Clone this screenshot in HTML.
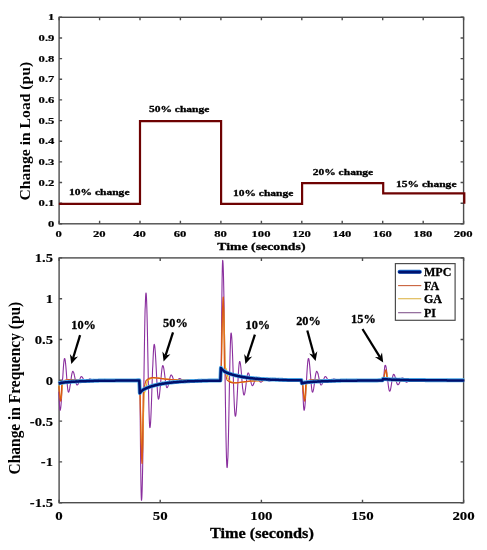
<!DOCTYPE html>
<html><head><meta charset="utf-8"><title>Load change and frequency response</title>
<style>html,body{margin:0;padding:0;background:#fff;}svg{display:block;}</style>
</head><body>
<svg width="487" height="550" viewBox="0 0 487 550">
<rect width="487" height="550" fill="#fff"/>
<rect x="59.1" y="17.3" width="404.5" height="206.5" stroke="#4d4d4d" stroke-width="1.4" fill="none"/>
<path d="M59.1 223.8v-3M59.1 17.3v3M59.1 223.8h3M463.6 223.8h-3M99.6 223.8v-3M99.6 17.3v3M59.1 203.2h3M463.6 203.2h-3M140.0 223.8v-3M140.0 17.3v3M59.1 182.5h3M463.6 182.5h-3M180.4 223.8v-3M180.4 17.3v3M59.1 161.9h3M463.6 161.9h-3M220.9 223.8v-3M220.9 17.3v3M59.1 141.2h3M463.6 141.2h-3M261.4 223.8v-3M261.4 17.3v3M59.1 120.6h3M463.6 120.6h-3M301.8 223.8v-3M301.8 17.3v3M59.1 99.9h3M463.6 99.9h-3M342.2 223.8v-3M342.2 17.3v3M59.1 79.3h3M463.6 79.3h-3M382.7 223.8v-3M382.7 17.3v3M59.1 58.6h3M463.6 58.6h-3M423.2 223.8v-3M423.2 17.3v3M59.1 38.0h3M463.6 38.0h-3M463.6 223.8v-3M463.6 17.3v3M59.1 17.3h3M463.6 17.3h-3" stroke="#4d4d4d" stroke-width="1.4" fill="none"/>
<polyline points="58.9,203.8 140.0,203.8 140.0,121.2 221.1,121.2 221.1,203.8 302.1,203.8 302.1,183.1 383.2,183.1 383.2,193.4 464.3,193.4 464.3,203.8" fill="none" stroke="#6e0202" stroke-width="2.2" stroke-linejoin="miter"/>
<text x="54.4" y="226.9" font-family="'Liberation Serif', 'Times New Roman', serif" font-weight="bold" stroke="#000" stroke-width="0.2" font-size="8.9" text-anchor="end" transform="translate(54.4 0) scale(1.42 1) translate(-54.4 0)">0</text>
<text x="54.4" y="206.2" font-family="'Liberation Serif', 'Times New Roman', serif" font-weight="bold" stroke="#000" stroke-width="0.2" font-size="8.9" text-anchor="end" transform="translate(54.4 0) scale(1.42 1) translate(-54.4 0)">0.1</text>
<text x="54.4" y="185.6" font-family="'Liberation Serif', 'Times New Roman', serif" font-weight="bold" stroke="#000" stroke-width="0.2" font-size="8.9" text-anchor="end" transform="translate(54.4 0) scale(1.42 1) translate(-54.4 0)">0.2</text>
<text x="54.4" y="164.9" font-family="'Liberation Serif', 'Times New Roman', serif" font-weight="bold" stroke="#000" stroke-width="0.2" font-size="8.9" text-anchor="end" transform="translate(54.4 0) scale(1.42 1) translate(-54.4 0)">0.3</text>
<text x="54.4" y="144.2" font-family="'Liberation Serif', 'Times New Roman', serif" font-weight="bold" stroke="#000" stroke-width="0.2" font-size="8.9" text-anchor="end" transform="translate(54.4 0) scale(1.42 1) translate(-54.4 0)">0.4</text>
<text x="54.4" y="123.6" font-family="'Liberation Serif', 'Times New Roman', serif" font-weight="bold" stroke="#000" stroke-width="0.2" font-size="8.9" text-anchor="end" transform="translate(54.4 0) scale(1.42 1) translate(-54.4 0)">0.5</text>
<text x="54.4" y="103.0" font-family="'Liberation Serif', 'Times New Roman', serif" font-weight="bold" stroke="#000" stroke-width="0.2" font-size="8.9" text-anchor="end" transform="translate(54.4 0) scale(1.42 1) translate(-54.4 0)">0.6</text>
<text x="54.4" y="82.3" font-family="'Liberation Serif', 'Times New Roman', serif" font-weight="bold" stroke="#000" stroke-width="0.2" font-size="8.9" text-anchor="end" transform="translate(54.4 0) scale(1.42 1) translate(-54.4 0)">0.7</text>
<text x="54.4" y="61.6" font-family="'Liberation Serif', 'Times New Roman', serif" font-weight="bold" stroke="#000" stroke-width="0.2" font-size="8.9" text-anchor="end" transform="translate(54.4 0) scale(1.42 1) translate(-54.4 0)">0.8</text>
<text x="54.4" y="41.0" font-family="'Liberation Serif', 'Times New Roman', serif" font-weight="bold" stroke="#000" stroke-width="0.2" font-size="8.9" text-anchor="end" transform="translate(54.4 0) scale(1.42 1) translate(-54.4 0)">0.9</text>
<text x="54.4" y="20.4" font-family="'Liberation Serif', 'Times New Roman', serif" font-weight="bold" stroke="#000" stroke-width="0.2" font-size="8.9" text-anchor="end" transform="translate(54.4 0) scale(1.42 1) translate(-54.4 0)">1</text>
<text x="58.7" y="236.9" font-family="'Liberation Serif', 'Times New Roman', serif" font-weight="bold" stroke="#000" stroke-width="0.2" font-size="8.9" text-anchor="middle" transform="translate(58.7 0) scale(1.42 1) translate(-58.7 0)">0</text>
<text x="99.2" y="236.9" font-family="'Liberation Serif', 'Times New Roman', serif" font-weight="bold" stroke="#000" stroke-width="0.2" font-size="8.9" text-anchor="middle" transform="translate(99.2 0) scale(1.42 1) translate(-99.2 0)">20</text>
<text x="139.6" y="236.9" font-family="'Liberation Serif', 'Times New Roman', serif" font-weight="bold" stroke="#000" stroke-width="0.2" font-size="8.9" text-anchor="middle" transform="translate(139.6 0) scale(1.42 1) translate(-139.6 0)">40</text>
<text x="180.0" y="236.9" font-family="'Liberation Serif', 'Times New Roman', serif" font-weight="bold" stroke="#000" stroke-width="0.2" font-size="8.9" text-anchor="middle" transform="translate(180.0 0) scale(1.42 1) translate(-180.0 0)">60</text>
<text x="220.5" y="236.9" font-family="'Liberation Serif', 'Times New Roman', serif" font-weight="bold" stroke="#000" stroke-width="0.2" font-size="8.9" text-anchor="middle" transform="translate(220.5 0) scale(1.42 1) translate(-220.5 0)">80</text>
<text x="261.0" y="236.9" font-family="'Liberation Serif', 'Times New Roman', serif" font-weight="bold" stroke="#000" stroke-width="0.2" font-size="8.9" text-anchor="middle" transform="translate(261.0 0) scale(1.42 1) translate(-261.0 0)">100</text>
<text x="301.4" y="236.9" font-family="'Liberation Serif', 'Times New Roman', serif" font-weight="bold" stroke="#000" stroke-width="0.2" font-size="8.9" text-anchor="middle" transform="translate(301.4 0) scale(1.42 1) translate(-301.4 0)">120</text>
<text x="341.9" y="236.9" font-family="'Liberation Serif', 'Times New Roman', serif" font-weight="bold" stroke="#000" stroke-width="0.2" font-size="8.9" text-anchor="middle" transform="translate(341.9 0) scale(1.42 1) translate(-341.9 0)">140</text>
<text x="382.3" y="236.9" font-family="'Liberation Serif', 'Times New Roman', serif" font-weight="bold" stroke="#000" stroke-width="0.2" font-size="8.9" text-anchor="middle" transform="translate(382.3 0) scale(1.42 1) translate(-382.3 0)">160</text>
<text x="422.8" y="236.9" font-family="'Liberation Serif', 'Times New Roman', serif" font-weight="bold" stroke="#000" stroke-width="0.2" font-size="8.9" text-anchor="middle" transform="translate(422.8 0) scale(1.42 1) translate(-422.8 0)">180</text>
<text x="463.2" y="236.9" font-family="'Liberation Serif', 'Times New Roman', serif" font-weight="bold" stroke="#000" stroke-width="0.2" font-size="8.9" text-anchor="middle" transform="translate(463.2 0) scale(1.42 1) translate(-463.2 0)">200</text>
<text x="217.2" y="250" font-family="'Liberation Serif', 'Times New Roman', serif" font-weight="bold" stroke="#000" stroke-width="0.3" font-size="11.2" textLength="88.3" lengthAdjust="spacingAndGlyphs">Time (seconds)</text>
<text transform="translate(29.8 200.6) rotate(-90)" x="0" y="0" font-family="'Liberation Serif', 'Times New Roman', serif" font-weight="bold" font-size="14" textLength="138.8" lengthAdjust="spacingAndGlyphs">Change in Load (pu)</text>
<text x="69.0" y="195.0" font-family="'Liberation Serif', 'Times New Roman', serif" font-weight="bold" stroke="#000" stroke-width="0.3" font-size="9" textLength="60.5" lengthAdjust="spacingAndGlyphs">10% change</text>
<text x="148.9" y="112.0" font-family="'Liberation Serif', 'Times New Roman', serif" font-weight="bold" stroke="#000" stroke-width="0.3" font-size="9" textLength="60.5" lengthAdjust="spacingAndGlyphs">50% change</text>
<text x="232.9" y="196.0" font-family="'Liberation Serif', 'Times New Roman', serif" font-weight="bold" stroke="#000" stroke-width="0.3" font-size="9" textLength="60.5" lengthAdjust="spacingAndGlyphs">10% change</text>
<text x="312.7" y="174.9" font-family="'Liberation Serif', 'Times New Roman', serif" font-weight="bold" stroke="#000" stroke-width="0.3" font-size="9" textLength="60.5" lengthAdjust="spacingAndGlyphs">20% change</text>
<text x="396.0" y="186.8" font-family="'Liberation Serif', 'Times New Roman', serif" font-weight="bold" stroke="#000" stroke-width="0.3" font-size="9" textLength="60.5" lengthAdjust="spacingAndGlyphs">15% change</text>
<rect x="59.1" y="257.9" width="404.5" height="244.8" stroke="#4d4d4d" stroke-width="1.4" fill="none"/>
<path d="M59.1 502.7v-3M59.1 257.9v3M160.2 502.7v-3M160.2 257.9v3M261.4 502.7v-3M261.4 257.9v3M362.5 502.7v-3M362.5 257.9v3M463.6 502.7v-3M463.6 257.9v3M59.1 502.7h3M463.6 502.7h-3M59.1 461.9h3M463.6 461.9h-3M59.1 421.1h3M463.6 421.1h-3M59.1 380.3h3M463.6 380.3h-3M59.1 339.5h3M463.6 339.5h-3M59.1 298.7h3M463.6 298.7h-3M59.1 257.9h3M463.6 257.9h-3" stroke="#4d4d4d" stroke-width="1.4" fill="none"/>
<g fill="none" stroke-linejoin="round">
<polyline points="58.9,391.8 59.0,394.4 59.1,397.0 59.2,399.3 59.3,401.5 59.4,403.5 59.5,405.2 59.6,406.7 59.7,408.0 59.8,409.0 59.9,409.7 60.0,410.1 60.1,410.3 60.2,410.2 60.3,410.0 60.4,409.7 60.5,409.2 60.6,408.7 60.7,407.9 60.8,407.1 60.9,406.2 61.0,405.1 61.1,404.0 61.2,402.7 61.3,401.3 61.4,399.9 61.5,398.4 61.6,396.8 61.7,395.1 61.8,393.4 61.9,391.7 62.0,389.9 62.1,388.1 62.2,386.2 62.3,384.4 62.4,382.5 62.5,380.7 62.6,378.9 62.8,377.1 62.9,375.3 63.0,373.6 63.1,372.0 63.2,370.4 63.3,368.9 63.4,367.4 63.5,366.1 63.6,364.8 63.7,363.6 63.8,362.6 63.9,361.6 64.0,360.8 64.1,360.1 64.2,359.5 64.3,359.1 64.4,358.7 64.5,358.5 64.6,358.5 64.7,358.5 64.8,358.7 64.9,359.0 65.0,359.3 65.1,359.8 65.2,360.4 65.3,361.1 65.4,361.8 65.5,362.7 65.6,363.6 65.7,364.7 65.8,365.7 65.9,366.9 66.0,368.1 66.1,369.3 66.2,370.6 66.3,371.9 66.4,373.3 66.5,374.6 66.6,376.0 66.7,377.3 66.8,378.7 66.9,380.0 67.0,381.3 67.1,382.5 67.2,383.7 67.3,384.9 67.4,385.9 67.5,387.0 67.6,387.9 67.7,388.8 67.8,389.5 67.9,390.2 68.0,390.8 68.1,391.3 68.2,391.6 68.3,391.9 68.4,392.1 68.5,392.1 68.6,392.1 68.7,392.0 68.8,391.9 68.9,391.7 69.0,391.4 69.1,391.1 69.2,390.8 69.3,390.4 69.4,389.9 69.5,389.4 69.6,388.9 69.7,388.3 69.8,387.7 69.9,387.0 70.0,386.3 70.1,385.6 70.3,384.9 70.4,384.2 70.5,383.4 70.6,382.7 70.7,381.9 70.8,381.1 70.9,380.3 71.0,379.6 71.1,378.8 71.2,378.1 71.3,377.4 71.4,376.7 71.5,376.0 71.6,375.4 71.7,374.8 71.8,374.3 71.9,373.7 72.0,373.3 72.1,372.8 72.2,372.5 72.3,372.1 72.4,371.9 72.5,371.7 72.6,371.5 72.7,371.4 72.8,371.3 72.9,371.3 73.0,371.4 73.1,371.4 73.2,371.6 73.3,371.7 73.4,371.9 73.5,372.1 73.6,372.4 73.7,372.7 73.8,373.0 73.9,373.3 74.0,373.7 74.1,374.1 74.2,374.5 74.3,374.9 74.4,375.4 74.5,375.8 74.6,376.3 74.7,376.8 74.8,377.3 74.9,377.8 75.0,378.3 75.1,378.8 75.2,379.3 75.3,379.8 75.4,380.3 75.5,380.8 75.6,381.2 75.7,381.7 75.8,382.1 75.9,382.5 76.0,382.9 76.1,383.2 76.2,383.5 76.3,383.8 76.4,384.1 76.5,384.3 76.6,384.5 76.7,384.7 76.8,384.8 76.9,384.9 77.0,385.0 77.1,385.0 77.2,385.0 77.3,384.9 77.4,384.9 77.5,384.8 77.6,384.7 77.8,384.6 77.9,384.4 78.0,384.3 78.1,384.1 78.2,383.9 78.3,383.7 78.4,383.4 78.5,383.2 78.6,382.9 78.7,382.6 78.8,382.3 78.9,382.0 79.0,381.7 79.1,381.4 79.2,381.1 79.3,380.8 79.4,380.5 79.5,380.2 79.6,379.9 79.7,379.6 79.8,379.3 79.9,379.0 80.0,378.7 80.1,378.5 80.2,378.2 80.3,378.0 80.4,377.7 80.5,377.5 80.6,377.4 80.7,377.2 80.8,377.0 80.9,376.9 81.0,376.8 81.1,376.7 81.2,376.7 81.3,376.6 81.4,376.6 81.5,376.6 81.6,376.7 81.7,376.7 81.8,376.8 81.9,376.8 82.0,376.9 82.1,377.0 82.2,377.1 82.3,377.2 82.4,377.4 82.5,377.5 82.6,377.7 82.7,377.8 82.8,378.0 82.9,378.2 83.0,378.4 83.1,378.6 83.2,378.8 83.3,379.0 83.4,379.2 83.5,379.4 83.6,379.6 83.7,379.8 83.8,380.0 83.9,380.2 84.0,380.4 84.1,380.6 84.2,380.8 84.3,380.9 84.4,381.1 84.5,381.3 84.6,381.4 84.7,381.5 84.8,381.7 84.9,381.8 85.0,381.9 85.1,381.9 85.3,382.0 85.4,382.1 85.5,382.1 85.6,382.1 85.7,382.1 85.8,382.1 85.9,382.1 86.0,382.1 86.1,382.1 86.2,382.0 86.3,382.0 86.4,381.9 86.5,381.8 86.6,381.8 86.7,381.7 86.8,381.6 86.9,381.5 87.0,381.4 87.1,381.3 87.2,381.2 87.3,381.1 87.4,381.0 87.5,380.9 87.6,380.7 87.7,380.6 87.8,380.5 87.9,380.4 88.0,380.3 88.1,380.1 88.2,380.0 88.3,379.9 88.4,379.8 88.5,379.7 88.6,379.6 88.7,379.5 88.8,379.4 88.9,379.3 89.0,379.3 89.1,379.2 89.2,379.1 89.3,379.1 89.4,379.0 89.5,379.0 89.6,379.0 89.7,379.0 89.8,379.0 89.9,379.0 90.0,379.0 90.1,379.0 90.2,379.0 90.3,379.0 90.4,379.1 90.5,379.1 90.6,379.2 90.7,379.2 90.8,379.3 90.9,379.3 91.0,379.4 91.1,379.4 91.2,379.5 91.3,379.6 91.4,379.6 91.5,379.7 91.6,379.8 91.7,379.8 91.8,379.9 91.9,380.0 92.0,380.1 92.1,380.2 92.2,380.2 92.3,380.3 92.4,380.4 92.5,380.4 92.6,380.5 92.8,380.6 92.9,380.6 93.0,380.7 93.1,380.7 93.2,380.8 93.3,380.8 93.4,380.9 93.5,380.9 93.6,380.9 93.7,380.9 93.8,380.9 93.9,380.9 94.0,381.0 94.1,381.0 94.2,380.9 94.3,380.9 94.4,380.9 94.5,380.9 94.6,380.9 94.7,380.9 94.8,380.9 94.9,380.8 95.0,380.8 95.1,380.8 95.2,380.7 95.3,380.7 95.4,380.7 95.5,380.6 95.6,380.6 95.7,380.6 95.8,380.5 95.9,380.5 96.0,380.4 96.1,380.4 96.2,380.4 96.3,380.3 96.4,380.3 96.5,380.2 96.6,380.2 96.7,380.2 96.8,380.1 96.9,380.1 97.0,380.1 97.1,380.0 97.2,380.0 97.3,380.0 97.4,379.9 97.5,379.9 97.6,379.9 97.7,379.9 97.8,379.9 97.9,379.9 98.0,379.9 98.1,379.9 98.2,379.9 98.3,379.9 98.4,379.9 98.5,379.9 98.6,379.9 98.7,379.9 98.8,379.9 98.9,379.9 99.0,379.9 99.1,379.9 99.2,379.9 99.3,380.0 99.4,380.0 99.5,380.0 99.6,380.0 99.7,380.0 99.8,380.1 99.9,380.1 100.0,380.1 100.1,380.1 100.3,380.2 100.4,380.2 100.5,380.2 100.6,380.2 100.7,380.3 100.8,380.3 100.9,380.3 101.0,380.3 101.1,380.4 101.2,380.4 101.3,380.4 101.4,380.4 101.5,380.4 101.6,380.5 101.7,380.5 101.8,380.5 101.9,380.5 102.0,380.5 102.1,380.5 102.2,380.5 102.3,380.5 102.4,380.5 102.5,380.5 102.6,380.5 102.7,380.5 102.8,380.5 102.9,380.5 103.0,380.5 103.1,380.5 103.2,380.5 103.3,380.5 103.4,380.5 103.5,380.5 103.6,380.5 103.7,380.5 103.8,380.4 103.9,380.4 104.0,380.4 104.1,380.4 104.2,380.4 104.3,380.4 104.4,380.4 104.5,380.4 104.6,380.3 104.7,380.3 104.8,380.3 104.9,380.3 105.0,380.3 105.1,380.3 105.2,380.3 105.3,380.2 105.4,380.2 105.5,380.2 105.6,380.2 105.7,380.2 105.8,380.2 105.9,380.2 106.0,380.2 106.1,380.2 106.2,380.2 106.3,380.2 106.4,380.2 106.5,380.2 106.6,380.2 106.7,380.2 106.8,380.2 106.9,380.2 107.0,380.2 107.1,380.2 107.2,380.2 107.3,380.2 107.4,380.2 107.5,380.2 107.6,380.2 107.8,380.2 107.9,380.2 108.0,380.2 108.1,380.2 108.2,380.2 108.3,380.2 108.4,380.2 108.5,380.2 108.6,380.2 108.7,380.2 108.8,380.3 108.9,380.3 109.0,380.3 109.1,380.3 109.2,380.3 109.3,380.3 109.4,380.3 109.5,380.3 109.6,380.3 109.7,380.3 109.8,380.3 109.9,380.3 110.0,380.3 110.1,380.3 110.2,380.3 110.3,380.3 110.4,380.4 110.5,380.4 110.6,380.4 110.7,380.4 110.8,380.4 110.9,380.4 111.0,380.4 111.1,380.4 111.2,380.4 111.3,380.4 111.4,380.4 111.5,380.4 111.6,380.4 111.7,380.4 111.8,380.4 111.9,380.4 112.0,380.4 112.1,380.4 112.2,380.3 112.3,380.3 112.4,380.3 112.5,380.3 112.6,380.3 112.7,380.3 112.8,380.3 112.9,380.3 113.0,380.3 113.1,380.3 113.2,380.3 113.3,380.3 113.4,380.3 113.5,380.3 113.6,380.3 113.7,380.3 113.8,380.3 113.9,380.3 114.0,380.3 114.1,380.3 114.2,380.3 114.3,380.3 114.4,380.3 114.5,380.3 114.6,380.3 114.7,380.3 114.8,380.3 114.9,380.3 115.0,380.3 115.1,380.3 115.3,380.3 115.4,380.3 115.5,380.3 115.6,380.3 115.7,380.3 115.8,380.3 115.9,380.3 116.0,380.3 116.1,380.3 116.2,380.3 116.3,380.3 116.4,380.3 116.5,380.3 116.6,380.3 116.7,380.3 116.8,380.3 116.9,380.3 117.0,380.3 117.1,380.3 117.2,380.3 117.3,380.3 117.4,380.3 117.5,380.3 117.6,380.3 117.7,380.3 117.8,380.3 117.9,380.3 118.0,380.3 118.1,380.3 118.2,380.3 118.3,380.3 118.4,380.3 118.5,380.3 118.6,380.3 118.7,380.3 118.8,380.3 118.9,380.3 119.0,380.3 119.1,380.3 119.2,380.3 119.3,380.3 119.4,380.3 119.5,380.3 119.6,380.3 119.7,380.3 119.8,380.3 119.9,380.3 120.0,380.3 120.1,380.3 120.2,380.3 120.3,380.3 120.4,380.3 120.5,380.3 120.6,380.3 120.7,380.3 120.8,380.3 120.9,380.3 121.0,380.3 121.1,380.3 121.2,380.3 121.3,380.3 121.4,380.3 121.5,380.3 121.6,380.3 121.7,380.3 121.8,380.3 121.9,380.3 122.0,380.3 122.1,380.3 122.2,380.3 122.3,380.3 122.4,380.3 122.5,380.3 122.6,380.3 122.8,380.3 122.9,380.3 123.0,380.3 123.1,380.3 123.2,380.3 123.3,380.3 123.4,380.3 123.5,380.3 123.6,380.3 123.7,380.3 123.8,380.3 125.8,380.3 127.8,380.3 129.8,380.3 131.9,380.3 133.9,380.3 135.9,380.3 138.0,380.3 138.1,380.3 138.2,380.3 138.3,380.3 138.4,380.3 138.5,380.3 138.6,380.3 138.7,380.3 138.8,380.3 138.9,380.3 139.0,380.3 139.1,380.3 139.2,380.3 139.3,380.3 139.4,380.3 139.5,380.3 139.6,380.3 139.7,380.3 139.8,380.3 139.9,380.3 140.0,391.8 140.0,392.1 140.1,403.7 140.2,415.1 140.3,426.2 140.4,436.8 140.5,446.9 140.6,456.4 140.7,465.1 140.8,473.0 140.9,480.0 141.0,486.1 141.1,491.1 141.2,495.1 141.3,497.9 141.4,499.7 141.5,500.3 141.6,500.0 141.7,499.2 141.8,497.9 141.9,496.1 142.0,493.7 142.1,490.9 142.2,487.6 142.3,483.8 142.4,479.6 142.5,474.9 142.6,469.9 142.7,464.5 142.8,458.7 142.9,452.6 143.0,446.3 143.1,439.7 143.2,432.8 143.3,425.8 143.4,418.6 143.5,411.4 143.6,404.0 143.7,396.6 143.8,389.2 143.9,381.9 144.0,374.6 144.1,367.4 144.2,360.4 144.3,353.6 144.4,347.0 144.5,340.6 144.6,334.5 144.7,328.8 144.8,323.3 144.9,318.3 145.0,313.7 145.1,309.4 145.3,305.7 145.4,302.4 145.5,299.5 145.6,297.2 145.7,295.4 145.8,294.0 145.9,293.3 146.0,293.0 146.1,293.2 146.2,293.9 146.3,294.9 146.4,296.5 146.5,298.4 146.6,300.7 146.7,303.4 146.8,306.5 146.9,309.9 147.0,313.7 147.1,317.7 147.2,322.1 147.3,326.6 147.4,331.4 147.5,336.4 147.6,341.6 147.7,346.8 147.8,352.2 147.9,357.6 148.0,363.0 148.1,368.4 148.2,373.8 148.3,379.0 148.4,384.2 148.5,389.2 148.6,394.0 148.7,398.6 148.8,402.9 148.9,406.9 149.0,410.7 149.1,414.1 149.2,417.2 149.3,419.9 149.4,422.2 149.5,424.2 149.6,425.7 149.7,426.8 149.8,427.4 149.9,427.6 150.0,427.5 150.1,427.2 150.2,426.6 150.3,425.8 150.4,424.8 150.5,423.6 150.6,422.2 150.7,420.5 150.8,418.7 150.9,416.7 151.0,414.6 151.1,412.2 151.2,409.8 151.3,407.2 151.4,404.5 151.5,401.7 151.6,398.8 151.7,395.8 151.8,392.8 151.9,389.7 152.0,386.6 152.1,383.5 152.2,380.5 152.3,377.4 152.4,374.4 152.5,371.5 152.6,368.7 152.8,365.9 152.9,363.3 153.0,360.8 153.1,358.4 153.2,356.2 153.3,354.1 153.4,352.2 153.5,350.5 153.6,349.0 153.7,347.7 153.8,346.6 153.9,345.7 154.0,345.1 154.1,344.6 154.2,344.4 154.3,344.4 154.4,344.6 154.5,344.9 154.6,345.4 154.7,346.0 154.8,346.7 154.9,347.6 155.0,348.6 155.1,349.7 155.2,351.0 155.3,352.3 155.4,353.8 155.5,355.4 155.6,357.0 155.7,358.8 155.8,360.6 155.9,362.4 156.0,364.4 156.1,366.3 156.2,368.3 156.3,370.3 156.4,372.3 156.5,374.3 156.6,376.3 156.7,378.3 156.8,380.3 156.9,382.1 157.0,384.0 157.1,385.7 157.2,387.4 157.3,389.0 157.4,390.6 157.5,392.0 157.6,393.3 157.7,394.4 157.8,395.5 157.9,396.4 158.0,397.2 158.1,397.9 158.2,398.4 158.3,398.8 158.4,399.0 158.5,399.1 158.6,399.0 158.7,398.9 158.8,398.6 158.9,398.3 159.0,397.9 159.1,397.4 159.2,396.8 159.3,396.2 159.4,395.4 159.5,394.6 159.6,393.7 159.7,392.8 159.8,391.8 159.9,390.7 160.0,389.6 160.1,388.5 160.2,387.3 160.4,386.1 160.5,384.8 160.6,383.6 160.7,382.3 160.8,381.1 160.9,379.8 161.0,378.6 161.1,377.4 161.2,376.2 161.3,375.1 161.4,374.0 161.5,372.9 161.6,371.9 161.7,371.0 161.8,370.1 161.9,369.3 162.0,368.5 162.1,367.9 162.2,367.3 162.3,366.8 162.4,366.4 162.5,366.0 162.6,365.8 162.7,365.7 162.8,365.6 162.9,365.6 163.0,365.7 163.1,365.9 163.2,366.1 163.3,366.4 163.4,366.7 163.5,367.1 163.6,367.5 163.7,368.0 163.8,368.6 163.9,369.1 164.0,369.8 164.1,370.4 164.2,371.1 164.3,371.8 164.4,372.6 164.5,373.4 164.6,374.2 164.7,375.0 164.8,375.8 164.9,376.6 165.0,377.5 165.1,378.3 165.2,379.1 165.3,379.9 165.4,380.7 165.5,381.4 165.6,382.1 165.7,382.8 165.8,383.5 165.9,384.1 166.0,384.7 166.1,385.2 166.2,385.7 166.3,386.2 166.4,386.6 166.5,386.9 166.6,387.2 166.7,387.4 166.8,387.5 166.9,387.6 167.0,387.6 167.1,387.6 167.2,387.6 167.3,387.5 167.4,387.3 167.5,387.2 167.6,387.0 167.7,386.8 167.9,386.5 168.0,386.2 168.1,385.9 168.2,385.5 168.3,385.2 168.4,384.8 168.5,384.3 168.6,383.9 168.7,383.5 168.8,383.0 168.9,382.5 169.0,382.0 169.1,381.6 169.2,381.1 169.3,380.6 169.4,380.1 169.5,379.6 169.6,379.2 169.7,378.7 169.8,378.3 169.9,377.9 170.0,377.5 170.1,377.1 170.2,376.8 170.3,376.4 170.4,376.1 170.5,375.9 170.6,375.7 170.7,375.5 170.8,375.3 170.9,375.2 171.0,375.1 171.1,375.0 171.2,375.0 171.3,375.0 171.4,375.0 171.5,375.1 171.6,375.2 171.7,375.3 171.8,375.4 171.9,375.6 172.0,375.7 172.1,375.9 172.2,376.1 172.3,376.3 172.4,376.6 172.5,376.8 172.6,377.1 172.7,377.3 172.8,377.6 172.9,377.9 173.0,378.2 173.1,378.5 173.2,378.8 173.3,379.1 173.4,379.4 173.5,379.7 173.6,380.0 173.7,380.3 173.8,380.6 173.9,380.8 174.0,381.1 174.1,381.4 174.2,381.6 174.3,381.8 174.4,382.0 174.5,382.2 174.6,382.4 174.7,382.5 174.8,382.6 174.9,382.7 175.0,382.8 175.1,382.9 175.2,382.9 175.4,382.9 175.5,382.9 175.6,382.9 175.7,382.9 175.8,382.8 175.9,382.8 176.0,382.7 176.1,382.6 176.2,382.5 176.3,382.4 176.4,382.3 176.5,382.2 176.6,382.1 176.7,381.9 176.8,381.8 176.9,381.7 177.0,381.5 177.1,381.4 177.2,381.2 177.3,381.0 177.4,380.9 177.5,380.7 177.6,380.5 177.7,380.4 177.8,380.2 177.9,380.1 178.0,379.9 178.1,379.8 178.2,379.6 178.3,379.5 178.4,379.3 178.5,379.2 178.6,379.1 178.7,379.0 178.8,378.9 178.9,378.8 179.0,378.7 179.1,378.7 179.2,378.6 179.3,378.6 179.4,378.5 179.5,378.5 179.6,378.5 179.7,378.5 179.8,378.5 179.9,378.5 180.0,378.6 180.1,378.6 180.2,378.6 180.3,378.7 180.4,378.7 180.5,378.8 180.6,378.9 180.7,378.9 180.8,379.0 180.9,379.1 181.0,379.2 181.1,379.3 181.2,379.4 181.3,379.5 181.4,379.6 181.5,379.7 181.6,379.8 181.7,379.9 181.8,380.0 181.9,380.1 182.0,380.2 182.1,380.2 182.2,380.3 182.3,380.4 182.4,380.5 182.5,380.6 182.6,380.7 182.7,380.8 182.9,380.8 183.0,380.9 183.1,381.0 183.2,381.0 183.3,381.1 183.4,381.1 183.5,381.1 183.6,381.2 183.7,381.2 183.8,381.2 183.9,381.2 184.0,381.2 184.1,381.2 184.2,381.2 184.3,381.2 184.4,381.1 184.5,381.1 184.6,381.1 184.7,381.1 184.8,381.0 184.9,381.0 185.0,381.0 185.1,380.9 185.2,380.9 185.3,380.8 185.4,380.8 185.5,380.7 185.6,380.7 185.7,380.6 185.8,380.6 185.9,380.5 186.0,380.5 186.1,380.4 186.2,380.4 186.3,380.3 186.4,380.2 186.5,380.2 186.6,380.1 186.7,380.1 186.8,380.0 186.9,380.0 187.0,380.0 187.1,379.9 187.2,379.9 187.3,379.9 187.4,379.8 187.5,379.8 187.6,379.8 187.7,379.8 187.8,379.7 187.9,379.7 188.0,379.7 188.1,379.7 188.2,379.7 188.3,379.7 188.4,379.7 188.5,379.7 188.6,379.8 188.7,379.8 188.8,379.8 188.9,379.8 189.0,379.8 189.1,379.8 189.2,379.9 189.3,379.9 189.4,379.9 189.5,379.9 189.6,380.0 189.7,380.0 189.8,380.0 189.9,380.0 190.0,380.1 190.1,380.1 190.2,380.1 190.4,380.2 190.5,380.2 190.6,380.2 190.7,380.3 190.8,380.3 190.9,380.3 191.0,380.3 191.1,380.4 191.2,380.4 191.3,380.4 191.4,380.4 191.5,380.5 191.6,380.5 191.7,380.5 191.8,380.5 191.9,380.5 192.0,380.5 192.1,380.5 192.2,380.5 192.3,380.5 192.4,380.5 192.5,380.5 192.6,380.5 192.7,380.5 192.8,380.5 192.9,380.5 193.0,380.5 193.1,380.5 193.2,380.5 193.3,380.5 193.4,380.5 193.5,380.5 193.6,380.5 193.7,380.5 193.8,380.5 193.9,380.5 194.0,380.5 194.1,380.5 194.2,380.4 194.3,380.4 194.4,380.4 194.5,380.4 194.6,380.4 194.7,380.4 194.8,380.4 194.9,380.4 195.0,380.4 195.1,380.4 195.2,380.4 195.3,380.4 195.4,380.3 195.5,380.3 195.6,380.3 195.7,380.3 195.8,380.3 195.9,380.3 196.0,380.3 196.1,380.3 196.2,380.3 196.3,380.3 196.4,380.3 196.5,380.3 196.6,380.3 196.7,380.3 196.8,380.3 196.9,380.3 197.0,380.3 197.1,380.3 197.2,380.3 197.3,380.3 197.4,380.3 197.5,380.3 197.6,380.3 197.7,380.3 197.9,380.3 198.0,380.3 198.1,380.3 198.2,380.3 198.3,380.3 198.4,380.3 198.5,380.3 198.6,380.3 198.7,380.3 198.8,380.3 198.9,380.3 199.0,380.3 199.1,380.3 199.2,380.3 199.3,380.3 199.4,380.3 199.5,380.3 199.6,380.3 199.7,380.3 199.8,380.3 199.9,380.3 200.0,380.3 200.1,380.3 200.2,380.3 200.3,380.3 200.4,380.3 200.5,380.3 200.6,380.3 200.7,380.3 200.8,380.3 200.9,380.3 201.0,380.3 201.1,380.3 201.2,380.3 201.3,380.3 201.4,380.3 201.5,380.3 201.6,380.3 201.7,380.3 201.8,380.3 201.9,380.3 202.0,380.3 202.1,380.3 202.2,380.3 202.3,380.3 202.4,380.3 202.5,380.3 202.6,380.3 202.7,380.3 202.8,380.3 202.9,380.3 203.0,380.3 203.1,380.3 203.2,380.3 203.3,380.3 203.4,380.3 203.5,380.3 203.6,380.3 203.7,380.3 203.8,380.3 203.9,380.3 204.0,380.3 204.1,380.3 204.2,380.3 204.3,380.3 204.4,380.3 204.5,380.3 204.6,380.3 204.7,380.3 204.8,380.3 206.9,380.3 208.9,380.3 210.9,380.3 213.0,380.3 215.0,380.3 217.0,380.3 219.0,380.3 219.1,380.3 219.2,380.3 219.3,380.3 219.4,380.3 219.5,380.3 219.6,380.3 219.7,380.3 219.8,380.3 219.9,380.3 220.0,380.3 220.1,380.3 220.2,380.3 220.4,380.3 220.5,380.3 220.6,380.3 220.7,380.3 220.8,380.3 220.9,380.3 221.0,380.3 221.1,380.3 221.2,368.5 221.3,356.9 221.4,345.5 221.5,334.4 221.6,323.8 221.7,313.7 221.8,304.2 221.9,295.5 222.0,287.6 222.1,280.6 222.2,274.5 222.3,269.5 222.4,265.5 222.5,262.7 222.6,260.9 222.7,260.3 222.8,260.6 222.9,261.4 223.0,262.7 223.1,264.5 223.2,266.9 223.3,269.7 223.4,273.0 223.5,276.8 223.6,281.0 223.7,285.7 223.8,290.7 223.9,296.1 224.0,301.9 224.1,308.0 224.2,314.3 224.3,320.9 224.4,327.8 224.5,334.8 224.6,342.0 224.7,349.2 224.8,356.6 224.9,364.0 225.0,371.4 225.1,378.7 225.2,386.0 225.3,393.2 225.4,400.2 225.5,407.0 225.6,413.6 225.7,420.0 225.8,426.1 225.9,431.8 226.0,437.3 226.1,442.3 226.2,446.9 226.3,451.2 226.4,454.9 226.5,458.2 226.6,461.1 226.7,463.4 226.8,465.2 226.9,466.6 227.0,467.3 227.1,467.6 227.2,467.4 227.3,466.7 227.4,465.7 227.5,464.1 227.6,462.2 227.7,459.9 227.9,457.2 228.0,454.1 228.1,450.7 228.2,446.9 228.3,442.9 228.4,438.5 228.5,434.0 228.6,429.2 228.7,424.2 228.8,419.0 228.9,413.8 229.0,408.4 229.1,403.0 229.2,397.6 229.3,392.2 229.4,386.8 229.5,381.6 229.6,376.4 229.7,371.4 229.8,366.6 229.9,362.0 230.0,357.7 230.1,353.7 230.2,349.9 230.3,346.5 230.4,343.4 230.5,340.7 230.6,338.4 230.7,336.4 230.8,334.9 230.9,333.8 231.0,333.2 231.1,333.0 231.2,333.1 231.3,333.4 231.4,334.0 231.5,334.8 231.6,335.8 231.7,337.0 231.8,338.4 231.9,340.1 232.0,341.9 232.1,343.9 232.2,346.0 232.3,348.4 232.4,350.8 232.5,353.4 232.6,356.1 232.7,358.9 232.8,361.8 232.9,364.8 233.0,367.8 233.1,370.9 233.2,374.0 233.3,377.1 233.4,380.1 233.5,383.2 233.6,386.2 233.7,389.1 233.8,391.9 233.9,394.7 234.0,397.3 234.1,399.8 234.2,402.2 234.3,404.4 234.4,406.5 234.5,408.4 234.6,410.1 234.7,411.6 234.8,412.9 234.9,414.0 235.0,414.9 235.1,415.5 235.2,416.0 235.4,416.2 235.5,416.2 235.6,416.0 235.7,415.7 235.8,415.2 235.9,414.6 236.0,413.9 236.1,413.0 236.2,412.0 236.3,410.9 236.4,409.6 236.5,408.3 236.6,406.8 236.7,405.2 236.8,403.6 236.9,401.8 237.0,400.0 237.1,398.2 237.2,396.2 237.3,394.3 237.4,392.3 237.5,390.3 237.6,388.3 237.7,386.3 237.8,384.3 237.9,382.3 238.0,380.3 238.1,378.5 238.2,376.6 238.3,374.9 238.4,373.2 238.5,371.6 238.6,370.0 238.7,368.6 238.8,367.3 238.9,366.2 239.0,365.1 239.1,364.2 239.2,363.4 239.3,362.7 239.4,362.2 239.5,361.8 239.6,361.6 239.7,361.5 239.8,361.6 239.9,361.7 240.0,362.0 240.1,362.3 240.2,362.7 240.3,363.2 240.4,363.8 240.5,364.4 240.6,365.2 240.7,366.0 240.8,366.9 240.9,367.8 241.0,368.8 241.1,369.9 241.2,371.0 241.3,372.1 241.4,373.3 241.5,374.5 241.6,375.8 241.7,377.0 241.8,378.3 241.9,379.5 242.0,380.8 242.1,382.0 242.2,383.2 242.3,384.4 242.4,385.5 242.5,386.6 242.6,387.7 242.7,388.7 242.9,389.6 243.0,390.5 243.1,391.3 243.2,392.1 243.3,392.7 243.4,393.3 243.5,393.8 243.6,394.2 243.7,394.6 243.8,394.8 243.9,394.9 244.0,395.0 244.1,395.0 244.2,394.9 244.3,394.7 244.4,394.5 244.5,394.2 244.6,393.9 244.7,393.5 244.8,393.1 244.9,392.6 245.0,392.0 245.1,391.5 245.2,390.8 245.3,390.2 245.4,389.5 245.5,388.8 245.6,388.0 245.7,387.2 245.8,386.4 245.9,385.6 246.0,384.8 246.1,384.0 246.2,383.1 246.3,382.3 246.4,381.5 246.5,380.7 246.6,379.9 246.7,379.2 246.8,378.5 246.9,377.8 247.0,377.1 247.1,376.5 247.2,375.9 247.3,375.4 247.4,374.9 247.5,374.4 247.6,374.0 247.7,373.7 247.8,373.4 247.9,373.2 248.0,373.1 248.1,373.0 248.2,373.0 248.3,373.0 248.4,373.0 248.5,373.1 248.6,373.3 248.7,373.4 248.8,373.6 248.9,373.8 249.0,374.1 249.1,374.4 249.2,374.7 249.3,375.1 249.4,375.4 249.5,375.8 249.6,376.3 249.7,376.7 249.8,377.1 249.9,377.6 250.0,378.1 250.1,378.6 250.2,379.0 250.4,379.5 250.5,380.0 250.6,380.5 250.7,381.0 250.8,381.4 250.9,381.9 251.0,382.3 251.1,382.7 251.2,383.1 251.3,383.5 251.4,383.8 251.5,384.2 251.6,384.5 251.7,384.7 251.8,384.9 251.9,385.1 252.0,385.3 252.1,385.4 252.2,385.5 252.3,385.6 252.4,385.6 252.5,385.6 252.6,385.6 252.7,385.5 252.8,385.4 252.9,385.3 253.0,385.2 253.1,385.0 253.2,384.9 253.3,384.7 253.4,384.5 253.5,384.3 253.6,384.0 253.7,383.8 253.8,383.5 253.9,383.3 254.0,383.0 254.1,382.7 254.2,382.4 254.3,382.1 254.4,381.8 254.5,381.5 254.6,381.2 254.7,380.9 254.8,380.6 254.9,380.3 255.0,380.0 255.1,379.8 255.2,379.5 255.3,379.2 255.4,379.0 255.5,378.8 255.6,378.6 255.7,378.4 255.8,378.2 255.9,378.1 256.0,378.0 256.1,377.9 256.2,377.8 256.3,377.7 256.4,377.7 256.5,377.7 256.6,377.7 256.7,377.7 256.8,377.7 256.9,377.8 257.0,377.8 257.1,377.9 257.2,378.0 257.3,378.1 257.4,378.2 257.5,378.3 257.6,378.4 257.7,378.5 257.9,378.7 258.0,378.8 258.1,378.9 258.2,379.1 258.3,379.2 258.4,379.4 258.5,379.6 258.6,379.7 258.7,379.9 258.8,380.1 258.9,380.2 259.0,380.4 259.1,380.5 259.2,380.7 259.3,380.8 259.4,381.0 259.5,381.1 259.6,381.3 259.7,381.4 259.8,381.5 259.9,381.6 260.0,381.7 260.1,381.8 260.2,381.9 260.3,381.9 260.4,382.0 260.5,382.0 260.6,382.1 260.7,382.1 260.8,382.1 260.9,382.1 261.0,382.1 261.1,382.1 261.2,382.0 261.3,382.0 261.4,382.0 261.5,381.9 261.6,381.9 261.7,381.8 261.8,381.7 261.9,381.7 262.0,381.6 262.1,381.5 262.2,381.4 262.3,381.3 262.4,381.2 262.5,381.1 262.6,381.0 262.7,380.9 262.8,380.8 262.9,380.7 263.0,380.6 263.1,380.5 263.2,380.4 263.3,380.4 263.4,380.3 263.5,380.2 263.6,380.1 263.7,380.0 263.8,379.9 263.9,379.8 264.0,379.8 264.1,379.7 264.2,379.6 264.3,379.6 264.4,379.5 264.5,379.5 264.6,379.5 264.7,379.4 264.8,379.4 264.9,379.4 265.0,379.4 265.1,379.4 265.2,379.4 265.3,379.4 265.5,379.4 265.6,379.5 265.7,379.5 265.8,379.5 265.9,379.5 266.0,379.6 266.1,379.6 266.2,379.6 266.3,379.7 266.4,379.7 266.5,379.8 266.6,379.8 266.7,379.9 266.8,379.9 266.9,380.0 267.0,380.0 267.1,380.1 267.2,380.1 267.3,380.2 267.4,380.2 267.5,380.3 267.6,380.4 267.7,380.4 267.8,380.5 267.9,380.5 268.0,380.6 268.1,380.6 268.2,380.6 268.3,380.7 268.4,380.7 268.5,380.7 268.6,380.8 268.7,380.8 268.8,380.8 268.9,380.8 269.0,380.9 269.1,380.9 269.2,380.9 269.3,380.9 269.4,380.9 269.5,380.9 269.6,380.9 269.7,380.9 269.8,380.8 269.9,380.8 270.0,380.8 270.1,380.8 270.2,380.8 270.3,380.8 270.4,380.7 270.5,380.7 270.6,380.7 270.7,380.7 270.8,380.6 270.9,380.6 271.0,380.6 271.1,380.6 271.2,380.5 271.3,380.5 271.4,380.5 271.5,380.4 271.6,380.4 271.7,380.4 271.8,380.3 271.9,380.3 272.0,380.3 272.1,380.3 272.2,380.2 272.3,380.2 272.4,380.2 272.5,380.2 272.6,380.1 272.7,380.1 272.8,380.1 273.0,380.1 273.1,380.1 273.2,380.1 273.3,380.1 273.4,380.1 273.5,380.1 273.6,380.1 273.7,380.1 273.8,380.1 273.9,380.1 274.0,380.1 274.1,380.1 274.2,380.1 274.3,380.1 274.4,380.1 274.5,380.1 274.6,380.1 274.7,380.1 274.8,380.1 274.9,380.1 275.0,380.1 275.1,380.1 275.2,380.1 275.3,380.1 275.4,380.2 275.5,380.2 275.6,380.2 275.7,380.2 275.8,380.2 275.9,380.2 276.0,380.2 276.1,380.2 276.2,380.2 276.3,380.2 276.4,380.2 276.5,380.2 276.6,380.3 276.7,380.3 276.8,380.3 276.9,380.3 277.0,380.3 277.1,380.3 277.2,380.3 277.3,380.3 277.4,380.3 277.5,380.3 277.6,380.3 277.7,380.3 277.8,380.3 277.9,380.3 278.0,380.3 278.1,380.3 278.2,380.3 278.3,380.3 278.4,380.3 278.5,380.3 278.6,380.3 278.7,380.3 278.8,380.3 278.9,380.3 279.0,380.3 279.1,380.3 279.2,380.3 279.3,380.3 279.4,380.3 279.5,380.3 279.6,380.3 279.7,380.3 279.8,380.3 279.9,380.3 280.0,380.3 280.1,380.3 280.2,380.3 280.3,380.3 280.5,380.3 280.6,380.3 280.7,380.3 280.8,380.3 280.9,380.3 281.0,380.3 281.1,380.3 281.2,380.3 281.3,380.3 281.4,380.3 281.5,380.3 281.6,380.3 281.7,380.3 281.8,380.3 281.9,380.3 282.0,380.3 282.1,380.3 282.2,380.3 282.3,380.3 282.4,380.3 282.5,380.3 282.6,380.3 282.7,380.3 282.8,380.3 282.9,380.3 283.0,380.3 283.1,380.3 283.2,380.3 283.3,380.3 283.4,380.3 283.5,380.3 283.6,380.3 283.7,380.3 283.8,380.3 283.9,380.3 284.0,380.3 284.1,380.3 284.2,380.3 284.3,380.3 284.4,380.3 284.5,380.3 284.6,380.3 284.7,380.3 284.8,380.3 284.9,380.3 285.0,380.3 285.1,380.3 285.2,380.3 285.3,380.3 285.4,380.3 285.5,380.3 285.6,380.3 285.7,380.3 285.8,380.3 285.9,380.3 288.0,380.3 290.0,380.3 292.0,380.3 294.0,380.3 296.1,380.3 298.1,380.3 300.1,380.3 300.2,380.3 300.3,380.3 300.4,380.3 300.5,380.3 300.6,380.3 300.7,380.3 300.8,380.3 300.9,380.3 301.0,380.3 301.1,380.3 301.2,380.3 301.3,380.3 301.4,380.3 301.5,380.3 301.6,380.3 301.7,380.3 301.8,380.3 301.9,380.3 302.0,380.3 302.1,380.3 302.2,380.3 302.3,380.3 302.4,380.3 302.5,383.2 302.6,386.2 302.7,389.0 302.8,391.8 303.0,394.4 303.1,397.0 303.2,399.3 303.3,401.5 303.4,403.5 303.5,405.2 303.6,406.7 303.7,408.0 303.8,409.0 303.9,409.7 304.0,410.1 304.1,410.3 304.2,410.2 304.3,410.0 304.4,409.7 304.5,409.2 304.6,408.7 304.7,407.9 304.8,407.1 304.9,406.2 305.0,405.1 305.1,404.0 305.2,402.7 305.3,401.3 305.4,399.9 305.5,398.4 305.6,396.8 305.7,395.1 305.8,393.4 305.9,391.7 306.0,389.9 306.1,388.1 306.2,386.2 306.3,384.4 306.4,382.5 306.5,380.7 306.6,378.9 306.7,377.1 306.8,375.3 306.9,373.6 307.0,372.0 307.1,370.4 307.2,368.9 307.3,367.4 307.4,366.1 307.5,364.8 307.6,363.6 307.7,362.6 307.8,361.6 307.9,360.8 308.0,360.1 308.1,359.5 308.2,359.1 308.3,358.7 308.4,358.5 308.5,358.5 308.6,358.5 308.7,358.7 308.8,359.0 308.9,359.3 309.0,359.8 309.1,360.4 309.2,361.1 309.3,361.8 309.4,362.7 309.5,363.6 309.6,364.7 309.7,365.7 309.8,366.9 309.9,368.1 310.0,369.3 310.1,370.6 310.2,371.9 310.3,373.3 310.5,374.6 310.6,376.0 310.7,377.3 310.8,378.7 310.9,380.0 311.0,381.3 311.1,382.5 311.2,383.7 311.3,384.9 311.4,385.9 311.5,387.0 311.6,387.9 311.7,388.8 311.8,389.5 311.9,390.2 312.0,390.8 312.1,391.3 312.2,391.6 312.3,391.9 312.4,392.1 312.5,392.1 312.6,392.1 312.7,392.0 312.8,391.9 312.9,391.7 313.0,391.4 313.1,391.1 313.2,390.8 313.3,390.4 313.4,389.9 313.5,389.4 313.6,388.9 313.7,388.3 313.8,387.7 313.9,387.0 314.0,386.3 314.1,385.6 314.2,384.9 314.3,384.2 314.4,383.4 314.5,382.7 314.6,381.9 314.7,381.1 314.8,380.3 314.9,379.6 315.0,378.8 315.1,378.1 315.2,377.4 315.3,376.7 315.4,376.0 315.5,375.4 315.6,374.8 315.7,374.3 315.8,373.7 315.9,373.3 316.0,372.8 316.1,372.5 316.2,372.1 316.3,371.9 316.4,371.7 316.5,371.5 316.6,371.4 316.7,371.3 316.8,371.3 316.9,371.4 317.0,371.4 317.1,371.6 317.2,371.7 317.3,371.9 317.4,372.1 317.5,372.4 317.6,372.7 317.7,373.0 317.8,373.3 318.0,373.7 318.1,374.1 318.2,374.5 318.3,374.9 318.4,375.4 318.5,375.8 318.6,376.3 318.7,376.8 318.8,377.3 318.9,377.8 319.0,378.3 319.1,378.8 319.2,379.3 319.3,379.8 319.4,380.3 319.5,380.8 319.6,381.2 319.7,381.7 319.8,382.1 319.9,382.5 320.0,382.9 320.1,383.2 320.2,383.5 320.3,383.8 320.4,384.1 320.5,384.3 320.6,384.5 320.7,384.7 320.8,384.8 320.9,384.9 321.0,385.0 321.1,385.0 321.2,385.0 321.3,384.9 321.4,384.9 321.5,384.8 321.6,384.7 321.7,384.6 321.8,384.4 321.9,384.3 322.0,384.1 322.1,383.9 322.2,383.7 322.3,383.4 322.4,383.2 322.5,382.9 322.6,382.6 322.7,382.3 322.8,382.0 322.9,381.7 323.0,381.4 323.1,381.1 323.2,380.8 323.3,380.5 323.4,380.2 323.5,379.9 323.6,379.6 323.7,379.3 323.8,379.0 323.9,378.7 324.0,378.5 324.1,378.2 324.2,378.0 324.3,377.7 324.4,377.5 324.5,377.4 324.6,377.2 324.7,377.0 324.8,376.9 324.9,376.8 325.0,376.7 325.1,376.7 325.2,376.6 325.3,376.6 325.5,376.6 325.6,376.7 325.7,376.7 325.8,376.8 325.9,376.8 326.0,376.9 326.1,377.0 326.2,377.1 326.3,377.2 326.4,377.4 326.5,377.5 326.6,377.7 326.7,377.8 326.8,378.0 326.9,378.2 327.0,378.4 327.1,378.6 327.2,378.8 327.3,379.0 327.4,379.2 327.5,379.4 327.6,379.6 327.7,379.8 327.8,380.0 327.9,380.2 328.0,380.4 328.1,380.6 328.2,380.8 328.3,380.9 328.4,381.1 328.5,381.3 328.6,381.4 328.7,381.5 328.8,381.7 328.9,381.8 329.0,381.9 329.1,381.9 329.2,382.0 329.3,382.1 329.4,382.1 329.5,382.1 329.6,382.1 329.7,382.1 329.8,382.1 329.9,382.1 330.0,382.1 330.1,382.0 330.2,382.0 330.3,381.9 330.4,381.8 330.5,381.8 330.6,381.7 330.7,381.6 330.8,381.5 330.9,381.4 331.0,381.3 331.1,381.2 331.2,381.1 331.3,381.0 331.4,380.9 331.5,380.7 331.6,380.6 331.7,380.5 331.8,380.4 331.9,380.3 332.0,380.1 332.1,380.0 332.2,379.9 332.3,379.8 332.4,379.7 332.5,379.6 332.6,379.5 332.7,379.4 332.8,379.3 333.0,379.3 333.1,379.2 333.2,379.1 333.3,379.1 333.4,379.0 333.5,379.0 333.6,379.0 333.7,379.0 333.8,379.0 333.9,379.0 334.0,379.0 334.1,379.0 334.2,379.0 334.3,379.0 334.4,379.1 334.5,379.1 334.6,379.2 334.7,379.2 334.8,379.3 334.9,379.3 335.0,379.4 335.1,379.4 335.2,379.5 335.3,379.6 335.4,379.6 335.5,379.7 335.6,379.8 335.7,379.8 335.8,379.9 335.9,380.0 336.0,380.1 336.1,380.2 336.2,380.2 336.3,380.3 336.4,380.4 336.5,380.4 336.6,380.5 336.7,380.6 336.8,380.6 336.9,380.7 337.0,380.7 337.1,380.8 337.2,380.8 337.3,380.9 337.4,380.9 337.5,380.9 337.6,380.9 337.7,380.9 337.8,380.9 337.9,381.0 338.0,381.0 338.1,380.9 338.2,380.9 338.3,380.9 338.4,380.9 338.5,380.9 338.6,380.9 338.7,380.9 338.8,380.8 338.9,380.8 339.0,380.8 339.1,380.7 339.2,380.7 339.3,380.7 339.4,380.6 339.5,380.6 339.6,380.6 339.7,380.5 339.8,380.5 339.9,380.4 340.0,380.4 340.1,380.4 340.2,380.3 340.3,380.3 340.5,380.2 340.6,380.2 340.7,380.2 340.8,380.1 340.9,380.1 341.0,380.1 341.1,380.0 341.2,380.0 341.3,380.0 341.4,379.9 341.5,379.9 341.6,379.9 341.7,379.9 341.8,379.9 341.9,379.9 342.0,379.9 342.1,379.9 342.2,379.9 342.3,379.9 342.4,379.9 342.5,379.9 342.6,379.9 342.7,379.9 342.8,379.9 342.9,379.9 343.0,379.9 343.1,379.9 343.2,379.9 343.3,380.0 343.4,380.0 343.5,380.0 343.6,380.0 343.7,380.0 343.8,380.1 343.9,380.1 344.0,380.1 344.1,380.1 344.2,380.2 344.3,380.2 344.4,380.2 344.5,380.2 344.6,380.3 344.7,380.3 344.8,380.3 344.9,380.3 345.0,380.4 345.1,380.4 345.2,380.4 345.3,380.4 345.4,380.4 345.5,380.5 345.6,380.5 345.7,380.5 345.8,380.5 345.9,380.5 346.0,380.5 346.1,380.5 346.2,380.5 346.3,380.5 346.4,380.5 346.5,380.5 346.6,380.5 346.7,380.5 346.8,380.5 346.9,380.5 347.0,380.5 347.1,380.5 347.2,380.5 347.3,380.5 347.4,380.5 347.5,380.5 347.6,380.5 347.7,380.4 347.8,380.4 348.0,380.4 348.1,380.4 348.2,380.4 348.3,380.4 348.4,380.4 348.5,380.4 348.6,380.3 348.7,380.3 348.8,380.3 348.9,380.3 349.0,380.3 349.1,380.3 349.2,380.3 349.3,380.2 349.4,380.2 349.5,380.2 349.6,380.2 349.7,380.2 349.8,380.2 349.9,380.2 350.0,380.2 350.1,380.2 350.2,380.2 350.3,380.2 350.4,380.2 350.5,380.2 350.6,380.2 350.7,380.2 350.8,380.2 350.9,380.2 351.0,380.2 351.1,380.2 351.2,380.2 351.3,380.2 351.4,380.2 351.5,380.2 351.6,380.2 351.7,380.2 351.8,380.2 351.9,380.2 352.0,380.2 352.1,380.2 352.2,380.2 352.3,380.2 352.4,380.2 352.5,380.2 352.6,380.2 352.7,380.3 352.8,380.3 352.9,380.3 353.0,380.3 353.1,380.3 353.2,380.3 353.3,380.3 353.4,380.3 353.5,380.3 353.6,380.3 353.7,380.3 353.8,380.3 353.9,380.3 354.0,380.3 354.1,380.3 354.2,380.3 354.3,380.4 354.4,380.4 354.5,380.4 354.6,380.4 354.7,380.4 354.8,380.4 354.9,380.4 355.0,380.4 355.1,380.4 355.2,380.4 355.3,380.4 355.5,380.4 355.6,380.4 355.7,380.4 355.8,380.4 355.9,380.4 356.0,380.4 356.1,380.4 356.2,380.3 356.3,380.3 356.4,380.3 356.5,380.3 356.6,380.3 356.7,380.3 356.8,380.3 356.9,380.3 357.0,380.3 357.1,380.3 357.2,380.3 357.3,380.3 357.4,380.3 357.5,380.3 357.6,380.3 357.7,380.3 357.8,380.3 357.9,380.3 358.0,380.3 358.1,380.3 358.2,380.3 358.3,380.3 358.4,380.3 358.5,380.3 358.6,380.3 358.7,380.3 358.8,380.3 358.9,380.3 359.0,380.3 359.1,380.3 359.2,380.3 359.3,380.3 359.4,380.3 359.5,380.3 359.6,380.3 359.7,380.3 359.8,380.3 359.9,380.3 360.0,380.3 360.1,380.3 360.2,380.3 360.3,380.3 360.4,380.3 360.5,380.3 360.6,380.3 360.7,380.3 360.8,380.3 360.9,380.3 361.0,380.3 361.1,380.3 361.2,380.3 361.3,380.3 361.4,380.3 361.5,380.3 361.6,380.3 361.7,380.3 361.8,380.3 361.9,380.3 362.0,380.3 362.1,380.3 362.2,380.3 362.3,380.3 362.4,380.3 362.5,380.3 362.6,380.3 362.7,380.3 362.8,380.3 362.9,380.3 363.1,380.3 363.2,380.3 363.3,380.3 363.4,380.3 363.5,380.3 363.6,380.3 363.7,380.3 363.8,380.3 363.9,380.3 364.0,380.3 364.1,380.3 364.2,380.3 364.3,380.3 364.4,380.3 364.5,380.3 364.6,380.3 364.7,380.3 364.8,380.3 364.9,380.3 365.0,380.3 365.1,380.3 365.2,380.3 365.3,380.3 365.4,380.3 365.5,380.3 365.6,380.3 365.7,380.3 365.8,380.3 365.9,380.3 366.0,380.3 366.1,380.3 366.2,380.3 366.3,380.3 366.4,380.3 366.5,380.3 366.6,380.3 366.7,380.3 366.8,380.3 366.9,380.3 367.0,380.3 369.0,380.3 371.1,380.3 373.1,380.3 375.1,380.3 377.1,380.3 379.2,380.3 381.2,380.3 381.3,380.3 381.4,380.3 381.5,380.3 381.6,380.3 381.7,380.3 381.8,380.3 381.9,380.3 382.0,380.3 382.1,380.3 382.2,380.3 382.3,380.3 382.4,380.3 382.5,380.3 382.6,380.3 382.7,380.3 382.8,380.3 382.9,380.3 383.0,380.3 383.1,380.3 383.2,380.3 383.3,380.3 383.4,380.3 383.5,380.3 383.6,380.3 383.7,378.8 383.8,377.4 383.9,375.9 384.0,374.6 384.1,373.2 384.2,372.0 384.3,370.8 384.4,369.7 384.5,368.7 384.6,367.8 384.7,367.1 384.8,366.4 384.9,366.0 385.0,365.6 385.1,365.4 385.2,365.3 385.3,365.3 385.4,365.4 385.6,365.6 385.7,365.8 385.8,366.1 385.9,366.5 386.0,366.9 386.1,367.4 386.2,367.9 386.3,368.5 386.4,369.1 386.5,369.8 386.6,370.5 386.7,371.3 386.8,372.1 386.9,372.9 387.0,373.7 387.1,374.6 387.2,375.5 387.3,376.4 387.4,377.3 387.5,378.3 387.6,379.2 387.7,380.1 387.8,381.0 387.9,381.9 388.0,382.8 388.1,383.6 388.2,384.5 388.3,385.3 388.4,386.0 388.5,386.7 388.6,387.4 388.7,388.0 388.8,388.6 388.9,389.2 389.0,389.6 389.1,390.0 389.2,390.4 389.3,390.7 389.4,390.9 389.5,391.1 389.6,391.2 389.7,391.2 389.8,391.2 389.9,391.1 390.0,391.0 390.1,390.8 390.2,390.5 390.3,390.3 390.4,389.9 390.5,389.5 390.6,389.1 390.7,388.6 390.8,388.1 390.9,387.6 391.0,387.0 391.1,386.4 391.2,385.8 391.3,385.1 391.4,384.5 391.5,383.8 391.6,383.1 391.7,382.5 391.8,381.8 391.9,381.1 392.0,380.5 392.1,379.8 392.2,379.2 392.3,378.6 392.4,378.0 392.5,377.5 392.6,377.0 392.7,376.5 392.8,376.1 392.9,375.7 393.1,375.3 393.2,375.1 393.3,374.8 393.4,374.6 393.5,374.5 393.6,374.4 393.7,374.4 393.8,374.4 393.9,374.4 394.0,374.5 394.1,374.6 394.2,374.7 394.3,374.9 394.4,375.1 394.5,375.3 394.6,375.5 394.7,375.7 394.8,376.0 394.9,376.3 395.0,376.6 395.1,376.9 395.2,377.3 395.3,377.6 395.4,378.0 395.5,378.4 395.6,378.7 395.7,379.1 395.8,379.5 395.9,379.9 396.0,380.3 396.1,380.7 396.2,381.0 396.3,381.4 396.4,381.8 396.5,382.1 396.6,382.4 396.7,382.7 396.8,383.0 396.9,383.3 397.0,383.6 397.1,383.8 397.2,384.0 397.3,384.2 397.4,384.4 397.5,384.5 397.6,384.6 397.7,384.7 397.8,384.8 397.9,384.8 398.0,384.8 398.1,384.8 398.2,384.7 398.3,384.7 398.4,384.6 398.5,384.5 398.6,384.4 398.7,384.3 398.8,384.1 398.9,384.0 399.0,383.8 399.1,383.6 399.2,383.4 399.3,383.2 399.4,383.0 399.5,382.8 399.6,382.5 399.7,382.3 399.8,382.0 399.9,381.8 400.0,381.5 400.1,381.3 400.2,381.0 400.3,380.8 400.4,380.5 400.6,380.3 400.7,380.1 400.8,379.8 400.9,379.6 401.0,379.4 401.1,379.2 401.2,379.0 401.3,378.8 401.4,378.7 401.5,378.5 401.6,378.4 401.7,378.3 401.8,378.2 401.9,378.1 402.0,378.0 402.1,378.0 402.2,378.0 402.3,378.0 402.4,378.0 402.5,378.0 402.6,378.0 402.7,378.0 402.8,378.1 402.9,378.2 403.0,378.2 403.1,378.3 403.2,378.4 403.3,378.5 403.4,378.6 403.5,378.7 403.6,378.9 403.7,379.0 403.8,379.1 403.9,379.3 404.0,379.4 404.1,379.6 404.2,379.7 404.3,379.9 404.4,380.0 404.5,380.2 404.6,380.4 404.7,380.5 404.8,380.7 404.9,380.8 405.0,381.0 405.1,381.1 405.2,381.2 405.3,381.3 405.4,381.5 405.5,381.6 405.6,381.7 405.7,381.8 405.8,381.9 405.9,381.9 406.0,382.0 406.1,382.0 406.2,382.1 406.3,382.1 406.4,382.1 406.5,382.1 406.6,382.1 406.7,382.1 406.8,382.1 406.9,382.1 407.0,382.0 407.1,382.0 407.2,382.0 407.3,381.9 407.4,381.8 407.5,381.8 407.6,381.7 407.7,381.6 407.8,381.5 407.9,381.4 408.1,381.4 408.2,381.3 408.3,381.2 408.4,381.1 408.5,381.0 408.6,380.9 408.7,380.8 408.8,380.7 408.9,380.6 409.0,380.5 409.1,380.4 409.2,380.3 409.3,380.2 409.4,380.1 409.5,380.0 409.6,379.9 409.7,379.8 409.8,379.7 409.9,379.7 410.0,379.6 410.1,379.6 410.2,379.5 410.3,379.5 410.4,379.4 410.5,379.4 410.6,379.4 410.7,379.4 410.8,379.4 410.9,379.4 411.0,379.4 411.1,379.4 411.2,379.4 411.3,379.4 411.4,379.5 411.5,379.5 411.6,379.5 411.7,379.6 411.8,379.6 411.9,379.6 412.0,379.7 412.1,379.7 412.2,379.8 412.3,379.8 412.4,379.9 412.5,380.0 412.6,380.0 412.7,380.1 412.8,380.1 412.9,380.2 413.0,380.3 413.1,380.3 413.2,380.4 413.3,380.4 413.4,380.5 413.5,380.6 413.6,380.6 413.7,380.7 413.8,380.7 413.9,380.7 414.0,380.8 414.1,380.8 414.2,380.9 414.3,380.9 414.4,380.9 414.5,380.9 414.6,380.9 414.7,381.0 414.8,381.0 414.9,381.0 415.0,381.0 415.1,381.0 415.2,380.9 415.3,380.9 415.4,380.9 415.6,380.9 415.7,380.9 415.8,380.9 415.9,380.8 416.0,380.8 416.1,380.8 416.2,380.8 416.3,380.7 416.4,380.7 416.5,380.7 416.6,380.6 416.7,380.6 416.8,380.6 416.9,380.5 417.0,380.5 417.1,380.4 417.2,380.4 417.3,380.4 417.4,380.3 417.5,380.3 417.6,380.3 417.7,380.2 417.8,380.2 417.9,380.2 418.0,380.1 418.1,380.1 418.2,380.1 418.3,380.1 418.4,380.0 418.5,380.0 418.6,380.0 418.7,380.0 418.8,380.0 418.9,380.0 419.0,380.0 419.1,380.0 419.2,380.0 419.3,380.0 419.4,380.0 419.5,380.0 419.6,380.0 419.7,380.0 419.8,380.0 419.9,380.0 420.0,380.0 420.1,380.0 420.2,380.1 420.3,380.1 420.4,380.1 420.5,380.1 420.6,380.1 420.7,380.1 420.8,380.2 420.9,380.2 421.0,380.2 421.1,380.2 421.2,380.2 421.3,380.3 421.4,380.3 421.5,380.3 421.6,380.3 421.7,380.3 421.8,380.4 421.9,380.4 422.0,380.4 422.1,380.4 422.2,380.4 422.3,380.5 422.4,380.5 422.5,380.5 422.6,380.5 422.7,380.5 422.8,380.5 422.9,380.5 423.1,380.5 423.2,380.5 423.3,380.5 423.4,380.5 423.5,380.5 423.6,380.5 423.7,380.5 423.8,380.5 423.9,380.5 424.0,380.5 424.1,380.5 424.2,380.5 424.3,380.5 424.4,380.5 424.5,380.5 424.6,380.5 424.7,380.5 424.8,380.4 424.9,380.4 425.0,380.4 425.1,380.4 425.2,380.4 425.3,380.4 425.4,380.4 425.5,380.4 425.6,380.3 425.7,380.3 425.8,380.3 425.9,380.3 426.0,380.3 426.1,380.3 426.2,380.3 426.3,380.3 426.4,380.3 426.5,380.2 426.6,380.2 426.7,380.2 426.8,380.2 426.9,380.2 427.0,380.2 427.1,380.2 427.2,380.2 427.3,380.2 427.4,380.2 427.5,380.2 427.6,380.2 427.7,380.2 427.8,380.2 427.9,380.2 428.0,380.2 428.1,380.2 428.2,380.2 428.3,380.2 428.4,380.2 428.5,380.2 428.6,380.2 428.7,380.2 428.8,380.2 428.9,380.2 429.0,380.2 429.1,380.2 429.2,380.2 429.3,380.3 429.4,380.3 429.5,380.3 429.6,380.3 429.7,380.3 429.8,380.3 429.9,380.3 430.0,380.3 430.1,380.3 430.2,380.3 430.3,380.3 430.4,380.3 430.6,380.3 430.7,380.3 430.8,380.3 430.9,380.3 431.0,380.4 431.1,380.4 431.2,380.4 431.3,380.4 431.4,380.4 431.5,380.4 431.6,380.4 431.7,380.4 431.8,380.4 431.9,380.4 432.0,380.4 432.1,380.4 432.2,380.4 432.3,380.4 432.4,380.4 432.5,380.4 432.6,380.4 432.7,380.4 432.8,380.4 432.9,380.4 433.0,380.4 433.1,380.4 433.2,380.3 433.3,380.3 433.4,380.3 433.5,380.3 433.6,380.3 433.7,380.3 433.8,380.3 433.9,380.3 434.0,380.3 434.1,380.3 434.2,380.3 434.3,380.3 434.4,380.3 434.5,380.3 434.6,380.3 434.7,380.3 434.8,380.3 434.9,380.3 435.0,380.3 435.1,380.3 435.2,380.3 435.3,380.3 435.4,380.3 435.5,380.3 435.6,380.3 435.7,380.3 435.8,380.3 435.9,380.3 436.0,380.3 436.1,380.3 436.2,380.3 436.3,380.3 436.4,380.3 436.5,380.3 436.6,380.3 436.7,380.3 436.8,380.3 436.9,380.3 437.0,380.3 437.1,380.3 437.2,380.3 437.3,380.3 437.4,380.3 437.5,380.3 437.6,380.3 437.7,380.3 437.8,380.3 437.9,380.3 438.1,380.3 438.2,380.3 438.3,380.3 438.4,380.3 438.5,380.3 438.6,380.3 438.7,380.3 438.8,380.3 438.9,380.3 439.0,380.3 439.1,380.3 439.2,380.3 439.3,380.3 439.4,380.3 439.5,380.3 439.6,380.3 439.7,380.3 439.8,380.3 439.9,380.3 440.0,380.3 440.1,380.3 440.2,380.3 440.3,380.3 440.4,380.3 440.5,380.3 440.6,380.3 440.7,380.3 440.8,380.3 440.9,380.3 441.0,380.3 441.1,380.3 441.2,380.3 441.3,380.3 441.4,380.3 441.5,380.3 441.6,380.3 441.7,380.3 441.8,380.3 441.9,380.3 442.0,380.3 442.1,380.3 442.2,380.3 442.3,380.3 442.4,380.3 442.5,380.3 442.6,380.3 442.7,380.3 442.8,380.3 442.9,380.3 443.0,380.3 443.1,380.3 443.2,380.3 443.3,380.3 443.4,380.3 443.5,380.3 443.6,380.3 443.7,380.3 443.8,380.3 443.9,380.3 444.0,380.3 444.1,380.3 444.2,380.3 444.3,380.3 444.4,380.3 444.5,380.3 444.6,380.3 444.7,380.3 444.8,380.3 444.9,380.3 445.0,380.3 445.1,380.3 445.2,380.3 445.3,380.3 445.4,380.3 445.6,380.3 445.7,380.3 445.8,380.3 445.9,380.3 446.0,380.3 446.1,380.3 446.2,380.3 446.3,380.3 446.4,380.3 446.5,380.3 446.6,380.3 446.7,380.3 446.8,380.3 446.9,380.3 447.0,380.3 447.1,380.3 447.2,380.3 447.3,380.3 447.4,380.3 447.5,380.3 447.6,380.3 447.7,380.3 447.8,380.3 447.9,380.3 448.0,380.3 448.1,380.3 450.1,380.3 452.1,380.3 454.2,380.3 456.2,380.3 458.2,380.3 460.2,380.3 462.3,380.3 464.3,380.3" stroke="#8a2f9e" stroke-width="1.1"/>
<polyline points="58.9,385.1 59.0,386.2 59.1,387.3 59.2,388.4 59.3,389.5 59.4,390.5 59.5,391.5 59.6,392.4 59.7,393.3 59.8,394.1 59.9,394.9 60.0,395.6 60.1,396.2 60.2,396.8 60.3,397.3 60.4,397.7 60.5,398.0 60.6,398.3 60.7,398.5 60.8,398.6 60.9,398.7 61.0,398.6 61.1,398.3 61.2,397.8 61.3,397.2 61.4,396.4 61.5,395.5 61.6,394.5 61.7,393.4 61.8,392.2 61.9,391.0 62.0,389.8 62.1,388.6 62.2,387.5 62.3,386.5 62.4,385.6 62.5,384.8 62.6,384.2 62.8,383.7 62.9,383.5 63.0,383.4 63.1,383.4 63.2,383.3 63.3,383.3 63.4,383.3 63.5,383.2 63.6,383.2 63.7,383.1 63.8,383.0 63.9,382.9 64.0,382.8 64.1,382.7 64.2,382.6 64.3,382.5 64.4,382.4 64.5,382.2 64.6,382.1 64.7,382.0 64.8,381.8 64.9,381.7 65.0,381.6 65.1,381.4 65.2,381.3 65.3,381.2 65.4,381.1 65.5,381.0 65.6,380.8 65.7,380.7 65.8,380.7 65.9,380.6 66.0,380.5 66.1,380.4 66.2,380.4 66.3,380.4 66.4,380.3 66.5,380.3 66.6,380.3 66.7,380.3 66.8,380.3 66.9,380.2 67.0,380.2 67.1,380.2 67.2,380.2 67.3,380.1 67.4,380.1 67.5,380.1 67.6,380.1 67.7,380.1 67.8,380.1 67.9,380.0 68.0,380.0 68.1,380.0 68.2,380.0 68.3,380.0 68.4,380.0 68.5,380.0 68.6,379.9 68.7,379.9 68.8,379.9 68.9,379.9 69.0,379.9 69.1,379.9 69.2,379.9 69.3,379.9 69.4,379.9 69.5,379.8 69.6,379.8 69.7,379.8 69.8,379.8 69.9,379.8 70.0,379.8 70.1,379.8 70.3,379.8 70.4,379.8 70.5,379.8 70.6,379.8 70.7,379.8 70.8,379.8 70.9,379.8 71.0,379.7 71.1,379.7 71.2,379.7 71.3,379.7 71.4,379.7 71.5,379.7 71.6,379.7 71.7,379.7 71.8,379.7 71.9,379.7 72.0,379.7 72.1,379.7 72.2,379.7 72.3,379.7 72.4,379.7 72.5,379.7 72.6,379.7 72.7,379.7 72.8,379.7 72.9,379.7 73.0,379.7 73.1,379.7 73.2,379.7 73.3,379.7 73.4,379.7 73.5,379.7 73.6,379.7 73.7,379.7 73.8,379.7 73.9,379.7 74.0,379.7 74.1,379.7 74.2,379.7 74.3,379.7 74.4,379.7 74.5,379.7 74.6,379.7 74.7,379.7 74.8,379.7 74.9,379.7 75.0,379.7 75.1,379.7 75.2,379.7 75.3,379.7 75.4,379.7 75.5,379.7 75.6,379.7 75.7,379.7 75.8,379.7 75.9,379.7 76.0,379.7 76.1,379.7 76.2,379.7 76.3,379.7 76.4,379.7 76.5,379.7 76.6,379.7 76.7,379.7 76.8,379.7 76.9,379.7 77.0,379.7 77.1,379.7 77.2,379.7 77.3,379.7 77.4,379.7 77.5,379.8 77.6,379.8 77.8,379.8 77.9,379.8 78.0,379.8 78.1,379.8 78.2,379.8 78.3,379.8 78.4,379.8 78.5,379.8 78.6,379.8 78.7,379.8 78.8,379.8 78.9,379.8 79.0,379.8 79.1,379.8 79.2,379.8 79.3,379.8 79.4,379.8 79.5,379.8 79.6,379.8 79.7,379.8 79.8,379.8 79.9,379.8 80.0,379.8 80.1,379.8 80.2,379.8 80.3,379.8 80.4,379.8 80.5,379.8 80.6,379.8 80.7,379.8 80.8,379.8 80.9,379.9 81.0,379.9 81.1,379.9 81.2,379.9 81.3,379.9 81.4,379.9 81.5,379.9 81.6,379.9 81.7,379.9 81.8,379.9 81.9,379.9 82.0,379.9 82.1,379.9 82.2,379.9 82.3,379.9 82.4,379.9 82.5,379.9 82.6,379.9 82.7,379.9 82.8,379.9 82.9,379.9 83.0,379.9 83.1,379.9 83.2,379.9 83.3,379.9 83.4,379.9 83.5,379.9 83.6,379.9 83.7,379.9 83.8,379.9 83.9,379.9 84.0,379.9 84.1,380.0 84.2,380.0 84.3,380.0 84.4,380.0 84.5,380.0 84.6,380.0 84.7,380.0 84.8,380.0 84.9,380.0 85.0,380.0 85.1,380.0 85.3,380.0 85.4,380.0 85.5,380.0 85.6,380.0 85.7,380.0 85.8,380.0 85.9,380.0 86.0,380.0 86.1,380.0 86.2,380.0 86.3,380.0 86.4,380.0 86.5,380.0 86.6,380.0 86.7,380.0 86.8,380.0 86.9,380.0 87.0,380.0 87.1,380.0 87.2,380.0 87.3,380.0 87.4,380.0 87.5,380.0 87.6,380.0 87.7,380.0 87.8,380.0 87.9,380.1 88.0,380.1 88.1,380.1 88.2,380.1 88.3,380.1 88.4,380.1 88.5,380.1 88.6,380.1 88.7,380.1 88.8,380.1 88.9,380.1 89.0,380.1 89.1,380.1 89.2,380.1 89.3,380.1 89.4,380.1 89.5,380.1 89.6,380.1 89.7,380.1 89.8,380.1 89.9,380.1 90.0,380.1 90.1,380.1 90.2,380.1 90.3,380.1 90.4,380.1 90.5,380.1 90.6,380.1 90.7,380.1 90.8,380.1 90.9,380.1 91.0,380.1 91.1,380.1 91.2,380.1 91.3,380.1 91.4,380.1 91.5,380.1 91.6,380.1 91.7,380.1 91.8,380.1 91.9,380.1 92.0,380.1 92.1,380.1 92.2,380.1 92.3,380.1 92.4,380.1 92.5,380.1 92.6,380.1 92.8,380.1 92.9,380.1 93.0,380.1 93.1,380.2 93.2,380.2 93.3,380.2 93.4,380.2 93.5,380.2 93.6,380.2 93.7,380.2 93.8,380.2 93.9,380.2 94.0,380.2 94.1,380.2 94.2,380.2 94.3,380.2 94.4,380.2 94.5,380.2 94.6,380.2 94.7,380.2 94.8,380.2 94.9,380.2 95.0,380.2 95.1,380.2 95.2,380.2 95.3,380.2 95.4,380.2 95.5,380.2 95.6,380.2 95.7,380.2 95.8,380.2 95.9,380.2 96.0,380.2 96.1,380.2 96.2,380.2 96.3,380.2 96.4,380.2 96.5,380.2 96.6,380.2 96.7,380.2 96.8,380.2 96.9,380.2 97.0,380.2 97.1,380.2 97.2,380.2 97.3,380.2 97.4,380.2 97.5,380.2 97.6,380.2 97.7,380.2 97.8,380.2 97.9,380.2 98.0,380.2 98.1,380.2 98.2,380.2 98.3,380.2 98.4,380.2 98.5,380.2 98.6,380.2 98.7,380.2 98.8,380.2 98.9,380.2 99.0,380.2 99.1,380.2 99.2,380.2 99.3,380.2 99.4,380.2 99.5,380.2 99.6,380.2 99.7,380.2 99.8,380.2 99.9,380.2 100.0,380.2 100.1,380.2 100.3,380.2 100.4,380.2 100.5,380.2 100.6,380.2 100.7,380.2 100.8,380.2 100.9,380.2 101.0,380.2 101.1,380.2 101.2,380.2 101.3,380.2 101.4,380.2 101.5,380.2 101.6,380.2 101.7,380.2 101.8,380.2 101.9,380.2 102.0,380.2 102.1,380.2 102.2,380.2 102.3,380.2 102.4,380.2 102.5,380.2 102.6,380.2 102.7,380.2 102.8,380.2 102.9,380.2 103.0,380.2 103.1,380.3 103.2,380.3 103.3,380.3 103.4,380.3 103.5,380.3 103.6,380.3 103.7,380.3 103.8,380.3 103.9,380.3 104.0,380.3 104.1,380.3 104.2,380.3 104.3,380.3 104.4,380.3 104.5,380.3 104.6,380.3 104.7,380.3 104.8,380.3 104.9,380.3 105.0,380.3 105.1,380.3 105.2,380.3 105.3,380.3 105.4,380.3 105.5,380.3 105.6,380.3 105.7,380.3 105.8,380.3 105.9,380.3 106.0,380.3 106.1,380.3 106.2,380.3 106.3,380.3 106.4,380.3 106.5,380.3 106.6,380.3 106.7,380.3 106.8,380.3 106.9,380.3 107.0,380.3 107.1,380.3 107.2,380.3 107.3,380.3 107.4,380.3 107.5,380.3 107.6,380.3 107.8,380.3 107.9,380.3 108.0,380.3 108.1,380.3 108.2,380.3 108.3,380.3 108.4,380.3 108.5,380.3 108.6,380.3 108.7,380.3 108.8,380.3 108.9,380.3 109.0,380.3 109.1,380.3 109.2,380.3 109.3,380.3 109.4,380.3 109.5,380.3 109.6,380.3 109.7,380.3 109.8,380.3 109.9,380.3 110.0,380.3 110.1,380.3 110.2,380.3 110.3,380.3 110.4,380.3 110.5,380.3 110.6,380.3 110.7,380.3 110.8,380.3 110.9,380.3 111.0,380.3 111.1,380.3 111.2,380.3 111.3,380.3 111.4,380.3 111.5,380.3 111.6,380.3 111.7,380.3 111.8,380.3 111.9,380.3 112.0,380.3 112.1,380.3 112.2,380.3 112.3,380.3 112.4,380.3 112.5,380.3 112.6,380.3 112.7,380.3 112.8,380.3 112.9,380.3 113.0,380.3 113.1,380.3 113.2,380.3 113.3,380.3 113.4,380.3 113.5,380.3 113.6,380.3 113.7,380.3 113.8,380.3 113.9,380.3 114.0,380.3 114.1,380.3 114.2,380.3 114.3,380.3 114.4,380.3 114.5,380.3 114.6,380.3 114.7,380.3 114.8,380.3 114.9,380.3 115.0,380.3 115.1,380.3 115.3,380.3 115.4,380.3 115.5,380.3 115.6,380.3 115.7,380.3 115.8,380.3 115.9,380.3 116.0,380.3 116.1,380.3 116.2,380.3 116.3,380.3 116.4,380.3 116.5,380.3 116.6,380.3 116.7,380.3 116.8,380.3 116.9,380.3 117.0,380.3 117.1,380.3 117.2,380.3 117.3,380.3 117.4,380.3 117.5,380.3 117.6,380.3 117.7,380.3 117.8,380.3 117.9,380.3 118.0,380.3 118.1,380.3 118.2,380.3 118.3,380.3 118.4,380.3 118.5,380.3 118.6,380.3 118.7,380.3 118.8,380.3 118.9,380.3 119.0,380.3 119.1,380.3 119.2,380.3 119.3,380.3 119.4,380.3 119.5,380.3 119.6,380.3 119.7,380.3 119.8,380.3 119.9,380.3 120.0,380.3 120.1,380.3 120.2,380.3 120.3,380.3 120.4,380.3 120.5,380.3 120.6,380.3 120.7,380.3 120.8,380.3 120.9,380.3 121.0,380.3 121.1,380.3 121.2,380.3 121.3,380.3 121.4,380.3 121.5,380.3 121.6,380.3 121.7,380.3 121.8,380.3 121.9,380.3 122.0,380.3 122.1,380.3 122.2,380.3 122.3,380.3 122.4,380.3 122.5,380.3 122.6,380.3 122.8,380.3 122.9,380.3 123.0,380.3 123.1,380.3 123.2,380.3 123.3,380.3 123.4,380.3 123.5,380.3 123.6,380.3 123.7,380.3 123.8,380.3 125.8,380.3 127.8,380.3 129.8,380.3 131.9,380.3 133.9,380.3 135.9,380.3 138.0,380.3 138.1,380.3 138.2,380.3 138.3,380.3 138.4,380.3 138.5,380.3 138.6,380.3 138.7,380.3 138.8,380.3 138.9,380.3 139.0,380.3 139.1,380.3 139.2,380.3 139.3,380.3 139.4,380.3 139.5,380.3 139.6,380.3 139.7,380.3 139.8,380.3 139.9,380.3 140.0,385.0 140.0,385.1 140.1,389.9 140.2,394.6 140.3,399.3 140.4,403.9 140.5,408.4 140.6,412.8 140.7,417.0 140.8,421.1 140.9,425.0 141.0,428.7 141.1,432.2 141.2,435.5 141.3,438.6 141.4,441.4 141.5,443.9 141.6,446.2 141.7,448.1 141.8,449.8 141.9,451.2 142.0,452.3 142.1,453.1 142.2,453.6 142.3,453.7 142.4,453.4 142.5,452.2 142.6,450.4 142.7,447.9 142.8,444.8 142.9,441.1 143.0,437.0 143.1,432.6 143.2,427.9 143.3,423.1 143.4,418.4 143.5,413.7 143.6,409.2 143.7,405.2 143.8,401.5 143.9,398.4 144.0,395.9 144.1,394.0 144.2,392.9 144.3,392.5 144.4,392.5 144.5,392.4 144.6,392.3 144.7,392.2 144.8,392.0 144.9,391.7 145.0,391.4 145.1,391.1 145.3,390.7 145.4,390.4 145.5,389.9 145.6,389.5 145.7,389.0 145.8,388.5 145.9,388.0 146.0,387.5 146.1,387.0 146.2,386.4 146.3,385.9 146.4,385.4 146.5,384.8 146.6,384.3 146.7,383.8 146.8,383.4 146.9,382.9 147.0,382.5 147.1,382.1 147.2,381.7 147.3,381.4 147.4,381.1 147.5,380.9 147.6,380.7 147.7,380.5 147.8,380.4 147.9,380.3 148.0,380.3 148.1,380.2 148.2,380.1 148.3,380.0 148.4,379.9 148.5,379.9 148.6,379.8 148.7,379.7 148.8,379.6 148.9,379.5 149.0,379.5 149.1,379.4 149.2,379.3 149.3,379.3 149.4,379.2 149.5,379.1 149.6,379.1 149.7,379.0 149.8,379.0 149.9,378.9 150.0,378.9 150.1,378.8 150.2,378.8 150.3,378.7 150.4,378.7 150.5,378.6 150.6,378.6 150.7,378.6 150.8,378.5 150.9,378.5 151.0,378.4 151.1,378.4 151.2,378.4 151.3,378.3 151.4,378.3 151.5,378.3 151.6,378.3 151.7,378.2 151.8,378.2 151.9,378.2 152.0,378.2 152.1,378.1 152.2,378.1 152.3,378.1 152.4,378.1 152.5,378.1 152.6,378.0 152.8,378.0 152.9,378.0 153.0,378.0 153.1,378.0 153.2,378.0 153.3,377.9 153.4,377.9 153.5,377.9 153.6,377.9 153.7,377.9 153.8,377.9 153.9,377.9 154.0,377.9 154.1,377.9 154.2,377.9 154.3,377.9 154.4,377.9 154.5,377.9 154.6,377.9 154.7,377.9 154.8,377.9 154.9,377.9 155.0,377.9 155.1,377.9 155.2,377.9 155.3,377.9 155.4,377.9 155.5,377.9 155.6,377.9 155.7,377.9 155.8,377.9 155.9,377.9 156.0,377.9 156.1,377.9 156.2,377.9 156.3,377.9 156.4,377.9 156.5,377.9 156.6,377.9 156.7,377.9 156.8,377.9 156.9,377.9 157.0,377.9 157.1,377.9 157.2,377.9 157.3,378.0 157.4,378.0 157.5,378.0 157.6,378.0 157.7,378.0 157.8,378.0 157.9,378.0 158.0,378.0 158.1,378.0 158.2,378.0 158.3,378.0 158.4,378.1 158.5,378.1 158.6,378.1 158.7,378.1 158.8,378.1 158.9,378.1 159.0,378.1 159.1,378.1 159.2,378.1 159.3,378.2 159.4,378.2 159.5,378.2 159.6,378.2 159.7,378.2 159.8,378.2 159.9,378.2 160.0,378.2 160.1,378.2 160.2,378.3 160.4,378.3 160.5,378.3 160.6,378.3 160.7,378.3 160.8,378.3 160.9,378.3 161.0,378.3 161.1,378.4 161.2,378.4 161.3,378.4 161.4,378.4 161.5,378.4 161.6,378.4 161.7,378.4 161.8,378.4 161.9,378.5 162.0,378.5 162.1,378.5 162.2,378.5 162.3,378.5 162.4,378.5 162.5,378.5 162.6,378.6 162.7,378.6 162.8,378.6 162.9,378.6 163.0,378.6 163.1,378.6 163.2,378.6 163.3,378.6 163.4,378.7 163.5,378.7 163.6,378.7 163.7,378.7 163.8,378.7 163.9,378.7 164.0,378.7 164.1,378.7 164.2,378.8 164.3,378.8 164.4,378.8 164.5,378.8 164.6,378.8 164.7,378.8 164.8,378.8 164.9,378.8 165.0,378.9 165.1,378.9 165.2,378.9 165.3,378.9 165.4,378.9 165.5,378.9 165.6,378.9 165.7,378.9 165.8,378.9 165.9,379.0 166.0,379.0 166.1,379.0 166.2,379.0 166.3,379.0 166.4,379.0 166.5,379.0 166.6,379.0 166.7,379.0 166.8,379.1 166.9,379.1 167.0,379.1 167.1,379.1 167.2,379.1 167.3,379.1 167.4,379.1 167.5,379.1 167.6,379.1 167.7,379.2 167.9,379.2 168.0,379.2 168.1,379.2 168.2,379.2 168.3,379.2 168.4,379.2 168.5,379.2 168.6,379.2 168.7,379.2 168.8,379.3 168.9,379.3 169.0,379.3 169.1,379.3 169.2,379.3 169.3,379.3 169.4,379.3 169.5,379.3 169.6,379.3 169.7,379.3 169.8,379.4 169.9,379.4 170.0,379.4 170.1,379.4 170.2,379.4 170.3,379.4 170.4,379.4 170.5,379.4 170.6,379.4 170.7,379.4 170.8,379.4 170.9,379.4 171.0,379.5 171.1,379.5 171.2,379.5 171.3,379.5 171.4,379.5 171.5,379.5 171.6,379.5 171.7,379.5 171.8,379.5 171.9,379.5 172.0,379.5 172.1,379.5 172.2,379.6 172.3,379.6 172.4,379.6 172.5,379.6 172.6,379.6 172.7,379.6 172.8,379.6 172.9,379.6 173.0,379.6 173.1,379.6 173.2,379.6 173.3,379.6 173.4,379.6 173.5,379.6 173.6,379.7 173.7,379.7 173.8,379.7 173.9,379.7 174.0,379.7 174.1,379.7 174.2,379.7 174.3,379.7 174.4,379.7 174.5,379.7 174.6,379.7 174.7,379.7 174.8,379.7 174.9,379.7 175.0,379.7 175.1,379.7 175.2,379.8 175.4,379.8 175.5,379.8 175.6,379.8 175.7,379.8 175.8,379.8 175.9,379.8 176.0,379.8 176.1,379.8 176.2,379.8 176.3,379.8 176.4,379.8 176.5,379.8 176.6,379.8 176.7,379.8 176.8,379.8 176.9,379.8 177.0,379.8 177.1,379.8 177.2,379.9 177.3,379.9 177.4,379.9 177.5,379.9 177.6,379.9 177.7,379.9 177.8,379.9 177.9,379.9 178.0,379.9 178.1,379.9 178.2,379.9 178.3,379.9 178.4,379.9 178.5,379.9 178.6,379.9 178.7,379.9 178.8,379.9 178.9,379.9 179.0,379.9 179.1,379.9 179.2,379.9 179.3,379.9 179.4,379.9 179.5,380.0 179.6,380.0 179.7,380.0 179.8,380.0 179.9,380.0 180.0,380.0 180.1,380.0 180.2,380.0 180.3,380.0 180.4,380.0 180.5,380.0 180.6,380.0 180.7,380.0 180.8,380.0 180.9,380.0 181.0,380.0 181.1,380.0 181.2,380.0 181.3,380.0 181.4,380.0 181.5,380.0 181.6,380.0 181.7,380.0 181.8,380.0 181.9,380.0 182.0,380.0 182.1,380.0 182.2,380.0 182.3,380.0 182.4,380.0 182.5,380.1 182.6,380.1 182.7,380.1 182.9,380.1 183.0,380.1 183.1,380.1 183.2,380.1 183.3,380.1 183.4,380.1 183.5,380.1 183.6,380.1 183.7,380.1 183.8,380.1 183.9,380.1 184.0,380.1 184.1,380.1 184.2,380.1 184.3,380.1 184.4,380.1 184.5,380.1 184.6,380.1 184.7,380.1 184.8,380.1 184.9,380.1 185.0,380.1 185.1,380.1 185.2,380.1 185.3,380.1 185.4,380.1 185.5,380.1 185.6,380.1 185.7,380.1 185.8,380.1 185.9,380.1 186.0,380.1 186.1,380.1 186.2,380.1 186.3,380.1 186.4,380.1 186.5,380.1 186.6,380.1 186.7,380.1 186.8,380.1 186.9,380.1 187.0,380.2 187.1,380.2 187.2,380.2 187.3,380.2 187.4,380.2 187.5,380.2 187.6,380.2 187.7,380.2 187.8,380.2 187.9,380.2 188.0,380.2 188.1,380.2 188.2,380.2 188.3,380.2 188.4,380.2 188.5,380.2 188.6,380.2 188.7,380.2 188.8,380.2 188.9,380.2 189.0,380.2 189.1,380.2 189.2,380.2 189.3,380.2 189.4,380.2 189.5,380.2 189.6,380.2 189.7,380.2 189.8,380.2 189.9,380.2 190.0,380.2 190.1,380.2 190.2,380.2 190.4,380.2 190.5,380.2 190.6,380.2 190.7,380.2 190.8,380.2 190.9,380.2 191.0,380.2 191.1,380.2 191.2,380.2 191.3,380.2 191.4,380.2 191.5,380.2 191.6,380.2 191.7,380.2 191.8,380.2 191.9,380.2 192.0,380.2 192.1,380.2 192.2,380.2 192.3,380.2 192.4,380.2 192.5,380.2 192.6,380.2 192.7,380.2 192.8,380.2 192.9,380.2 193.0,380.2 193.1,380.2 193.2,380.2 193.3,380.2 193.4,380.2 193.5,380.2 193.6,380.2 193.7,380.2 193.8,380.2 193.9,380.2 194.0,380.2 194.1,380.2 194.2,380.2 194.3,380.2 194.4,380.2 194.5,380.2 194.6,380.2 194.7,380.2 194.8,380.2 194.9,380.2 195.0,380.2 195.1,380.2 195.2,380.2 195.3,380.2 195.4,380.2 195.5,380.2 195.6,380.2 195.7,380.2 195.8,380.2 195.9,380.2 196.0,380.2 196.1,380.2 196.2,380.2 196.3,380.3 196.4,380.3 196.5,380.3 196.6,380.3 196.7,380.3 196.8,380.3 196.9,380.3 197.0,380.3 197.1,380.3 197.2,380.3 197.3,380.3 197.4,380.3 197.5,380.3 197.6,380.3 197.7,380.3 197.9,380.3 198.0,380.3 198.1,380.3 198.2,380.3 198.3,380.3 198.4,380.3 198.5,380.3 198.6,380.3 198.7,380.3 198.8,380.3 198.9,380.3 199.0,380.3 199.1,380.3 199.2,380.3 199.3,380.3 199.4,380.3 199.5,380.3 199.6,380.3 199.7,380.3 199.8,380.3 199.9,380.3 200.0,380.3 200.1,380.3 200.2,380.3 200.3,380.3 200.4,380.3 200.5,380.3 200.6,380.3 200.7,380.3 200.8,380.3 200.9,380.3 201.0,380.3 201.1,380.3 201.2,380.3 201.3,380.3 201.4,380.3 201.5,380.3 201.6,380.3 201.7,380.3 201.8,380.3 201.9,380.3 202.0,380.3 202.1,380.3 202.2,380.3 202.3,380.3 202.4,380.3 202.5,380.3 202.6,380.3 202.7,380.3 202.8,380.3 202.9,380.3 203.0,380.3 203.1,380.3 203.2,380.3 203.3,380.3 203.4,380.3 203.5,380.3 203.6,380.3 203.7,380.3 203.8,380.3 203.9,380.3 204.0,380.3 204.1,380.3 204.2,380.3 204.3,380.3 204.4,380.3 204.5,380.3 204.6,380.3 204.7,380.3 204.8,380.3 206.9,380.3 208.9,380.3 210.9,380.3 213.0,380.3 215.0,380.3 217.0,380.3 219.0,380.3 219.1,380.3 219.2,380.3 219.3,380.3 219.4,380.3 219.5,380.3 219.6,380.3 219.7,380.3 219.8,380.3 219.9,380.3 220.0,380.3 220.1,380.3 220.2,380.3 220.4,380.3 220.5,380.3 220.6,380.3 220.7,380.3 220.8,380.3 220.9,380.3 221.0,380.3 221.1,380.3 221.2,375.5 221.3,370.7 221.4,366.0 221.5,361.3 221.6,356.7 221.7,352.2 221.8,347.8 221.9,343.6 222.0,339.5 222.1,335.6 222.2,331.9 222.3,328.4 222.4,325.1 222.5,322.0 222.6,319.2 222.7,316.7 222.8,314.4 222.9,312.4 223.0,310.8 223.1,309.4 223.2,308.3 223.3,307.5 223.4,307.0 223.5,306.9 223.6,307.2 223.7,308.4 223.8,310.2 223.9,312.7 224.0,315.8 224.1,319.5 224.2,323.6 224.3,328.0 224.4,332.7 224.5,337.5 224.6,342.2 224.7,346.9 224.8,351.4 224.9,355.4 225.0,359.1 225.1,362.2 225.2,364.7 225.3,366.6 225.4,367.7 225.5,368.1 225.6,368.1 225.7,368.2 225.8,368.3 225.9,368.4 226.0,368.6 226.1,368.9 226.2,369.2 226.3,369.5 226.4,369.9 226.5,370.2 226.6,370.7 226.7,371.1 226.8,371.6 226.9,372.1 227.0,372.6 227.1,373.1 227.2,373.6 227.3,374.2 227.4,374.7 227.5,375.2 227.6,375.8 227.7,376.3 227.9,376.8 228.0,377.2 228.1,377.7 228.2,378.1 228.3,378.5 228.4,378.9 228.5,379.2 228.6,379.5 228.7,379.7 228.8,379.9 228.9,380.1 229.0,380.2 229.1,380.3 229.2,380.3 229.3,380.4 229.4,380.5 229.5,380.6 229.6,380.7 229.7,380.7 229.8,380.8 229.9,380.9 230.0,381.0 230.1,381.1 230.2,381.1 230.3,381.2 230.4,381.3 230.5,381.3 230.6,381.4 230.7,381.5 230.8,381.5 230.9,381.6 231.0,381.6 231.1,381.7 231.2,381.7 231.3,381.8 231.4,381.8 231.5,381.9 231.6,381.9 231.7,382.0 231.8,382.0 231.9,382.0 232.0,382.1 232.1,382.1 232.2,382.2 232.3,382.2 232.4,382.2 232.5,382.3 232.6,382.3 232.7,382.3 232.8,382.3 232.9,382.4 233.0,382.4 233.1,382.4 233.2,382.4 233.3,382.5 233.4,382.5 233.5,382.5 233.6,382.5 233.7,382.5 233.8,382.6 233.9,382.6 234.0,382.6 234.1,382.6 234.2,382.6 234.3,382.6 234.4,382.7 234.5,382.7 234.6,382.7 234.7,382.7 234.8,382.7 234.9,382.7 235.0,382.7 235.1,382.7 235.2,382.7 235.4,382.7 235.5,382.7 235.6,382.7 235.7,382.7 235.8,382.7 235.9,382.7 236.0,382.7 236.1,382.7 236.2,382.7 236.3,382.7 236.4,382.7 236.5,382.7 236.6,382.7 236.7,382.7 236.8,382.7 236.9,382.7 237.0,382.7 237.1,382.7 237.2,382.7 237.3,382.7 237.4,382.7 237.5,382.7 237.6,382.7 237.7,382.7 237.8,382.7 237.9,382.7 238.0,382.7 238.1,382.7 238.2,382.7 238.3,382.7 238.4,382.7 238.5,382.6 238.6,382.6 238.7,382.6 238.8,382.6 238.9,382.6 239.0,382.6 239.1,382.6 239.2,382.6 239.3,382.6 239.4,382.6 239.5,382.6 239.6,382.5 239.7,382.5 239.8,382.5 239.9,382.5 240.0,382.5 240.1,382.5 240.2,382.5 240.3,382.5 240.4,382.5 240.5,382.4 240.6,382.4 240.7,382.4 240.8,382.4 240.9,382.4 241.0,382.4 241.1,382.4 241.2,382.4 241.3,382.4 241.4,382.3 241.5,382.3 241.6,382.3 241.7,382.3 241.8,382.3 241.9,382.3 242.0,382.3 242.1,382.3 242.2,382.2 242.3,382.2 242.4,382.2 242.5,382.2 242.6,382.2 242.7,382.2 242.9,382.2 243.0,382.2 243.1,382.1 243.2,382.1 243.3,382.1 243.4,382.1 243.5,382.1 243.6,382.1 243.7,382.1 243.8,382.0 243.9,382.0 244.0,382.0 244.1,382.0 244.2,382.0 244.3,382.0 244.4,382.0 244.5,382.0 244.6,381.9 244.7,381.9 244.8,381.9 244.9,381.9 245.0,381.9 245.1,381.9 245.2,381.9 245.3,381.9 245.4,381.8 245.5,381.8 245.6,381.8 245.7,381.8 245.8,381.8 245.9,381.8 246.0,381.8 246.1,381.8 246.2,381.7 246.3,381.7 246.4,381.7 246.5,381.7 246.6,381.7 246.7,381.7 246.8,381.7 246.9,381.7 247.0,381.7 247.1,381.6 247.2,381.6 247.3,381.6 247.4,381.6 247.5,381.6 247.6,381.6 247.7,381.6 247.8,381.6 247.9,381.6 248.0,381.5 248.1,381.5 248.2,381.5 248.3,381.5 248.4,381.5 248.5,381.5 248.6,381.5 248.7,381.5 248.8,381.5 248.9,381.4 249.0,381.4 249.1,381.4 249.2,381.4 249.3,381.4 249.4,381.4 249.5,381.4 249.6,381.4 249.7,381.4 249.8,381.4 249.9,381.3 250.0,381.3 250.1,381.3 250.2,381.3 250.4,381.3 250.5,381.3 250.6,381.3 250.7,381.3 250.8,381.3 250.9,381.3 251.0,381.2 251.1,381.2 251.2,381.2 251.3,381.2 251.4,381.2 251.5,381.2 251.6,381.2 251.7,381.2 251.8,381.2 251.9,381.2 252.0,381.2 252.1,381.2 252.2,381.1 252.3,381.1 252.4,381.1 252.5,381.1 252.6,381.1 252.7,381.1 252.8,381.1 252.9,381.1 253.0,381.1 253.1,381.1 253.2,381.1 253.3,381.1 253.4,381.0 253.5,381.0 253.6,381.0 253.7,381.0 253.8,381.0 253.9,381.0 254.0,381.0 254.1,381.0 254.2,381.0 254.3,381.0 254.4,381.0 254.5,381.0 254.6,381.0 254.7,381.0 254.8,380.9 254.9,380.9 255.0,380.9 255.1,380.9 255.2,380.9 255.3,380.9 255.4,380.9 255.5,380.9 255.6,380.9 255.7,380.9 255.8,380.9 255.9,380.9 256.0,380.9 256.1,380.9 256.2,380.9 256.3,380.9 256.4,380.8 256.5,380.8 256.6,380.8 256.7,380.8 256.8,380.8 256.9,380.8 257.0,380.8 257.1,380.8 257.2,380.8 257.3,380.8 257.4,380.8 257.5,380.8 257.6,380.8 257.7,380.8 257.9,380.8 258.0,380.8 258.1,380.8 258.2,380.8 258.3,380.8 258.4,380.7 258.5,380.7 258.6,380.7 258.7,380.7 258.8,380.7 258.9,380.7 259.0,380.7 259.1,380.7 259.2,380.7 259.3,380.7 259.4,380.7 259.5,380.7 259.6,380.7 259.7,380.7 259.8,380.7 259.9,380.7 260.0,380.7 260.1,380.7 260.2,380.7 260.3,380.7 260.4,380.7 260.5,380.7 260.6,380.7 260.7,380.6 260.8,380.6 260.9,380.6 261.0,380.6 261.1,380.6 261.2,380.6 261.3,380.6 261.4,380.6 261.5,380.6 261.6,380.6 261.7,380.6 261.8,380.6 261.9,380.6 262.0,380.6 262.1,380.6 262.2,380.6 262.3,380.6 262.4,380.6 262.5,380.6 262.6,380.6 262.7,380.6 262.8,380.6 262.9,380.6 263.0,380.6 263.1,380.6 263.2,380.6 263.3,380.6 263.4,380.6 263.5,380.6 263.6,380.6 263.7,380.5 263.8,380.5 263.9,380.5 264.0,380.5 264.1,380.5 264.2,380.5 264.3,380.5 264.4,380.5 264.5,380.5 264.6,380.5 264.7,380.5 264.8,380.5 264.9,380.5 265.0,380.5 265.1,380.5 265.2,380.5 265.3,380.5 265.5,380.5 265.6,380.5 265.7,380.5 265.8,380.5 265.9,380.5 266.0,380.5 266.1,380.5 266.2,380.5 266.3,380.5 266.4,380.5 266.5,380.5 266.6,380.5 266.7,380.5 266.8,380.5 266.9,380.5 267.0,380.5 267.1,380.5 267.2,380.5 267.3,380.5 267.4,380.5 267.5,380.5 267.6,380.5 267.7,380.5 267.8,380.5 267.9,380.5 268.0,380.5 268.1,380.5 268.2,380.4 268.3,380.4 268.4,380.4 268.5,380.4 268.6,380.4 268.7,380.4 268.8,380.4 268.9,380.4 269.0,380.4 269.1,380.4 269.2,380.4 269.3,380.4 269.4,380.4 269.5,380.4 269.6,380.4 269.7,380.4 269.8,380.4 269.9,380.4 270.0,380.4 270.1,380.4 270.2,380.4 270.3,380.4 270.4,380.4 270.5,380.4 270.6,380.4 270.7,380.4 270.8,380.4 270.9,380.4 271.0,380.4 271.1,380.4 271.2,380.4 271.3,380.4 271.4,380.4 271.5,380.4 271.6,380.4 271.7,380.4 271.8,380.4 271.9,380.4 272.0,380.4 272.1,380.4 272.2,380.4 272.3,380.4 272.4,380.4 272.5,380.4 272.6,380.4 272.7,380.4 272.8,380.4 273.0,380.4 273.1,380.4 273.2,380.4 273.3,380.4 273.4,380.4 273.5,380.4 273.6,380.4 273.7,380.4 273.8,380.4 273.9,380.4 274.0,380.4 274.1,380.4 274.2,380.4 274.3,380.4 274.4,380.4 274.5,380.4 274.6,380.4 274.7,380.4 274.8,380.4 274.9,380.4 275.0,380.4 275.1,380.4 275.2,380.4 275.3,380.4 275.4,380.4 275.5,380.4 275.6,380.4 275.7,380.4 275.8,380.4 275.9,380.4 276.0,380.4 276.1,380.4 276.2,380.4 276.3,380.4 276.4,380.4 276.5,380.4 276.6,380.4 276.7,380.4 276.8,380.4 276.9,380.4 277.0,380.4 277.1,380.4 277.2,380.4 277.3,380.4 277.4,380.4 277.5,380.3 277.6,380.3 277.7,380.3 277.8,380.3 277.9,380.3 278.0,380.3 278.1,380.3 278.2,380.3 278.3,380.3 278.4,380.3 278.5,380.3 278.6,380.3 278.7,380.3 278.8,380.3 278.9,380.3 279.0,380.3 279.1,380.3 279.2,380.3 279.3,380.3 279.4,380.3 279.5,380.3 279.6,380.3 279.7,380.3 279.8,380.3 279.9,380.3 280.0,380.3 280.1,380.3 280.2,380.3 280.3,380.3 280.5,380.3 280.6,380.3 280.7,380.3 280.8,380.3 280.9,380.3 281.0,380.3 281.1,380.3 281.2,380.3 281.3,380.3 281.4,380.3 281.5,380.3 281.6,380.3 281.7,380.3 281.8,380.3 281.9,380.3 282.0,380.3 282.1,380.3 282.2,380.3 282.3,380.3 282.4,380.3 282.5,380.3 282.6,380.3 282.7,380.3 282.8,380.3 282.9,380.3 283.0,380.3 283.1,380.3 283.2,380.3 283.3,380.3 283.4,380.3 283.5,380.3 283.6,380.3 283.7,380.3 283.8,380.3 283.9,380.3 284.0,380.3 284.1,380.3 284.2,380.3 284.3,380.3 284.4,380.3 284.5,380.3 284.6,380.3 284.7,380.3 284.8,380.3 284.9,380.3 285.0,380.3 285.1,380.3 285.2,380.3 285.3,380.3 285.4,380.3 285.5,380.3 285.6,380.3 285.7,380.3 285.8,380.3 285.9,380.3 288.0,380.3 290.0,380.3 292.0,380.3 294.0,380.3 296.1,380.3 298.1,380.3 300.1,380.3 300.2,380.3 300.3,380.3 300.4,380.3 300.5,380.3 300.6,380.3 300.7,380.3 300.8,380.3 300.9,380.3 301.0,380.3 301.1,380.3 301.2,380.3 301.3,380.3 301.4,380.3 301.5,380.3 301.6,380.3 301.7,380.3 301.8,380.3 301.9,380.3 302.0,380.3 302.1,380.3 302.2,380.3 302.3,380.3 302.4,380.3 302.5,381.5 302.6,382.7 302.7,383.9 302.8,385.1 303.0,386.2 303.1,387.3 303.2,388.4 303.3,389.5 303.4,390.5 303.5,391.5 303.6,392.4 303.7,393.3 303.8,394.1 303.9,394.9 304.0,395.6 304.1,396.2 304.2,396.8 304.3,397.3 304.4,397.7 304.5,398.0 304.6,398.3 304.7,398.5 304.8,398.6 304.9,398.7 305.0,398.6 305.1,398.3 305.2,397.8 305.3,397.2 305.4,396.4 305.5,395.5 305.6,394.5 305.7,393.4 305.8,392.2 305.9,391.0 306.0,389.8 306.1,388.6 306.2,387.5 306.3,386.5 306.4,385.6 306.5,384.8 306.6,384.2 306.7,383.7 306.8,383.5 306.9,383.4 307.0,383.4 307.1,383.3 307.2,383.3 307.3,383.3 307.4,383.2 307.5,383.2 307.6,383.1 307.7,383.0 307.8,382.9 307.9,382.8 308.0,382.7 308.1,382.6 308.2,382.5 308.3,382.4 308.4,382.2 308.5,382.1 308.6,382.0 308.7,381.8 308.8,381.7 308.9,381.6 309.0,381.4 309.1,381.3 309.2,381.2 309.3,381.1 309.4,381.0 309.5,380.8 309.6,380.7 309.7,380.7 309.8,380.6 309.9,380.5 310.0,380.4 310.1,380.4 310.2,380.4 310.3,380.3 310.5,380.3 310.6,380.3 310.7,380.3 310.8,380.3 310.9,380.2 311.0,380.2 311.1,380.2 311.2,380.2 311.3,380.2 311.4,380.1 311.5,380.1 311.6,380.1 311.7,380.1 311.8,380.1 311.9,380.0 312.0,380.0 312.1,380.0 312.2,380.0 312.3,380.0 312.4,380.0 312.5,380.0 312.6,379.9 312.7,379.9 312.8,379.9 312.9,379.9 313.0,379.9 313.1,379.9 313.2,379.9 313.3,379.9 313.4,379.9 313.5,379.8 313.6,379.8 313.7,379.8 313.8,379.8 313.9,379.8 314.0,379.8 314.1,379.8 314.2,379.8 314.3,379.8 314.4,379.8 314.5,379.8 314.6,379.8 314.7,379.8 314.8,379.8 314.9,379.7 315.0,379.7 315.1,379.7 315.2,379.7 315.3,379.7 315.4,379.7 315.5,379.7 315.6,379.7 315.7,379.7 315.8,379.7 315.9,379.7 316.0,379.7 316.1,379.7 316.2,379.7 316.3,379.7 316.4,379.7 316.5,379.7 316.6,379.7 316.7,379.7 316.8,379.7 316.9,379.7 317.0,379.7 317.1,379.7 317.2,379.7 317.3,379.7 317.4,379.7 317.5,379.7 317.6,379.7 317.7,379.7 317.8,379.7 318.0,379.7 318.1,379.7 318.2,379.7 318.3,379.7 318.4,379.7 318.5,379.7 318.6,379.7 318.7,379.7 318.8,379.7 318.9,379.7 319.0,379.7 319.1,379.7 319.2,379.7 319.3,379.7 319.4,379.7 319.5,379.7 319.6,379.7 319.7,379.7 319.8,379.7 319.9,379.7 320.0,379.7 320.1,379.7 320.2,379.7 320.3,379.7 320.4,379.7 320.5,379.7 320.6,379.7 320.7,379.7 320.8,379.7 320.9,379.7 321.0,379.7 321.1,379.7 321.2,379.7 321.3,379.7 321.4,379.7 321.5,379.8 321.6,379.8 321.7,379.8 321.8,379.8 321.9,379.8 322.0,379.8 322.1,379.8 322.2,379.8 322.3,379.8 322.4,379.8 322.5,379.8 322.6,379.8 322.7,379.8 322.8,379.8 322.9,379.8 323.0,379.8 323.1,379.8 323.2,379.8 323.3,379.8 323.4,379.8 323.5,379.8 323.6,379.8 323.7,379.8 323.8,379.8 323.9,379.8 324.0,379.8 324.1,379.8 324.2,379.8 324.3,379.8 324.4,379.8 324.5,379.8 324.6,379.8 324.7,379.8 324.8,379.9 324.9,379.9 325.0,379.9 325.1,379.9 325.2,379.9 325.3,379.9 325.5,379.9 325.6,379.9 325.7,379.9 325.8,379.9 325.9,379.9 326.0,379.9 326.1,379.9 326.2,379.9 326.3,379.9 326.4,379.9 326.5,379.9 326.6,379.9 326.7,379.9 326.8,379.9 326.9,379.9 327.0,379.9 327.1,379.9 327.2,379.9 327.3,379.9 327.4,379.9 327.5,379.9 327.6,379.9 327.7,379.9 327.8,379.9 327.9,379.9 328.0,379.9 328.1,380.0 328.2,380.0 328.3,380.0 328.4,380.0 328.5,380.0 328.6,380.0 328.7,380.0 328.8,380.0 328.9,380.0 329.0,380.0 329.1,380.0 329.2,380.0 329.3,380.0 329.4,380.0 329.5,380.0 329.6,380.0 329.7,380.0 329.8,380.0 329.9,380.0 330.0,380.0 330.1,380.0 330.2,380.0 330.3,380.0 330.4,380.0 330.5,380.0 330.6,380.0 330.7,380.0 330.8,380.0 330.9,380.0 331.0,380.0 331.1,380.0 331.2,380.0 331.3,380.0 331.4,380.0 331.5,380.0 331.6,380.0 331.7,380.0 331.8,380.1 331.9,380.1 332.0,380.1 332.1,380.1 332.2,380.1 332.3,380.1 332.4,380.1 332.5,380.1 332.6,380.1 332.7,380.1 332.8,380.1 333.0,380.1 333.1,380.1 333.2,380.1 333.3,380.1 333.4,380.1 333.5,380.1 333.6,380.1 333.7,380.1 333.8,380.1 333.9,380.1 334.0,380.1 334.1,380.1 334.2,380.1 334.3,380.1 334.4,380.1 334.5,380.1 334.6,380.1 334.7,380.1 334.8,380.1 334.9,380.1 335.0,380.1 335.1,380.1 335.2,380.1 335.3,380.1 335.4,380.1 335.5,380.1 335.6,380.1 335.7,380.1 335.8,380.1 335.9,380.1 336.0,380.1 336.1,380.1 336.2,380.1 336.3,380.1 336.4,380.1 336.5,380.1 336.6,380.1 336.7,380.1 336.8,380.1 336.9,380.1 337.0,380.2 337.1,380.2 337.2,380.2 337.3,380.2 337.4,380.2 337.5,380.2 337.6,380.2 337.7,380.2 337.8,380.2 337.9,380.2 338.0,380.2 338.1,380.2 338.2,380.2 338.3,380.2 338.4,380.2 338.5,380.2 338.6,380.2 338.7,380.2 338.8,380.2 338.9,380.2 339.0,380.2 339.1,380.2 339.2,380.2 339.3,380.2 339.4,380.2 339.5,380.2 339.6,380.2 339.7,380.2 339.8,380.2 339.9,380.2 340.0,380.2 340.1,380.2 340.2,380.2 340.3,380.2 340.5,380.2 340.6,380.2 340.7,380.2 340.8,380.2 340.9,380.2 341.0,380.2 341.1,380.2 341.2,380.2 341.3,380.2 341.4,380.2 341.5,380.2 341.6,380.2 341.7,380.2 341.8,380.2 341.9,380.2 342.0,380.2 342.1,380.2 342.2,380.2 342.3,380.2 342.4,380.2 342.5,380.2 342.6,380.2 342.7,380.2 342.8,380.2 342.9,380.2 343.0,380.2 343.1,380.2 343.2,380.2 343.3,380.2 343.4,380.2 343.5,380.2 343.6,380.2 343.7,380.2 343.8,380.2 343.9,380.2 344.0,380.2 344.1,380.2 344.2,380.2 344.3,380.2 344.4,380.2 344.5,380.2 344.6,380.2 344.7,380.2 344.8,380.2 344.9,380.2 345.0,380.2 345.1,380.2 345.2,380.2 345.3,380.2 345.4,380.2 345.5,380.2 345.6,380.2 345.7,380.2 345.8,380.2 345.9,380.2 346.0,380.2 346.1,380.2 346.2,380.2 346.3,380.2 346.4,380.2 346.5,380.2 346.6,380.2 346.7,380.2 346.8,380.2 346.9,380.2 347.0,380.3 347.1,380.3 347.2,380.3 347.3,380.3 347.4,380.3 347.5,380.3 347.6,380.3 347.7,380.3 347.8,380.3 348.0,380.3 348.1,380.3 348.2,380.3 348.3,380.3 348.4,380.3 348.5,380.3 348.6,380.3 348.7,380.3 348.8,380.3 348.9,380.3 349.0,380.3 349.1,380.3 349.2,380.3 349.3,380.3 349.4,380.3 349.5,380.3 349.6,380.3 349.7,380.3 349.8,380.3 349.9,380.3 350.0,380.3 350.1,380.3 350.2,380.3 350.3,380.3 350.4,380.3 350.5,380.3 350.6,380.3 350.7,380.3 350.8,380.3 350.9,380.3 351.0,380.3 351.1,380.3 351.2,380.3 351.3,380.3 351.4,380.3 351.5,380.3 351.6,380.3 351.7,380.3 351.8,380.3 351.9,380.3 352.0,380.3 352.1,380.3 352.2,380.3 352.3,380.3 352.4,380.3 352.5,380.3 352.6,380.3 352.7,380.3 352.8,380.3 352.9,380.3 353.0,380.3 353.1,380.3 353.2,380.3 353.3,380.3 353.4,380.3 353.5,380.3 353.6,380.3 353.7,380.3 353.8,380.3 353.9,380.3 354.0,380.3 354.1,380.3 354.2,380.3 354.3,380.3 354.4,380.3 354.5,380.3 354.6,380.3 354.7,380.3 354.8,380.3 354.9,380.3 355.0,380.3 355.1,380.3 355.2,380.3 355.3,380.3 355.5,380.3 355.6,380.3 355.7,380.3 355.8,380.3 355.9,380.3 356.0,380.3 356.1,380.3 356.2,380.3 356.3,380.3 356.4,380.3 356.5,380.3 356.6,380.3 356.7,380.3 356.8,380.3 356.9,380.3 357.0,380.3 357.1,380.3 357.2,380.3 357.3,380.3 357.4,380.3 357.5,380.3 357.6,380.3 357.7,380.3 357.8,380.3 357.9,380.3 358.0,380.3 358.1,380.3 358.2,380.3 358.3,380.3 358.4,380.3 358.5,380.3 358.6,380.3 358.7,380.3 358.8,380.3 358.9,380.3 359.0,380.3 359.1,380.3 359.2,380.3 359.3,380.3 359.4,380.3 359.5,380.3 359.6,380.3 359.7,380.3 359.8,380.3 359.9,380.3 360.0,380.3 360.1,380.3 360.2,380.3 360.3,380.3 360.4,380.3 360.5,380.3 360.6,380.3 360.7,380.3 360.8,380.3 360.9,380.3 361.0,380.3 361.1,380.3 361.2,380.3 361.3,380.3 361.4,380.3 361.5,380.3 361.6,380.3 361.7,380.3 361.8,380.3 361.9,380.3 362.0,380.3 362.1,380.3 362.2,380.3 362.3,380.3 362.4,380.3 362.5,380.3 362.6,380.3 362.7,380.3 362.8,380.3 362.9,380.3 363.1,380.3 363.2,380.3 363.3,380.3 363.4,380.3 363.5,380.3 363.6,380.3 363.7,380.3 363.8,380.3 363.9,380.3 364.0,380.3 364.1,380.3 364.2,380.3 364.3,380.3 364.4,380.3 364.5,380.3 364.6,380.3 364.7,380.3 364.8,380.3 364.9,380.3 365.0,380.3 365.1,380.3 365.2,380.3 365.3,380.3 365.4,380.3 365.5,380.3 365.6,380.3 365.7,380.3 365.8,380.3 365.9,380.3 366.0,380.3 366.1,380.3 366.2,380.3 366.3,380.3 366.4,380.3 366.5,380.3 366.6,380.3 366.7,380.3 366.8,380.3 366.9,380.3 367.0,380.3 369.0,380.3 371.1,380.3 373.1,380.3 375.1,380.3 377.1,380.3 379.2,380.3 381.2,380.3 381.3,380.3 381.4,380.3 381.5,380.3 381.6,380.3 381.7,380.3 381.8,380.3 381.9,380.3 382.0,380.3 382.1,380.3 382.2,380.3 382.3,380.3 382.4,380.3 382.5,380.3 382.6,380.3 382.7,380.3 382.8,380.3 382.9,380.3 383.0,380.3 383.1,380.3 383.2,380.3 383.3,380.3 383.4,380.3 383.5,380.3 383.6,380.3 383.7,379.7 383.8,379.1 383.9,378.5 384.0,377.9 384.1,377.3 384.2,376.8 384.3,376.2 384.4,375.7 384.5,375.2 384.6,374.7 384.7,374.2 384.8,373.8 384.9,373.4 385.0,373.0 385.1,372.7 385.2,372.3 385.3,372.1 385.4,371.8 385.6,371.6 385.7,371.4 385.8,371.3 385.9,371.2 386.0,371.1 386.1,371.1 386.2,371.2 386.3,371.3 386.4,371.5 386.5,371.9 386.6,372.2 386.7,372.7 386.8,373.2 386.9,373.8 387.0,374.3 387.1,374.9 387.2,375.5 387.3,376.1 387.4,376.7 387.5,377.2 387.6,377.6 387.7,378.0 387.8,378.4 387.9,378.6 388.0,378.7 388.1,378.8 388.2,378.8 388.3,378.8 388.4,378.8 388.5,378.8 388.6,378.8 388.7,378.9 388.8,378.9 388.9,378.9 389.0,379.0 389.1,379.0 389.2,379.1 389.3,379.2 389.4,379.2 389.5,379.3 389.6,379.3 389.7,379.4 389.8,379.5 389.9,379.5 390.0,379.6 390.1,379.7 390.2,379.7 390.3,379.8 390.4,379.9 390.5,379.9 390.6,380.0 390.7,380.0 390.8,380.1 390.9,380.1 391.0,380.2 391.1,380.2 391.2,380.2 391.3,380.3 391.4,380.3 391.5,380.3 391.6,380.3 391.7,380.3 391.8,380.3 391.9,380.3 392.0,380.3 392.1,380.3 392.2,380.4 392.3,380.4 392.4,380.4 392.5,380.4 392.6,380.4 392.7,380.4 392.8,380.4 392.9,380.4 393.1,380.4 393.2,380.4 393.3,380.4 393.4,380.5 393.5,380.5 393.6,380.5 393.7,380.5 393.8,380.5 393.9,380.5 394.0,380.5 394.1,380.5 394.2,380.5 394.3,380.5 394.4,380.5 394.5,380.5 394.6,380.5 394.7,380.5 394.8,380.5 394.9,380.5 395.0,380.5 395.1,380.5 395.2,380.5 395.3,380.6 395.4,380.6 395.5,380.6 395.6,380.6 395.7,380.6 395.8,380.6 395.9,380.6 396.0,380.6 396.1,380.6 396.2,380.6 396.3,380.6 396.4,380.6 396.5,380.6 396.6,380.6 396.7,380.6 396.8,380.6 396.9,380.6 397.0,380.6 397.1,380.6 397.2,380.6 397.3,380.6 397.4,380.6 397.5,380.6 397.6,380.6 397.7,380.6 397.8,380.6 397.9,380.6 398.0,380.6 398.1,380.6 398.2,380.6 398.3,380.6 398.4,380.6 398.5,380.6 398.6,380.6 398.7,380.6 398.8,380.6 398.9,380.6 399.0,380.6 399.1,380.6 399.2,380.6 399.3,380.6 399.4,380.6 399.5,380.6 399.6,380.6 399.7,380.6 399.8,380.6 399.9,380.6 400.0,380.6 400.1,380.6 400.2,380.6 400.3,380.6 400.4,380.6 400.6,380.6 400.7,380.6 400.8,380.6 400.9,380.6 401.0,380.6 401.1,380.6 401.2,380.6 401.3,380.6 401.4,380.6 401.5,380.6 401.6,380.6 401.7,380.6 401.8,380.6 401.9,380.6 402.0,380.6 402.1,380.6 402.2,380.6 402.3,380.6 402.4,380.6 402.5,380.6 402.6,380.6 402.7,380.6 402.8,380.6 402.9,380.6 403.0,380.6 403.1,380.6 403.2,380.6 403.3,380.6 403.4,380.6 403.5,380.6 403.6,380.6 403.7,380.6 403.8,380.6 403.9,380.6 404.0,380.6 404.1,380.6 404.2,380.6 404.3,380.6 404.4,380.5 404.5,380.5 404.6,380.5 404.7,380.5 404.8,380.5 404.9,380.5 405.0,380.5 405.1,380.5 405.2,380.5 405.3,380.5 405.4,380.5 405.5,380.5 405.6,380.5 405.7,380.5 405.8,380.5 405.9,380.5 406.0,380.5 406.1,380.5 406.2,380.5 406.3,380.5 406.4,380.5 406.5,380.5 406.6,380.5 406.7,380.5 406.8,380.5 406.9,380.5 407.0,380.5 407.1,380.5 407.2,380.5 407.3,380.5 407.4,380.5 407.5,380.5 407.6,380.5 407.7,380.5 407.8,380.5 407.9,380.5 408.1,380.5 408.2,380.5 408.3,380.5 408.4,380.5 408.5,380.5 408.6,380.5 408.7,380.5 408.8,380.5 408.9,380.5 409.0,380.5 409.1,380.5 409.2,380.5 409.3,380.5 409.4,380.5 409.5,380.5 409.6,380.5 409.7,380.5 409.8,380.5 409.9,380.5 410.0,380.5 410.1,380.5 410.2,380.5 410.3,380.5 410.4,380.5 410.5,380.5 410.6,380.5 410.7,380.5 410.8,380.5 410.9,380.5 411.0,380.4 411.1,380.4 411.2,380.4 411.3,380.4 411.4,380.4 411.5,380.4 411.6,380.4 411.7,380.4 411.8,380.4 411.9,380.4 412.0,380.4 412.1,380.4 412.2,380.4 412.3,380.4 412.4,380.4 412.5,380.4 412.6,380.4 412.7,380.4 412.8,380.4 412.9,380.4 413.0,380.4 413.1,380.4 413.2,380.4 413.3,380.4 413.4,380.4 413.5,380.4 413.6,380.4 413.7,380.4 413.8,380.4 413.9,380.4 414.0,380.4 414.1,380.4 414.2,380.4 414.3,380.4 414.4,380.4 414.5,380.4 414.6,380.4 414.7,380.4 414.8,380.4 414.9,380.4 415.0,380.4 415.1,380.4 415.2,380.4 415.3,380.4 415.4,380.4 415.6,380.4 415.7,380.4 415.8,380.4 415.9,380.4 416.0,380.4 416.1,380.4 416.2,380.4 416.3,380.4 416.4,380.4 416.5,380.4 416.6,380.4 416.7,380.4 416.8,380.4 416.9,380.4 417.0,380.4 417.1,380.4 417.2,380.4 417.3,380.4 417.4,380.4 417.5,380.4 417.6,380.4 417.7,380.4 417.8,380.4 417.9,380.4 418.0,380.4 418.1,380.4 418.2,380.4 418.3,380.4 418.4,380.4 418.5,380.4 418.6,380.4 418.7,380.4 418.8,380.4 418.9,380.4 419.0,380.4 419.1,380.4 419.2,380.4 419.3,380.4 419.4,380.4 419.5,380.4 419.6,380.4 419.7,380.4 419.8,380.4 419.9,380.4 420.0,380.4 420.1,380.4 420.2,380.4 420.3,380.4 420.4,380.4 420.5,380.4 420.6,380.4 420.7,380.4 420.8,380.4 420.9,380.4 421.0,380.4 421.1,380.4 421.2,380.4 421.3,380.4 421.4,380.4 421.5,380.4 421.6,380.4 421.7,380.4 421.8,380.4 421.9,380.4 422.0,380.3 422.1,380.3 422.2,380.3 422.3,380.3 422.4,380.3 422.5,380.3 422.6,380.3 422.7,380.3 422.8,380.3 422.9,380.3 423.1,380.3 423.2,380.3 423.3,380.3 423.4,380.3 423.5,380.3 423.6,380.3 423.7,380.3 423.8,380.3 423.9,380.3 424.0,380.3 424.1,380.3 424.2,380.3 424.3,380.3 424.4,380.3 424.5,380.3 424.6,380.3 424.7,380.3 424.8,380.3 424.9,380.3 425.0,380.3 425.1,380.3 425.2,380.3 425.3,380.3 425.4,380.3 425.5,380.3 425.6,380.3 425.7,380.3 425.8,380.3 425.9,380.3 426.0,380.3 426.1,380.3 426.2,380.3 426.3,380.3 426.4,380.3 426.5,380.3 426.6,380.3 426.7,380.3 426.8,380.3 426.9,380.3 427.0,380.3 427.1,380.3 427.2,380.3 427.3,380.3 427.4,380.3 427.5,380.3 427.6,380.3 427.7,380.3 427.8,380.3 427.9,380.3 428.0,380.3 428.1,380.3 428.2,380.3 428.3,380.3 428.4,380.3 428.5,380.3 428.6,380.3 428.7,380.3 428.8,380.3 428.9,380.3 429.0,380.3 429.1,380.3 429.2,380.3 429.3,380.3 429.4,380.3 429.5,380.3 429.6,380.3 429.7,380.3 429.8,380.3 429.9,380.3 430.0,380.3 430.1,380.3 430.2,380.3 430.3,380.3 430.4,380.3 430.6,380.3 430.7,380.3 430.8,380.3 430.9,380.3 431.0,380.3 431.1,380.3 431.2,380.3 431.3,380.3 431.4,380.3 431.5,380.3 431.6,380.3 431.7,380.3 431.8,380.3 431.9,380.3 432.0,380.3 432.1,380.3 432.2,380.3 432.3,380.3 432.4,380.3 432.5,380.3 432.6,380.3 432.7,380.3 432.8,380.3 432.9,380.3 433.0,380.3 433.1,380.3 433.2,380.3 433.3,380.3 433.4,380.3 433.5,380.3 433.6,380.3 433.7,380.3 433.8,380.3 433.9,380.3 434.0,380.3 434.1,380.3 434.2,380.3 434.3,380.3 434.4,380.3 434.5,380.3 434.6,380.3 434.7,380.3 434.8,380.3 434.9,380.3 435.0,380.3 435.1,380.3 435.2,380.3 435.3,380.3 435.4,380.3 435.5,380.3 435.6,380.3 435.7,380.3 435.8,380.3 435.9,380.3 436.0,380.3 436.1,380.3 436.2,380.3 436.3,380.3 436.4,380.3 436.5,380.3 436.6,380.3 436.7,380.3 436.8,380.3 436.9,380.3 437.0,380.3 437.1,380.3 437.2,380.3 437.3,380.3 437.4,380.3 437.5,380.3 437.6,380.3 437.7,380.3 437.8,380.3 437.9,380.3 438.1,380.3 438.2,380.3 438.3,380.3 438.4,380.3 438.5,380.3 438.6,380.3 438.7,380.3 438.8,380.3 438.9,380.3 439.0,380.3 439.1,380.3 439.2,380.3 439.3,380.3 439.4,380.3 439.5,380.3 439.6,380.3 439.7,380.3 439.8,380.3 439.9,380.3 440.0,380.3 440.1,380.3 440.2,380.3 440.3,380.3 440.4,380.3 440.5,380.3 440.6,380.3 440.7,380.3 440.8,380.3 440.9,380.3 441.0,380.3 441.1,380.3 441.2,380.3 441.3,380.3 441.4,380.3 441.5,380.3 441.6,380.3 441.7,380.3 441.8,380.3 441.9,380.3 442.0,380.3 442.1,380.3 442.2,380.3 442.3,380.3 442.4,380.3 442.5,380.3 442.6,380.3 442.7,380.3 442.8,380.3 442.9,380.3 443.0,380.3 443.1,380.3 443.2,380.3 443.3,380.3 443.4,380.3 443.5,380.3 443.6,380.3 443.7,380.3 443.8,380.3 443.9,380.3 444.0,380.3 444.1,380.3 444.2,380.3 444.3,380.3 444.4,380.3 444.5,380.3 444.6,380.3 444.7,380.3 444.8,380.3 444.9,380.3 445.0,380.3 445.1,380.3 445.2,380.3 445.3,380.3 445.4,380.3 445.6,380.3 445.7,380.3 445.8,380.3 445.9,380.3 446.0,380.3 446.1,380.3 446.2,380.3 446.3,380.3 446.4,380.3 446.5,380.3 446.6,380.3 446.7,380.3 446.8,380.3 446.9,380.3 447.0,380.3 447.1,380.3 447.2,380.3 447.3,380.3 447.4,380.3 447.5,380.3 447.6,380.3 447.7,380.3 447.8,380.3 447.9,380.3 448.0,380.3 448.1,380.3 450.1,380.3 452.1,380.3 454.2,380.3 456.2,380.3 458.2,380.3 460.2,380.3 462.3,380.3 464.3,380.3" stroke="#EDB120" stroke-width="1.2"/>
<polyline points="58.9,386.2 59.0,387.6 59.1,388.9 59.2,390.3 59.3,391.5 59.4,392.8 59.5,393.9 59.6,395.0 59.7,396.0 59.8,397.0 59.9,397.8 60.0,398.6 60.1,399.2 60.2,399.8 60.3,400.3 60.4,400.6 60.5,400.9 60.6,401.1 60.7,401.1 60.8,400.9 60.9,400.2 61.0,399.1 61.1,397.6 61.2,395.8 61.3,393.8 61.4,391.7 61.5,389.6 61.6,387.7 61.7,385.9 61.8,384.4 61.9,383.3 62.0,382.6 62.1,382.3 62.2,382.3 62.3,382.3 62.4,382.3 62.5,382.2 62.6,382.2 62.8,382.1 62.9,382.0 63.0,382.0 63.1,381.9 63.2,381.8 63.3,381.7 63.4,381.5 63.5,381.4 63.6,381.3 63.7,381.2 63.8,381.1 63.9,381.0 64.0,380.9 64.1,380.8 64.2,380.7 64.3,380.6 64.4,380.5 64.5,380.5 64.6,380.4 64.7,380.4 64.8,380.3 64.9,380.3 65.0,380.3 65.1,380.3 65.2,380.2 65.3,380.2 65.4,380.2 65.5,380.2 65.6,380.2 65.7,380.1 65.8,380.1 65.9,380.1 66.0,380.1 66.1,380.0 66.2,380.0 66.3,380.0 66.4,380.0 66.5,380.0 66.6,380.0 66.7,379.9 66.8,379.9 66.9,379.9 67.0,379.9 67.1,379.9 67.2,379.9 67.3,379.9 67.4,379.9 67.5,379.8 67.6,379.8 67.7,379.8 67.8,379.8 67.9,379.8 68.0,379.8 68.1,379.8 68.2,379.8 68.3,379.8 68.4,379.8 68.5,379.7 68.6,379.7 68.7,379.7 68.8,379.7 68.9,379.7 69.0,379.7 69.1,379.7 69.2,379.7 69.3,379.7 69.4,379.7 69.5,379.7 69.6,379.7 69.7,379.7 69.8,379.7 69.9,379.7 70.0,379.7 70.1,379.7 70.3,379.7 70.4,379.7 70.5,379.7 70.6,379.7 70.7,379.7 70.8,379.7 70.9,379.7 71.0,379.7 71.1,379.7 71.2,379.6 71.3,379.6 71.4,379.6 71.5,379.6 71.6,379.6 71.7,379.6 71.8,379.6 71.9,379.6 72.0,379.6 72.1,379.6 72.2,379.6 72.3,379.6 72.4,379.7 72.5,379.7 72.6,379.7 72.7,379.7 72.8,379.7 72.9,379.7 73.0,379.7 73.1,379.7 73.2,379.7 73.3,379.7 73.4,379.7 73.5,379.7 73.6,379.7 73.7,379.7 73.8,379.7 73.9,379.7 74.0,379.7 74.1,379.7 74.2,379.7 74.3,379.7 74.4,379.7 74.5,379.7 74.6,379.7 74.7,379.7 74.8,379.7 74.9,379.7 75.0,379.7 75.1,379.7 75.2,379.7 75.3,379.7 75.4,379.7 75.5,379.7 75.6,379.7 75.7,379.7 75.8,379.7 75.9,379.7 76.0,379.7 76.1,379.7 76.2,379.7 76.3,379.7 76.4,379.8 76.5,379.8 76.6,379.8 76.7,379.8 76.8,379.8 76.9,379.8 77.0,379.8 77.1,379.8 77.2,379.8 77.3,379.8 77.4,379.8 77.5,379.8 77.6,379.8 77.8,379.8 77.9,379.8 78.0,379.8 78.1,379.8 78.2,379.8 78.3,379.8 78.4,379.8 78.5,379.8 78.6,379.8 78.7,379.8 78.8,379.8 78.9,379.8 79.0,379.8 79.1,379.8 79.2,379.8 79.3,379.9 79.4,379.9 79.5,379.9 79.6,379.9 79.7,379.9 79.8,379.9 79.9,379.9 80.0,379.9 80.1,379.9 80.2,379.9 80.3,379.9 80.4,379.9 80.5,379.9 80.6,379.9 80.7,379.9 80.8,379.9 80.9,379.9 81.0,379.9 81.1,379.9 81.2,379.9 81.3,379.9 81.4,379.9 81.5,379.9 81.6,379.9 81.7,379.9 81.8,379.9 81.9,379.9 82.0,379.9 82.1,379.9 82.2,380.0 82.3,380.0 82.4,380.0 82.5,380.0 82.6,380.0 82.7,380.0 82.8,380.0 82.9,380.0 83.0,380.0 83.1,380.0 83.2,380.0 83.3,380.0 83.4,380.0 83.5,380.0 83.6,380.0 83.7,380.0 83.8,380.0 83.9,380.0 84.0,380.0 84.1,380.0 84.2,380.0 84.3,380.0 84.4,380.0 84.5,380.0 84.6,380.0 84.7,380.0 84.8,380.0 84.9,380.0 85.0,380.0 85.1,380.0 85.3,380.0 85.4,380.0 85.5,380.0 85.6,380.0 85.7,380.1 85.8,380.1 85.9,380.1 86.0,380.1 86.1,380.1 86.2,380.1 86.3,380.1 86.4,380.1 86.5,380.1 86.6,380.1 86.7,380.1 86.8,380.1 86.9,380.1 87.0,380.1 87.1,380.1 87.2,380.1 87.3,380.1 87.4,380.1 87.5,380.1 87.6,380.1 87.7,380.1 87.8,380.1 87.9,380.1 88.0,380.1 88.1,380.1 88.2,380.1 88.3,380.1 88.4,380.1 88.5,380.1 88.6,380.1 88.7,380.1 88.8,380.1 88.9,380.1 89.0,380.1 89.1,380.1 89.2,380.1 89.3,380.1 89.4,380.1 89.5,380.1 89.6,380.1 89.7,380.1 89.8,380.1 89.9,380.1 90.0,380.1 90.1,380.1 90.2,380.1 90.3,380.1 90.4,380.1 90.5,380.2 90.6,380.2 90.7,380.2 90.8,380.2 90.9,380.2 91.0,380.2 91.1,380.2 91.2,380.2 91.3,380.2 91.4,380.2 91.5,380.2 91.6,380.2 91.7,380.2 91.8,380.2 91.9,380.2 92.0,380.2 92.1,380.2 92.2,380.2 92.3,380.2 92.4,380.2 92.5,380.2 92.6,380.2 92.8,380.2 92.9,380.2 93.0,380.2 93.1,380.2 93.2,380.2 93.3,380.2 93.4,380.2 93.5,380.2 93.6,380.2 93.7,380.2 93.8,380.2 93.9,380.2 94.0,380.2 94.1,380.2 94.2,380.2 94.3,380.2 94.4,380.2 94.5,380.2 94.6,380.2 94.7,380.2 94.8,380.2 94.9,380.2 95.0,380.2 95.1,380.2 95.2,380.2 95.3,380.2 95.4,380.2 95.5,380.2 95.6,380.2 95.7,380.2 95.8,380.2 95.9,380.2 96.0,380.2 96.1,380.2 96.2,380.2 96.3,380.2 96.4,380.2 96.5,380.2 96.6,380.2 96.7,380.2 96.8,380.2 96.9,380.2 97.0,380.2 97.1,380.2 97.2,380.2 97.3,380.2 97.4,380.2 97.5,380.2 97.6,380.2 97.7,380.2 97.8,380.2 97.9,380.2 98.0,380.2 98.1,380.2 98.2,380.2 98.3,380.2 98.4,380.2 98.5,380.2 98.6,380.2 98.7,380.2 98.8,380.2 98.9,380.2 99.0,380.2 99.1,380.2 99.2,380.2 99.3,380.2 99.4,380.2 99.5,380.2 99.6,380.2 99.7,380.2 99.8,380.2 99.9,380.3 100.0,380.3 100.1,380.3 100.3,380.3 100.4,380.3 100.5,380.3 100.6,380.3 100.7,380.3 100.8,380.3 100.9,380.3 101.0,380.3 101.1,380.3 101.2,380.3 101.3,380.3 101.4,380.3 101.5,380.3 101.6,380.3 101.7,380.3 101.8,380.3 101.9,380.3 102.0,380.3 102.1,380.3 102.2,380.3 102.3,380.3 102.4,380.3 102.5,380.3 102.6,380.3 102.7,380.3 102.8,380.3 102.9,380.3 103.0,380.3 103.1,380.3 103.2,380.3 103.3,380.3 103.4,380.3 103.5,380.3 103.6,380.3 103.7,380.3 103.8,380.3 103.9,380.3 104.0,380.3 104.1,380.3 104.2,380.3 104.3,380.3 104.4,380.3 104.5,380.3 104.6,380.3 104.7,380.3 104.8,380.3 104.9,380.3 105.0,380.3 105.1,380.3 105.2,380.3 105.3,380.3 105.4,380.3 105.5,380.3 105.6,380.3 105.7,380.3 105.8,380.3 105.9,380.3 106.0,380.3 106.1,380.3 106.2,380.3 106.3,380.3 106.4,380.3 106.5,380.3 106.6,380.3 106.7,380.3 106.8,380.3 106.9,380.3 107.0,380.3 107.1,380.3 107.2,380.3 107.3,380.3 107.4,380.3 107.5,380.3 107.6,380.3 107.8,380.3 107.9,380.3 108.0,380.3 108.1,380.3 108.2,380.3 108.3,380.3 108.4,380.3 108.5,380.3 108.6,380.3 108.7,380.3 108.8,380.3 108.9,380.3 109.0,380.3 109.1,380.3 109.2,380.3 109.3,380.3 109.4,380.3 109.5,380.3 109.6,380.3 109.7,380.3 109.8,380.3 109.9,380.3 110.0,380.3 110.1,380.3 110.2,380.3 110.3,380.3 110.4,380.3 110.5,380.3 110.6,380.3 110.7,380.3 110.8,380.3 110.9,380.3 111.0,380.3 111.1,380.3 111.2,380.3 111.3,380.3 111.4,380.3 111.5,380.3 111.6,380.3 111.7,380.3 111.8,380.3 111.9,380.3 112.0,380.3 112.1,380.3 112.2,380.3 112.3,380.3 112.4,380.3 112.5,380.3 112.6,380.3 112.7,380.3 112.8,380.3 112.9,380.3 113.0,380.3 113.1,380.3 113.2,380.3 113.3,380.3 113.4,380.3 113.5,380.3 113.6,380.3 113.7,380.3 113.8,380.3 113.9,380.3 114.0,380.3 114.1,380.3 114.2,380.3 114.3,380.3 114.4,380.3 114.5,380.3 114.6,380.3 114.7,380.3 114.8,380.3 114.9,380.3 115.0,380.3 115.1,380.3 115.3,380.3 115.4,380.3 115.5,380.3 115.6,380.3 115.7,380.3 115.8,380.3 115.9,380.3 116.0,380.3 116.1,380.3 116.2,380.3 116.3,380.3 116.4,380.3 116.5,380.3 116.6,380.3 116.7,380.3 116.8,380.3 116.9,380.3 117.0,380.3 117.1,380.3 117.2,380.3 117.3,380.3 117.4,380.3 117.5,380.3 117.6,380.3 117.7,380.3 117.8,380.3 117.9,380.3 118.0,380.3 118.1,380.3 118.2,380.3 118.3,380.3 118.4,380.3 118.5,380.3 118.6,380.3 118.7,380.3 118.8,380.3 118.9,380.3 119.0,380.3 119.1,380.3 119.2,380.3 119.3,380.3 119.4,380.3 119.5,380.3 119.6,380.3 119.7,380.3 119.8,380.3 119.9,380.3 120.0,380.3 120.1,380.3 120.2,380.3 120.3,380.3 120.4,380.3 120.5,380.3 120.6,380.3 120.7,380.3 120.8,380.3 120.9,380.3 121.0,380.3 121.1,380.3 121.2,380.3 121.3,380.3 121.4,380.3 121.5,380.3 121.6,380.3 121.7,380.3 121.8,380.3 121.9,380.3 122.0,380.3 122.1,380.3 122.2,380.3 122.3,380.3 122.4,380.3 122.5,380.3 122.6,380.3 122.8,380.3 122.9,380.3 123.0,380.3 123.1,380.3 123.2,380.3 123.3,380.3 123.4,380.3 123.5,380.3 123.6,380.3 123.7,380.3 123.8,380.3 125.8,380.3 127.8,380.3 129.8,380.3 131.9,380.3 133.9,380.3 135.9,380.3 138.0,380.3 138.1,380.3 138.2,380.3 138.3,380.3 138.4,380.3 138.5,380.3 138.6,380.3 138.7,380.3 138.8,380.3 138.9,380.3 139.0,380.3 139.1,380.3 139.2,380.3 139.3,380.3 139.4,380.3 139.5,380.3 139.6,380.3 139.7,380.3 139.8,380.3 139.9,380.3 140.0,386.1 140.0,386.2 140.1,392.1 140.2,398.0 140.3,403.7 140.4,409.4 140.5,414.9 140.6,420.2 140.7,425.3 140.8,430.2 140.9,434.8 141.0,439.2 141.1,443.2 141.2,446.9 141.3,450.3 141.4,453.4 141.5,456.0 141.6,458.3 141.7,460.2 141.8,461.6 141.9,462.7 142.0,463.3 142.1,463.5 142.2,462.6 142.3,459.8 142.4,455.3 142.5,449.4 142.6,442.3 142.7,434.3 142.8,426.0 142.9,417.6 143.0,409.7 143.1,402.6 143.2,396.6 143.3,392.2 143.4,389.4 143.5,388.5 143.6,388.4 143.7,388.4 143.8,388.2 143.9,388.1 144.0,387.8 144.1,387.6 144.2,387.3 144.3,386.9 144.4,386.6 144.5,386.2 144.6,385.7 144.7,385.3 144.8,384.8 144.9,384.4 145.0,383.9 145.1,383.5 145.3,383.0 145.4,382.6 145.5,382.2 145.6,381.8 145.7,381.5 145.8,381.2 145.9,380.9 146.0,380.7 146.1,380.5 146.2,380.4 146.3,380.3 146.4,380.3 146.5,380.2 146.6,380.1 146.7,380.0 146.8,379.9 146.9,379.8 147.0,379.7 147.1,379.6 147.2,379.5 147.3,379.5 147.4,379.4 147.5,379.3 147.6,379.2 147.7,379.2 147.8,379.1 147.9,379.0 148.0,378.9 148.1,378.9 148.2,378.8 148.3,378.8 148.4,378.7 148.5,378.7 148.6,378.6 148.7,378.6 148.8,378.5 148.9,378.5 149.0,378.4 149.1,378.4 149.2,378.3 149.3,378.3 149.4,378.3 149.5,378.2 149.6,378.2 149.7,378.1 149.8,378.1 149.9,378.1 150.0,378.1 150.1,378.0 150.2,378.0 150.3,378.0 150.4,378.0 150.5,377.9 150.6,377.9 150.7,377.9 150.8,377.9 150.9,377.9 151.0,377.8 151.1,377.8 151.2,377.8 151.3,377.8 151.4,377.8 151.5,377.8 151.6,377.8 151.7,377.7 151.8,377.7 151.9,377.7 152.0,377.7 152.1,377.7 152.2,377.7 152.3,377.7 152.4,377.7 152.5,377.7 152.6,377.7 152.8,377.7 152.9,377.7 153.0,377.7 153.1,377.7 153.2,377.7 153.3,377.7 153.4,377.7 153.5,377.7 153.6,377.7 153.7,377.7 153.8,377.7 153.9,377.7 154.0,377.7 154.1,377.7 154.2,377.7 154.3,377.7 154.4,377.7 154.5,377.7 154.6,377.7 154.7,377.8 154.8,377.8 154.9,377.8 155.0,377.8 155.1,377.8 155.2,377.8 155.3,377.8 155.4,377.8 155.5,377.8 155.6,377.8 155.7,377.8 155.8,377.9 155.9,377.9 156.0,377.9 156.1,377.9 156.2,377.9 156.3,377.9 156.4,377.9 156.5,377.9 156.6,377.9 156.7,378.0 156.8,378.0 156.9,378.0 157.0,378.0 157.1,378.0 157.2,378.0 157.3,378.0 157.4,378.1 157.5,378.1 157.6,378.1 157.7,378.1 157.8,378.1 157.9,378.1 158.0,378.1 158.1,378.1 158.2,378.2 158.3,378.2 158.4,378.2 158.5,378.2 158.6,378.2 158.7,378.2 158.8,378.2 158.9,378.3 159.0,378.3 159.1,378.3 159.2,378.3 159.3,378.3 159.4,378.3 159.5,378.3 159.6,378.4 159.7,378.4 159.8,378.4 159.9,378.4 160.0,378.4 160.1,378.4 160.2,378.5 160.4,378.5 160.5,378.5 160.6,378.5 160.7,378.5 160.8,378.5 160.9,378.5 161.0,378.6 161.1,378.6 161.2,378.6 161.3,378.6 161.4,378.6 161.5,378.6 161.6,378.6 161.7,378.7 161.8,378.7 161.9,378.7 162.0,378.7 162.1,378.7 162.2,378.7 162.3,378.7 162.4,378.7 162.5,378.8 162.6,378.8 162.7,378.8 162.8,378.8 162.9,378.8 163.0,378.8 163.1,378.8 163.2,378.9 163.3,378.9 163.4,378.9 163.5,378.9 163.6,378.9 163.7,378.9 163.8,378.9 163.9,378.9 164.0,379.0 164.1,379.0 164.2,379.0 164.3,379.0 164.4,379.0 164.5,379.0 164.6,379.0 164.7,379.0 164.8,379.1 164.9,379.1 165.0,379.1 165.1,379.1 165.2,379.1 165.3,379.1 165.4,379.1 165.5,379.1 165.6,379.2 165.7,379.2 165.8,379.2 165.9,379.2 166.0,379.2 166.1,379.2 166.2,379.2 166.3,379.2 166.4,379.2 166.5,379.3 166.6,379.3 166.7,379.3 166.8,379.3 166.9,379.3 167.0,379.3 167.1,379.3 167.2,379.3 167.3,379.3 167.4,379.3 167.5,379.4 167.6,379.4 167.7,379.4 167.9,379.4 168.0,379.4 168.1,379.4 168.2,379.4 168.3,379.4 168.4,379.4 168.5,379.4 168.6,379.4 168.7,379.5 168.8,379.5 168.9,379.5 169.0,379.5 169.1,379.5 169.2,379.5 169.3,379.5 169.4,379.5 169.5,379.5 169.6,379.5 169.7,379.5 169.8,379.5 169.9,379.6 170.0,379.6 170.1,379.6 170.2,379.6 170.3,379.6 170.4,379.6 170.5,379.6 170.6,379.6 170.7,379.6 170.8,379.6 170.9,379.6 171.0,379.6 171.1,379.6 171.2,379.7 171.3,379.7 171.4,379.7 171.5,379.7 171.6,379.7 171.7,379.7 171.8,379.7 171.9,379.7 172.0,379.7 172.1,379.7 172.2,379.7 172.3,379.7 172.4,379.7 172.5,379.7 172.6,379.7 172.7,379.8 172.8,379.8 172.9,379.8 173.0,379.8 173.1,379.8 173.2,379.8 173.3,379.8 173.4,379.8 173.5,379.8 173.6,379.8 173.7,379.8 173.8,379.8 173.9,379.8 174.0,379.8 174.1,379.8 174.2,379.8 174.3,379.8 174.4,379.9 174.5,379.9 174.6,379.9 174.7,379.9 174.8,379.9 174.9,379.9 175.0,379.9 175.1,379.9 175.2,379.9 175.4,379.9 175.5,379.9 175.6,379.9 175.7,379.9 175.8,379.9 175.9,379.9 176.0,379.9 176.1,379.9 176.2,379.9 176.3,379.9 176.4,379.9 176.5,379.9 176.6,379.9 176.7,380.0 176.8,380.0 176.9,380.0 177.0,380.0 177.1,380.0 177.2,380.0 177.3,380.0 177.4,380.0 177.5,380.0 177.6,380.0 177.7,380.0 177.8,380.0 177.9,380.0 178.0,380.0 178.1,380.0 178.2,380.0 178.3,380.0 178.4,380.0 178.5,380.0 178.6,380.0 178.7,380.0 178.8,380.0 178.9,380.0 179.0,380.0 179.1,380.0 179.2,380.0 179.3,380.0 179.4,380.0 179.5,380.1 179.6,380.1 179.7,380.1 179.8,380.1 179.9,380.1 180.0,380.1 180.1,380.1 180.2,380.1 180.3,380.1 180.4,380.1 180.5,380.1 180.6,380.1 180.7,380.1 180.8,380.1 180.9,380.1 181.0,380.1 181.1,380.1 181.2,380.1 181.3,380.1 181.4,380.1 181.5,380.1 181.6,380.1 181.7,380.1 181.8,380.1 181.9,380.1 182.0,380.1 182.1,380.1 182.2,380.1 182.3,380.1 182.4,380.1 182.5,380.1 182.6,380.1 182.7,380.1 182.9,380.1 183.0,380.1 183.1,380.1 183.2,380.1 183.3,380.1 183.4,380.1 183.5,380.1 183.6,380.1 183.7,380.2 183.8,380.2 183.9,380.2 184.0,380.2 184.1,380.2 184.2,380.2 184.3,380.2 184.4,380.2 184.5,380.2 184.6,380.2 184.7,380.2 184.8,380.2 184.9,380.2 185.0,380.2 185.1,380.2 185.2,380.2 185.3,380.2 185.4,380.2 185.5,380.2 185.6,380.2 185.7,380.2 185.8,380.2 185.9,380.2 186.0,380.2 186.1,380.2 186.2,380.2 186.3,380.2 186.4,380.2 186.5,380.2 186.6,380.2 186.7,380.2 186.8,380.2 186.9,380.2 187.0,380.2 187.1,380.2 187.2,380.2 187.3,380.2 187.4,380.2 187.5,380.2 187.6,380.2 187.7,380.2 187.8,380.2 187.9,380.2 188.0,380.2 188.1,380.2 188.2,380.2 188.3,380.2 188.4,380.2 188.5,380.2 188.6,380.2 188.7,380.2 188.8,380.2 188.9,380.2 189.0,380.2 189.1,380.2 189.2,380.2 189.3,380.2 189.4,380.2 189.5,380.2 189.6,380.2 189.7,380.2 189.8,380.2 189.9,380.2 190.0,380.2 190.1,380.2 190.2,380.2 190.4,380.2 190.5,380.2 190.6,380.2 190.7,380.2 190.8,380.2 190.9,380.2 191.0,380.2 191.1,380.2 191.2,380.2 191.3,380.2 191.4,380.2 191.5,380.2 191.6,380.2 191.7,380.2 191.8,380.2 191.9,380.2 192.0,380.2 192.1,380.2 192.2,380.2 192.3,380.2 192.4,380.2 192.5,380.3 192.6,380.3 192.7,380.3 192.8,380.3 192.9,380.3 193.0,380.3 193.1,380.3 193.2,380.3 193.3,380.3 193.4,380.3 193.5,380.3 193.6,380.3 193.7,380.3 193.8,380.3 193.9,380.3 194.0,380.3 194.1,380.3 194.2,380.3 194.3,380.3 194.4,380.3 194.5,380.3 194.6,380.3 194.7,380.3 194.8,380.3 194.9,380.3 195.0,380.3 195.1,380.3 195.2,380.3 195.3,380.3 195.4,380.3 195.5,380.3 195.6,380.3 195.7,380.3 195.8,380.3 195.9,380.3 196.0,380.3 196.1,380.3 196.2,380.3 196.3,380.3 196.4,380.3 196.5,380.3 196.6,380.3 196.7,380.3 196.8,380.3 196.9,380.3 197.0,380.3 197.1,380.3 197.2,380.3 197.3,380.3 197.4,380.3 197.5,380.3 197.6,380.3 197.7,380.3 197.9,380.3 198.0,380.3 198.1,380.3 198.2,380.3 198.3,380.3 198.4,380.3 198.5,380.3 198.6,380.3 198.7,380.3 198.8,380.3 198.9,380.3 199.0,380.3 199.1,380.3 199.2,380.3 199.3,380.3 199.4,380.3 199.5,380.3 199.6,380.3 199.7,380.3 199.8,380.3 199.9,380.3 200.0,380.3 200.1,380.3 200.2,380.3 200.3,380.3 200.4,380.3 200.5,380.3 200.6,380.3 200.7,380.3 200.8,380.3 200.9,380.3 201.0,380.3 201.1,380.3 201.2,380.3 201.3,380.3 201.4,380.3 201.5,380.3 201.6,380.3 201.7,380.3 201.8,380.3 201.9,380.3 202.0,380.3 202.1,380.3 202.2,380.3 202.3,380.3 202.4,380.3 202.5,380.3 202.6,380.3 202.7,380.3 202.8,380.3 202.9,380.3 203.0,380.3 203.1,380.3 203.2,380.3 203.3,380.3 203.4,380.3 203.5,380.3 203.6,380.3 203.7,380.3 203.8,380.3 203.9,380.3 204.0,380.3 204.1,380.3 204.2,380.3 204.3,380.3 204.4,380.3 204.5,380.3 204.6,380.3 204.7,380.3 204.8,380.3 206.9,380.3 208.9,380.3 210.9,380.3 213.0,380.3 215.0,380.3 217.0,380.3 219.0,380.3 219.1,380.3 219.2,380.3 219.3,380.3 219.4,380.3 219.5,380.3 219.6,380.3 219.7,380.3 219.8,380.3 219.9,380.3 220.0,380.3 220.1,380.3 220.2,380.3 220.4,380.3 220.5,380.3 220.6,380.3 220.7,380.3 220.8,380.3 220.9,380.3 221.0,380.3 221.1,380.3 221.2,374.4 221.3,368.5 221.4,362.6 221.5,356.8 221.6,351.2 221.7,345.7 221.8,340.4 221.9,335.3 222.0,330.4 222.1,325.8 222.2,321.4 222.3,317.4 222.4,313.7 222.5,310.3 222.6,307.2 222.7,304.6 222.8,302.3 222.9,300.4 223.0,299.0 223.1,297.9 223.2,297.3 223.3,297.1 223.4,298.0 223.5,300.8 223.6,305.3 223.7,311.2 223.8,318.3 223.9,326.3 224.0,334.6 224.1,343.0 224.2,350.9 224.3,358.0 224.4,364.0 224.5,368.4 224.6,371.2 224.7,372.1 224.8,372.2 224.9,372.2 225.0,372.4 225.1,372.5 225.2,372.8 225.3,373.0 225.4,373.3 225.5,373.7 225.6,374.0 225.7,374.4 225.8,374.9 225.9,375.3 226.0,375.8 226.1,376.2 226.2,376.7 226.3,377.1 226.4,377.6 226.5,378.0 226.6,378.4 226.7,378.8 226.8,379.1 226.9,379.4 227.0,379.7 227.1,379.9 227.2,380.1 227.3,380.2 227.4,380.3 227.5,380.3 227.6,380.4 227.7,380.5 227.9,380.6 228.0,380.7 228.1,380.8 228.2,380.9 228.3,381.0 228.4,381.1 228.5,381.1 228.6,381.2 228.7,381.3 228.8,381.4 228.9,381.4 229.0,381.5 229.1,381.6 229.2,381.6 229.3,381.7 229.4,381.8 229.5,381.8 229.6,381.9 229.7,381.9 229.8,382.0 229.9,382.0 230.0,382.1 230.1,382.1 230.2,382.2 230.3,382.2 230.4,382.3 230.5,382.3 230.6,382.3 230.7,382.4 230.8,382.4 230.9,382.5 231.0,382.5 231.1,382.5 231.2,382.5 231.3,382.6 231.4,382.6 231.5,382.6 231.6,382.6 231.7,382.7 231.8,382.7 231.9,382.7 232.0,382.7 232.1,382.7 232.2,382.8 232.3,382.8 232.4,382.8 232.5,382.8 232.6,382.8 232.7,382.8 232.8,382.8 232.9,382.9 233.0,382.9 233.1,382.9 233.2,382.9 233.3,382.9 233.4,382.9 233.5,382.9 233.6,382.9 233.7,382.9 233.8,382.9 233.9,382.9 234.0,382.9 234.1,382.9 234.2,382.9 234.3,382.9 234.4,382.9 234.5,382.9 234.6,382.9 234.7,382.9 234.8,382.9 234.9,382.9 235.0,382.9 235.1,382.9 235.2,382.9 235.4,382.9 235.5,382.9 235.6,382.9 235.7,382.9 235.8,382.9 235.9,382.8 236.0,382.8 236.1,382.8 236.2,382.8 236.3,382.8 236.4,382.8 236.5,382.8 236.6,382.8 236.7,382.8 236.8,382.8 236.9,382.8 237.0,382.7 237.1,382.7 237.2,382.7 237.3,382.7 237.4,382.7 237.5,382.7 237.6,382.7 237.7,382.7 237.8,382.7 237.9,382.6 238.0,382.6 238.1,382.6 238.2,382.6 238.3,382.6 238.4,382.6 238.5,382.6 238.6,382.5 238.7,382.5 238.8,382.5 238.9,382.5 239.0,382.5 239.1,382.5 239.2,382.5 239.3,382.5 239.4,382.4 239.5,382.4 239.6,382.4 239.7,382.4 239.8,382.4 239.9,382.4 240.0,382.4 240.1,382.3 240.2,382.3 240.3,382.3 240.4,382.3 240.5,382.3 240.6,382.3 240.7,382.3 240.8,382.2 240.9,382.2 241.0,382.2 241.1,382.2 241.2,382.2 241.3,382.2 241.4,382.1 241.5,382.1 241.6,382.1 241.7,382.1 241.8,382.1 241.9,382.1 242.0,382.1 242.1,382.0 242.2,382.0 242.3,382.0 242.4,382.0 242.5,382.0 242.6,382.0 242.7,382.0 242.9,381.9 243.0,381.9 243.1,381.9 243.2,381.9 243.3,381.9 243.4,381.9 243.5,381.9 243.6,381.9 243.7,381.8 243.8,381.8 243.9,381.8 244.0,381.8 244.1,381.8 244.2,381.8 244.3,381.8 244.4,381.7 244.5,381.7 244.6,381.7 244.7,381.7 244.8,381.7 244.9,381.7 245.0,381.7 245.1,381.7 245.2,381.6 245.3,381.6 245.4,381.6 245.5,381.6 245.6,381.6 245.7,381.6 245.8,381.6 245.9,381.6 246.0,381.5 246.1,381.5 246.2,381.5 246.3,381.5 246.4,381.5 246.5,381.5 246.6,381.5 246.7,381.5 246.8,381.4 246.9,381.4 247.0,381.4 247.1,381.4 247.2,381.4 247.3,381.4 247.4,381.4 247.5,381.4 247.6,381.4 247.7,381.3 247.8,381.3 247.9,381.3 248.0,381.3 248.1,381.3 248.2,381.3 248.3,381.3 248.4,381.3 248.5,381.3 248.6,381.3 248.7,381.2 248.8,381.2 248.9,381.2 249.0,381.2 249.1,381.2 249.2,381.2 249.3,381.2 249.4,381.2 249.5,381.2 249.6,381.2 249.7,381.2 249.8,381.1 249.9,381.1 250.0,381.1 250.1,381.1 250.2,381.1 250.4,381.1 250.5,381.1 250.6,381.1 250.7,381.1 250.8,381.1 250.9,381.1 251.0,381.1 251.1,381.0 251.2,381.0 251.3,381.0 251.4,381.0 251.5,381.0 251.6,381.0 251.7,381.0 251.8,381.0 251.9,381.0 252.0,381.0 252.1,381.0 252.2,381.0 252.3,381.0 252.4,380.9 252.5,380.9 252.6,380.9 252.7,380.9 252.8,380.9 252.9,380.9 253.0,380.9 253.1,380.9 253.2,380.9 253.3,380.9 253.4,380.9 253.5,380.9 253.6,380.9 253.7,380.9 253.8,380.9 253.9,380.8 254.0,380.8 254.1,380.8 254.2,380.8 254.3,380.8 254.4,380.8 254.5,380.8 254.6,380.8 254.7,380.8 254.8,380.8 254.9,380.8 255.0,380.8 255.1,380.8 255.2,380.8 255.3,380.8 255.4,380.8 255.5,380.8 255.6,380.7 255.7,380.7 255.8,380.7 255.9,380.7 256.0,380.7 256.1,380.7 256.2,380.7 256.3,380.7 256.4,380.7 256.5,380.7 256.6,380.7 256.7,380.7 256.8,380.7 256.9,380.7 257.0,380.7 257.1,380.7 257.2,380.7 257.3,380.7 257.4,380.7 257.5,380.7 257.6,380.7 257.7,380.7 257.9,380.6 258.0,380.6 258.1,380.6 258.2,380.6 258.3,380.6 258.4,380.6 258.5,380.6 258.6,380.6 258.7,380.6 258.8,380.6 258.9,380.6 259.0,380.6 259.1,380.6 259.2,380.6 259.3,380.6 259.4,380.6 259.5,380.6 259.6,380.6 259.7,380.6 259.8,380.6 259.9,380.6 260.0,380.6 260.1,380.6 260.2,380.6 260.3,380.6 260.4,380.6 260.5,380.6 260.6,380.6 260.7,380.5 260.8,380.5 260.9,380.5 261.0,380.5 261.1,380.5 261.2,380.5 261.3,380.5 261.4,380.5 261.5,380.5 261.6,380.5 261.7,380.5 261.8,380.5 261.9,380.5 262.0,380.5 262.1,380.5 262.2,380.5 262.3,380.5 262.4,380.5 262.5,380.5 262.6,380.5 262.7,380.5 262.8,380.5 262.9,380.5 263.0,380.5 263.1,380.5 263.2,380.5 263.3,380.5 263.4,380.5 263.5,380.5 263.6,380.5 263.7,380.5 263.8,380.5 263.9,380.5 264.0,380.5 264.1,380.5 264.2,380.5 264.3,380.5 264.4,380.5 264.5,380.5 264.6,380.5 264.7,380.5 264.8,380.4 264.9,380.4 265.0,380.4 265.1,380.4 265.2,380.4 265.3,380.4 265.5,380.4 265.6,380.4 265.7,380.4 265.8,380.4 265.9,380.4 266.0,380.4 266.1,380.4 266.2,380.4 266.3,380.4 266.4,380.4 266.5,380.4 266.6,380.4 266.7,380.4 266.8,380.4 266.9,380.4 267.0,380.4 267.1,380.4 267.2,380.4 267.3,380.4 267.4,380.4 267.5,380.4 267.6,380.4 267.7,380.4 267.8,380.4 267.9,380.4 268.0,380.4 268.1,380.4 268.2,380.4 268.3,380.4 268.4,380.4 268.5,380.4 268.6,380.4 268.7,380.4 268.8,380.4 268.9,380.4 269.0,380.4 269.1,380.4 269.2,380.4 269.3,380.4 269.4,380.4 269.5,380.4 269.6,380.4 269.7,380.4 269.8,380.4 269.9,380.4 270.0,380.4 270.1,380.4 270.2,380.4 270.3,380.4 270.4,380.4 270.5,380.4 270.6,380.4 270.7,380.4 270.8,380.4 270.9,380.4 271.0,380.4 271.1,380.4 271.2,380.4 271.3,380.4 271.4,380.4 271.5,380.4 271.6,380.4 271.7,380.4 271.8,380.4 271.9,380.4 272.0,380.4 272.1,380.4 272.2,380.4 272.3,380.4 272.4,380.4 272.5,380.4 272.6,380.4 272.7,380.4 272.8,380.4 273.0,380.4 273.1,380.4 273.2,380.4 273.3,380.4 273.4,380.4 273.5,380.4 273.6,380.4 273.7,380.3 273.8,380.3 273.9,380.3 274.0,380.3 274.1,380.3 274.2,380.3 274.3,380.3 274.4,380.3 274.5,380.3 274.6,380.3 274.7,380.3 274.8,380.3 274.9,380.3 275.0,380.3 275.1,380.3 275.2,380.3 275.3,380.3 275.4,380.3 275.5,380.3 275.6,380.3 275.7,380.3 275.8,380.3 275.9,380.3 276.0,380.3 276.1,380.3 276.2,380.3 276.3,380.3 276.4,380.3 276.5,380.3 276.6,380.3 276.7,380.3 276.8,380.3 276.9,380.3 277.0,380.3 277.1,380.3 277.2,380.3 277.3,380.3 277.4,380.3 277.5,380.3 277.6,380.3 277.7,380.3 277.8,380.3 277.9,380.3 278.0,380.3 278.1,380.3 278.2,380.3 278.3,380.3 278.4,380.3 278.5,380.3 278.6,380.3 278.7,380.3 278.8,380.3 278.9,380.3 279.0,380.3 279.1,380.3 279.2,380.3 279.3,380.3 279.4,380.3 279.5,380.3 279.6,380.3 279.7,380.3 279.8,380.3 279.9,380.3 280.0,380.3 280.1,380.3 280.2,380.3 280.3,380.3 280.5,380.3 280.6,380.3 280.7,380.3 280.8,380.3 280.9,380.3 281.0,380.3 281.1,380.3 281.2,380.3 281.3,380.3 281.4,380.3 281.5,380.3 281.6,380.3 281.7,380.3 281.8,380.3 281.9,380.3 282.0,380.3 282.1,380.3 282.2,380.3 282.3,380.3 282.4,380.3 282.5,380.3 282.6,380.3 282.7,380.3 282.8,380.3 282.9,380.3 283.0,380.3 283.1,380.3 283.2,380.3 283.3,380.3 283.4,380.3 283.5,380.3 283.6,380.3 283.7,380.3 283.8,380.3 283.9,380.3 284.0,380.3 284.1,380.3 284.2,380.3 284.3,380.3 284.4,380.3 284.5,380.3 284.6,380.3 284.7,380.3 284.8,380.3 284.9,380.3 285.0,380.3 285.1,380.3 285.2,380.3 285.3,380.3 285.4,380.3 285.5,380.3 285.6,380.3 285.7,380.3 285.8,380.3 285.9,380.3 288.0,380.3 290.0,380.3 292.0,380.3 294.0,380.3 296.1,380.3 298.1,380.3 300.1,380.3 300.2,380.3 300.3,380.3 300.4,380.3 300.5,380.3 300.6,380.3 300.7,380.3 300.8,380.3 300.9,380.3 301.0,380.3 301.1,380.3 301.2,380.3 301.3,380.3 301.4,380.3 301.5,380.3 301.6,380.3 301.7,380.3 301.8,380.3 301.9,380.3 302.0,380.3 302.1,380.3 302.2,380.3 302.3,380.3 302.4,380.3 302.5,381.8 302.6,383.3 302.7,384.7 302.8,386.2 303.0,387.6 303.1,388.9 303.2,390.3 303.3,391.6 303.4,392.8 303.5,393.9 303.6,395.0 303.7,396.0 303.8,397.0 303.9,397.8 304.0,398.6 304.1,399.2 304.2,399.8 304.3,400.3 304.4,400.6 304.5,400.9 304.6,401.1 304.7,401.1 304.8,400.9 304.9,400.2 305.0,399.1 305.1,397.6 305.2,395.8 305.3,393.8 305.4,391.7 305.5,389.6 305.6,387.7 305.7,385.9 305.8,384.4 305.9,383.3 306.0,382.6 306.1,382.3 306.2,382.3 306.3,382.3 306.4,382.3 306.5,382.2 306.6,382.2 306.7,382.1 306.8,382.0 306.9,382.0 307.0,381.9 307.1,381.8 307.2,381.7 307.3,381.5 307.4,381.4 307.5,381.3 307.6,381.2 307.7,381.1 307.8,381.0 307.9,380.9 308.0,380.8 308.1,380.7 308.2,380.6 308.3,380.5 308.4,380.5 308.5,380.4 308.6,380.4 308.7,380.3 308.8,380.3 308.9,380.3 309.0,380.3 309.1,380.2 309.2,380.2 309.3,380.2 309.4,380.2 309.5,380.2 309.6,380.1 309.7,380.1 309.8,380.1 309.9,380.1 310.0,380.1 310.1,380.0 310.2,380.0 310.3,380.0 310.5,380.0 310.6,380.0 310.7,379.9 310.8,379.9 310.9,379.9 311.0,379.9 311.1,379.9 311.2,379.9 311.3,379.9 311.4,379.9 311.5,379.8 311.6,379.8 311.7,379.8 311.8,379.8 311.9,379.8 312.0,379.8 312.1,379.8 312.2,379.8 312.3,379.8 312.4,379.8 312.5,379.7 312.6,379.7 312.7,379.7 312.8,379.7 312.9,379.7 313.0,379.7 313.1,379.7 313.2,379.7 313.3,379.7 313.4,379.7 313.5,379.7 313.6,379.7 313.7,379.7 313.8,379.7 313.9,379.7 314.0,379.7 314.1,379.7 314.2,379.7 314.3,379.7 314.4,379.7 314.5,379.7 314.6,379.7 314.7,379.7 314.8,379.7 314.9,379.7 315.0,379.7 315.1,379.6 315.2,379.6 315.3,379.6 315.4,379.6 315.5,379.6 315.6,379.6 315.7,379.6 315.8,379.6 315.9,379.6 316.0,379.6 316.1,379.6 316.2,379.6 316.3,379.7 316.4,379.7 316.5,379.7 316.6,379.7 316.7,379.7 316.8,379.7 316.9,379.7 317.0,379.7 317.1,379.7 317.2,379.7 317.3,379.7 317.4,379.7 317.5,379.7 317.6,379.7 317.7,379.7 317.8,379.7 318.0,379.7 318.1,379.7 318.2,379.7 318.3,379.7 318.4,379.7 318.5,379.7 318.6,379.7 318.7,379.7 318.8,379.7 318.9,379.7 319.0,379.7 319.1,379.7 319.2,379.7 319.3,379.7 319.4,379.7 319.5,379.7 319.6,379.7 319.7,379.7 319.8,379.7 319.9,379.7 320.0,379.7 320.1,379.7 320.2,379.7 320.3,379.7 320.4,379.8 320.5,379.8 320.6,379.8 320.7,379.8 320.8,379.8 320.9,379.8 321.0,379.8 321.1,379.8 321.2,379.8 321.3,379.8 321.4,379.8 321.5,379.8 321.6,379.8 321.7,379.8 321.8,379.8 321.9,379.8 322.0,379.8 322.1,379.8 322.2,379.8 322.3,379.8 322.4,379.8 322.5,379.8 322.6,379.8 322.7,379.8 322.8,379.8 322.9,379.8 323.0,379.8 323.1,379.8 323.2,379.9 323.3,379.9 323.4,379.9 323.5,379.9 323.6,379.9 323.7,379.9 323.8,379.9 323.9,379.9 324.0,379.9 324.1,379.9 324.2,379.9 324.3,379.9 324.4,379.9 324.5,379.9 324.6,379.9 324.7,379.9 324.8,379.9 324.9,379.9 325.0,379.9 325.1,379.9 325.2,379.9 325.3,379.9 325.5,379.9 325.6,379.9 325.7,379.9 325.8,379.9 325.9,379.9 326.0,379.9 326.1,379.9 326.2,380.0 326.3,380.0 326.4,380.0 326.5,380.0 326.6,380.0 326.7,380.0 326.8,380.0 326.9,380.0 327.0,380.0 327.1,380.0 327.2,380.0 327.3,380.0 327.4,380.0 327.5,380.0 327.6,380.0 327.7,380.0 327.8,380.0 327.9,380.0 328.0,380.0 328.1,380.0 328.2,380.0 328.3,380.0 328.4,380.0 328.5,380.0 328.6,380.0 328.7,380.0 328.8,380.0 328.9,380.0 329.0,380.0 329.1,380.0 329.2,380.0 329.3,380.0 329.4,380.0 329.5,380.0 329.6,380.1 329.7,380.1 329.8,380.1 329.9,380.1 330.0,380.1 330.1,380.1 330.2,380.1 330.3,380.1 330.4,380.1 330.5,380.1 330.6,380.1 330.7,380.1 330.8,380.1 330.9,380.1 331.0,380.1 331.1,380.1 331.2,380.1 331.3,380.1 331.4,380.1 331.5,380.1 331.6,380.1 331.7,380.1 331.8,380.1 331.9,380.1 332.0,380.1 332.1,380.1 332.2,380.1 332.3,380.1 332.4,380.1 332.5,380.1 332.6,380.1 332.7,380.1 332.8,380.1 333.0,380.1 333.1,380.1 333.2,380.1 333.3,380.1 333.4,380.1 333.5,380.1 333.6,380.1 333.7,380.1 333.8,380.1 333.9,380.1 334.0,380.1 334.1,380.1 334.2,380.1 334.3,380.1 334.4,380.1 334.5,380.2 334.6,380.2 334.7,380.2 334.8,380.2 334.9,380.2 335.0,380.2 335.1,380.2 335.2,380.2 335.3,380.2 335.4,380.2 335.5,380.2 335.6,380.2 335.7,380.2 335.8,380.2 335.9,380.2 336.0,380.2 336.1,380.2 336.2,380.2 336.3,380.2 336.4,380.2 336.5,380.2 336.6,380.2 336.7,380.2 336.8,380.2 336.9,380.2 337.0,380.2 337.1,380.2 337.2,380.2 337.3,380.2 337.4,380.2 337.5,380.2 337.6,380.2 337.7,380.2 337.8,380.2 337.9,380.2 338.0,380.2 338.1,380.2 338.2,380.2 338.3,380.2 338.4,380.2 338.5,380.2 338.6,380.2 338.7,380.2 338.8,380.2 338.9,380.2 339.0,380.2 339.1,380.2 339.2,380.2 339.3,380.2 339.4,380.2 339.5,380.2 339.6,380.2 339.7,380.2 339.8,380.2 339.9,380.2 340.0,380.2 340.1,380.2 340.2,380.2 340.3,380.2 340.5,380.2 340.6,380.2 340.7,380.2 340.8,380.2 340.9,380.2 341.0,380.2 341.1,380.2 341.2,380.2 341.3,380.2 341.4,380.2 341.5,380.2 341.6,380.2 341.7,380.2 341.8,380.2 341.9,380.2 342.0,380.2 342.1,380.2 342.2,380.2 342.3,380.2 342.4,380.2 342.5,380.2 342.6,380.2 342.7,380.2 342.8,380.2 342.9,380.2 343.0,380.2 343.1,380.2 343.2,380.2 343.3,380.2 343.4,380.2 343.5,380.2 343.6,380.2 343.7,380.2 343.8,380.2 343.9,380.3 344.0,380.3 344.1,380.3 344.2,380.3 344.3,380.3 344.4,380.3 344.5,380.3 344.6,380.3 344.7,380.3 344.8,380.3 344.9,380.3 345.0,380.3 345.1,380.3 345.2,380.3 345.3,380.3 345.4,380.3 345.5,380.3 345.6,380.3 345.7,380.3 345.8,380.3 345.9,380.3 346.0,380.3 346.1,380.3 346.2,380.3 346.3,380.3 346.4,380.3 346.5,380.3 346.6,380.3 346.7,380.3 346.8,380.3 346.9,380.3 347.0,380.3 347.1,380.3 347.2,380.3 347.3,380.3 347.4,380.3 347.5,380.3 347.6,380.3 347.7,380.3 347.8,380.3 348.0,380.3 348.1,380.3 348.2,380.3 348.3,380.3 348.4,380.3 348.5,380.3 348.6,380.3 348.7,380.3 348.8,380.3 348.9,380.3 349.0,380.3 349.1,380.3 349.2,380.3 349.3,380.3 349.4,380.3 349.5,380.3 349.6,380.3 349.7,380.3 349.8,380.3 349.9,380.3 350.0,380.3 350.1,380.3 350.2,380.3 350.3,380.3 350.4,380.3 350.5,380.3 350.6,380.3 350.7,380.3 350.8,380.3 350.9,380.3 351.0,380.3 351.1,380.3 351.2,380.3 351.3,380.3 351.4,380.3 351.5,380.3 351.6,380.3 351.7,380.3 351.8,380.3 351.9,380.3 352.0,380.3 352.1,380.3 352.2,380.3 352.3,380.3 352.4,380.3 352.5,380.3 352.6,380.3 352.7,380.3 352.8,380.3 352.9,380.3 353.0,380.3 353.1,380.3 353.2,380.3 353.3,380.3 353.4,380.3 353.5,380.3 353.6,380.3 353.7,380.3 353.8,380.3 353.9,380.3 354.0,380.3 354.1,380.3 354.2,380.3 354.3,380.3 354.4,380.3 354.5,380.3 354.6,380.3 354.7,380.3 354.8,380.3 354.9,380.3 355.0,380.3 355.1,380.3 355.2,380.3 355.3,380.3 355.5,380.3 355.6,380.3 355.7,380.3 355.8,380.3 355.9,380.3 356.0,380.3 356.1,380.3 356.2,380.3 356.3,380.3 356.4,380.3 356.5,380.3 356.6,380.3 356.7,380.3 356.8,380.3 356.9,380.3 357.0,380.3 357.1,380.3 357.2,380.3 357.3,380.3 357.4,380.3 357.5,380.3 357.6,380.3 357.7,380.3 357.8,380.3 357.9,380.3 358.0,380.3 358.1,380.3 358.2,380.3 358.3,380.3 358.4,380.3 358.5,380.3 358.6,380.3 358.7,380.3 358.8,380.3 358.9,380.3 359.0,380.3 359.1,380.3 359.2,380.3 359.3,380.3 359.4,380.3 359.5,380.3 359.6,380.3 359.7,380.3 359.8,380.3 359.9,380.3 360.0,380.3 360.1,380.3 360.2,380.3 360.3,380.3 360.4,380.3 360.5,380.3 360.6,380.3 360.7,380.3 360.8,380.3 360.9,380.3 361.0,380.3 361.1,380.3 361.2,380.3 361.3,380.3 361.4,380.3 361.5,380.3 361.6,380.3 361.7,380.3 361.8,380.3 361.9,380.3 362.0,380.3 362.1,380.3 362.2,380.3 362.3,380.3 362.4,380.3 362.5,380.3 362.6,380.3 362.7,380.3 362.8,380.3 362.9,380.3 363.1,380.3 363.2,380.3 363.3,380.3 363.4,380.3 363.5,380.3 363.6,380.3 363.7,380.3 363.8,380.3 363.9,380.3 364.0,380.3 364.1,380.3 364.2,380.3 364.3,380.3 364.4,380.3 364.5,380.3 364.6,380.3 364.7,380.3 364.8,380.3 364.9,380.3 365.0,380.3 365.1,380.3 365.2,380.3 365.3,380.3 365.4,380.3 365.5,380.3 365.6,380.3 365.7,380.3 365.8,380.3 365.9,380.3 366.0,380.3 366.1,380.3 366.2,380.3 366.3,380.3 366.4,380.3 366.5,380.3 366.6,380.3 366.7,380.3 366.8,380.3 366.9,380.3 367.0,380.3 369.0,380.3 371.1,380.3 373.1,380.3 375.1,380.3 377.1,380.3 379.2,380.3 381.2,380.3 381.3,380.3 381.4,380.3 381.5,380.3 381.6,380.3 381.7,380.3 381.8,380.3 381.9,380.3 382.0,380.3 382.1,380.3 382.2,380.3 382.3,380.3 382.4,380.3 382.5,380.3 382.6,380.3 382.7,380.3 382.8,380.3 382.9,380.3 383.0,380.3 383.1,380.3 383.2,380.3 383.3,380.3 383.4,380.3 383.5,380.3 383.6,380.3 383.7,379.6 383.8,378.8 383.9,378.1 384.0,377.4 384.1,376.7 384.2,376.0 384.3,375.3 384.4,374.7 384.5,374.1 384.6,373.5 384.7,372.9 384.8,372.4 384.9,372.0 385.0,371.5 385.1,371.2 385.2,370.8 385.3,370.6 385.4,370.3 385.6,370.1 385.7,370.0 385.8,369.9 385.9,369.9 386.0,370.0 386.1,370.4 386.2,370.9 386.3,371.7 386.4,372.6 386.5,373.5 386.6,374.6 386.7,375.6 386.8,376.6 386.9,377.5 387.0,378.3 387.1,378.8 387.2,379.2 387.3,379.3 387.4,379.3 387.5,379.3 387.6,379.3 387.7,379.3 387.8,379.4 387.9,379.4 388.0,379.4 388.1,379.5 388.2,379.5 388.3,379.6 388.4,379.6 388.5,379.7 388.6,379.7 388.7,379.8 388.8,379.8 388.9,379.9 389.0,380.0 389.1,380.0 389.2,380.1 389.3,380.1 389.4,380.2 389.5,380.2 389.6,380.2 389.7,380.2 389.8,380.3 389.9,380.3 390.0,380.3 390.1,380.3 390.2,380.3 390.3,380.3 390.4,380.3 390.5,380.4 390.6,380.4 390.7,380.4 390.8,380.4 390.9,380.4 391.0,380.4 391.1,380.4 391.2,380.4 391.3,380.4 391.4,380.4 391.5,380.5 391.6,380.5 391.7,380.5 391.8,380.5 391.9,380.5 392.0,380.5 392.1,380.5 392.2,380.5 392.3,380.5 392.4,380.5 392.5,380.5 392.6,380.5 392.7,380.5 392.8,380.5 392.9,380.5 393.1,380.6 393.2,380.6 393.3,380.6 393.4,380.6 393.5,380.6 393.6,380.6 393.7,380.6 393.8,380.6 393.9,380.6 394.0,380.6 394.1,380.6 394.2,380.6 394.3,380.6 394.4,380.6 394.5,380.6 394.6,380.6 394.7,380.6 394.8,380.6 394.9,380.6 395.0,380.6 395.1,380.6 395.2,380.6 395.3,380.6 395.4,380.6 395.5,380.6 395.6,380.6 395.7,380.6 395.8,380.6 395.9,380.6 396.0,380.6 396.1,380.6 396.2,380.6 396.3,380.6 396.4,380.6 396.5,380.6 396.6,380.6 396.7,380.6 396.8,380.6 396.9,380.6 397.0,380.6 397.1,380.6 397.2,380.6 397.3,380.6 397.4,380.6 397.5,380.6 397.6,380.6 397.7,380.6 397.8,380.6 397.9,380.6 398.0,380.6 398.1,380.6 398.2,380.6 398.3,380.6 398.4,380.6 398.5,380.6 398.6,380.6 398.7,380.6 398.8,380.6 398.9,380.6 399.0,380.6 399.1,380.6 399.2,380.6 399.3,380.6 399.4,380.6 399.5,380.6 399.6,380.6 399.7,380.6 399.8,380.6 399.9,380.6 400.0,380.6 400.1,380.6 400.2,380.6 400.3,380.6 400.4,380.6 400.6,380.6 400.7,380.6 400.8,380.6 400.9,380.6 401.0,380.6 401.1,380.6 401.2,380.6 401.3,380.6 401.4,380.6 401.5,380.6 401.6,380.6 401.7,380.6 401.8,380.6 401.9,380.6 402.0,380.6 402.1,380.6 402.2,380.6 402.3,380.6 402.4,380.6 402.5,380.6 402.6,380.6 402.7,380.6 402.8,380.6 402.9,380.6 403.0,380.5 403.1,380.5 403.2,380.5 403.3,380.5 403.4,380.5 403.5,380.5 403.6,380.5 403.7,380.5 403.8,380.5 403.9,380.5 404.0,380.5 404.1,380.5 404.2,380.5 404.3,380.5 404.4,380.5 404.5,380.5 404.6,380.5 404.7,380.5 404.8,380.5 404.9,380.5 405.0,380.5 405.1,380.5 405.2,380.5 405.3,380.5 405.4,380.5 405.5,380.5 405.6,380.5 405.7,380.5 405.8,380.5 405.9,380.5 406.0,380.5 406.1,380.5 406.2,380.5 406.3,380.5 406.4,380.5 406.5,380.5 406.6,380.5 406.7,380.5 406.8,380.5 406.9,380.5 407.0,380.5 407.1,380.5 407.2,380.5 407.3,380.5 407.4,380.5 407.5,380.5 407.6,380.5 407.7,380.5 407.8,380.5 407.9,380.5 408.1,380.5 408.2,380.5 408.3,380.5 408.4,380.5 408.5,380.5 408.6,380.5 408.7,380.5 408.8,380.5 408.9,380.5 409.0,380.4 409.1,380.4 409.2,380.4 409.3,380.4 409.4,380.4 409.5,380.4 409.6,380.4 409.7,380.4 409.8,380.4 409.9,380.4 410.0,380.4 410.1,380.4 410.2,380.4 410.3,380.4 410.4,380.4 410.5,380.4 410.6,380.4 410.7,380.4 410.8,380.4 410.9,380.4 411.0,380.4 411.1,380.4 411.2,380.4 411.3,380.4 411.4,380.4 411.5,380.4 411.6,380.4 411.7,380.4 411.8,380.4 411.9,380.4 412.0,380.4 412.1,380.4 412.2,380.4 412.3,380.4 412.4,380.4 412.5,380.4 412.6,380.4 412.7,380.4 412.8,380.4 412.9,380.4 413.0,380.4 413.1,380.4 413.2,380.4 413.3,380.4 413.4,380.4 413.5,380.4 413.6,380.4 413.7,380.4 413.8,380.4 413.9,380.4 414.0,380.4 414.1,380.4 414.2,380.4 414.3,380.4 414.4,380.4 414.5,380.4 414.6,380.4 414.7,380.4 414.8,380.4 414.9,380.4 415.0,380.4 415.1,380.4 415.2,380.4 415.3,380.4 415.4,380.4 415.6,380.4 415.7,380.4 415.8,380.4 415.9,380.4 416.0,380.4 416.1,380.4 416.2,380.4 416.3,380.4 416.4,380.4 416.5,380.4 416.6,380.4 416.7,380.4 416.8,380.4 416.9,380.4 417.0,380.4 417.1,380.4 417.2,380.4 417.3,380.4 417.4,380.4 417.5,380.4 417.6,380.4 417.7,380.4 417.8,380.4 417.9,380.4 418.0,380.4 418.1,380.4 418.2,380.4 418.3,380.4 418.4,380.4 418.5,380.4 418.6,380.4 418.7,380.4 418.8,380.4 418.9,380.4 419.0,380.4 419.1,380.4 419.2,380.3 419.3,380.3 419.4,380.3 419.5,380.3 419.6,380.3 419.7,380.3 419.8,380.3 419.9,380.3 420.0,380.3 420.1,380.3 420.2,380.3 420.3,380.3 420.4,380.3 420.5,380.3 420.6,380.3 420.7,380.3 420.8,380.3 420.9,380.3 421.0,380.3 421.1,380.3 421.2,380.3 421.3,380.3 421.4,380.3 421.5,380.3 421.6,380.3 421.7,380.3 421.8,380.3 421.9,380.3 422.0,380.3 422.1,380.3 422.2,380.3 422.3,380.3 422.4,380.3 422.5,380.3 422.6,380.3 422.7,380.3 422.8,380.3 422.9,380.3 423.1,380.3 423.2,380.3 423.3,380.3 423.4,380.3 423.5,380.3 423.6,380.3 423.7,380.3 423.8,380.3 423.9,380.3 424.0,380.3 424.1,380.3 424.2,380.3 424.3,380.3 424.4,380.3 424.5,380.3 424.6,380.3 424.7,380.3 424.8,380.3 424.9,380.3 425.0,380.3 425.1,380.3 425.2,380.3 425.3,380.3 425.4,380.3 425.5,380.3 425.6,380.3 425.7,380.3 425.8,380.3 425.9,380.3 426.0,380.3 426.1,380.3 426.2,380.3 426.3,380.3 426.4,380.3 426.5,380.3 426.6,380.3 426.7,380.3 426.8,380.3 426.9,380.3 427.0,380.3 427.1,380.3 427.2,380.3 427.3,380.3 427.4,380.3 427.5,380.3 427.6,380.3 427.7,380.3 427.8,380.3 427.9,380.3 428.0,380.3 428.1,380.3 428.2,380.3 428.3,380.3 428.4,380.3 428.5,380.3 428.6,380.3 428.7,380.3 428.8,380.3 428.9,380.3 429.0,380.3 429.1,380.3 429.2,380.3 429.3,380.3 429.4,380.3 429.5,380.3 429.6,380.3 429.7,380.3 429.8,380.3 429.9,380.3 430.0,380.3 430.1,380.3 430.2,380.3 430.3,380.3 430.4,380.3 430.6,380.3 430.7,380.3 430.8,380.3 430.9,380.3 431.0,380.3 431.1,380.3 431.2,380.3 431.3,380.3 431.4,380.3 431.5,380.3 431.6,380.3 431.7,380.3 431.8,380.3 431.9,380.3 432.0,380.3 432.1,380.3 432.2,380.3 432.3,380.3 432.4,380.3 432.5,380.3 432.6,380.3 432.7,380.3 432.8,380.3 432.9,380.3 433.0,380.3 433.1,380.3 433.2,380.3 433.3,380.3 433.4,380.3 433.5,380.3 433.6,380.3 433.7,380.3 433.8,380.3 433.9,380.3 434.0,380.3 434.1,380.3 434.2,380.3 434.3,380.3 434.4,380.3 434.5,380.3 434.6,380.3 434.7,380.3 434.8,380.3 434.9,380.3 435.0,380.3 435.1,380.3 435.2,380.3 435.3,380.3 435.4,380.3 435.5,380.3 435.6,380.3 435.7,380.3 435.8,380.3 435.9,380.3 436.0,380.3 436.1,380.3 436.2,380.3 436.3,380.3 436.4,380.3 436.5,380.3 436.6,380.3 436.7,380.3 436.8,380.3 436.9,380.3 437.0,380.3 437.1,380.3 437.2,380.3 437.3,380.3 437.4,380.3 437.5,380.3 437.6,380.3 437.7,380.3 437.8,380.3 437.9,380.3 438.1,380.3 438.2,380.3 438.3,380.3 438.4,380.3 438.5,380.3 438.6,380.3 438.7,380.3 438.8,380.3 438.9,380.3 439.0,380.3 439.1,380.3 439.2,380.3 439.3,380.3 439.4,380.3 439.5,380.3 439.6,380.3 439.7,380.3 439.8,380.3 439.9,380.3 440.0,380.3 440.1,380.3 440.2,380.3 440.3,380.3 440.4,380.3 440.5,380.3 440.6,380.3 440.7,380.3 440.8,380.3 440.9,380.3 441.0,380.3 441.1,380.3 441.2,380.3 441.3,380.3 441.4,380.3 441.5,380.3 441.6,380.3 441.7,380.3 441.8,380.3 441.9,380.3 442.0,380.3 442.1,380.3 442.2,380.3 442.3,380.3 442.4,380.3 442.5,380.3 442.6,380.3 442.7,380.3 442.8,380.3 442.9,380.3 443.0,380.3 443.1,380.3 443.2,380.3 443.3,380.3 443.4,380.3 443.5,380.3 443.6,380.3 443.7,380.3 443.8,380.3 443.9,380.3 444.0,380.3 444.1,380.3 444.2,380.3 444.3,380.3 444.4,380.3 444.5,380.3 444.6,380.3 444.7,380.3 444.8,380.3 444.9,380.3 445.0,380.3 445.1,380.3 445.2,380.3 445.3,380.3 445.4,380.3 445.6,380.3 445.7,380.3 445.8,380.3 445.9,380.3 446.0,380.3 446.1,380.3 446.2,380.3 446.3,380.3 446.4,380.3 446.5,380.3 446.6,380.3 446.7,380.3 446.8,380.3 446.9,380.3 447.0,380.3 447.1,380.3 447.2,380.3 447.3,380.3 447.4,380.3 447.5,380.3 447.6,380.3 447.7,380.3 447.8,380.3 447.9,380.3 448.0,380.3 448.1,380.3 450.1,380.3 452.1,380.3 454.2,380.3 456.2,380.3 458.2,380.3 460.2,380.3 462.3,380.3 464.3,380.3" stroke="#D95319" stroke-width="1.2"/>
<polyline points="58.9,383.4 59.0,383.4 59.1,383.3 59.2,383.3 59.3,383.2 59.4,383.2 59.5,383.2 59.6,383.2 59.7,383.1 59.8,383.1 59.9,383.1 60.0,383.0 60.1,383.0 60.2,383.0 60.3,383.0 60.4,382.9 60.5,382.9 60.6,382.9 60.7,382.9 60.8,382.9 60.9,382.8 61.0,382.8 61.1,382.8 61.2,382.8 61.3,382.8 61.4,382.7 61.5,382.7 61.6,382.7 61.7,382.7 61.8,382.7 61.9,382.7 62.0,382.6 62.1,382.6 62.2,382.6 62.3,382.6 62.4,382.6 62.5,382.6 62.6,382.5 62.8,382.5 62.9,382.5 63.0,382.5 63.1,382.5 63.2,382.5 63.3,382.5 63.4,382.4 63.5,382.4 63.6,382.4 63.7,382.4 63.8,382.4 63.9,382.4 64.0,382.4 64.1,382.4 64.2,382.3 64.3,382.3 64.4,382.3 64.5,382.3 64.6,382.3 64.7,382.3 64.8,382.3 64.9,382.3 65.0,382.2 65.1,382.2 65.2,382.2 65.3,382.2 65.4,382.2 65.5,382.2 65.6,382.2 65.7,382.2 65.8,382.2 65.9,382.2 66.0,382.1 66.1,382.1 66.2,382.1 66.3,382.1 66.4,382.1 66.5,382.1 66.6,382.1 66.7,382.1 66.8,382.1 66.9,382.1 67.0,382.0 67.1,382.0 67.2,382.0 67.3,382.0 67.4,382.0 67.5,382.0 67.6,382.0 67.7,382.0 67.8,382.0 67.9,382.0 68.0,382.0 68.1,381.9 68.2,381.9 68.3,381.9 68.4,381.9 68.5,381.9 68.6,381.9 68.7,381.9 68.8,381.9 68.9,381.9 69.0,381.9 69.1,381.9 69.2,381.9 69.3,381.8 69.4,381.8 69.5,381.8 69.6,381.8 69.7,381.8 69.8,381.8 69.9,381.8 70.0,381.8 70.1,381.8 70.3,381.8 70.4,381.8 70.5,381.8 70.6,381.8 70.7,381.7 70.8,381.7 70.9,381.7 71.0,381.7 71.1,381.7 71.2,381.7 71.3,381.7 71.4,381.7 71.5,381.7 71.6,381.7 71.7,381.7 71.8,381.7 71.9,381.7 72.0,381.7 72.1,381.6 72.2,381.6 72.3,381.6 72.4,381.6 72.5,381.6 72.6,381.6 72.7,381.6 72.8,381.6 72.9,381.6 73.0,381.6 73.1,381.6 73.2,381.6 73.3,381.6 73.4,381.6 73.5,381.5 73.6,381.5 73.7,381.5 73.8,381.5 73.9,381.5 74.0,381.5 74.1,381.5 74.2,381.5 74.3,381.5 74.4,381.5 74.5,381.5 74.6,381.5 74.7,381.5 74.8,381.5 74.9,381.5 75.0,381.5 75.1,381.5 75.2,381.4 75.3,381.4 75.4,381.4 75.5,381.4 75.6,381.4 75.7,381.4 75.8,381.4 75.9,381.4 76.0,381.4 76.1,381.4 76.2,381.4 76.3,381.4 76.4,381.4 76.5,381.4 76.6,381.4 76.7,381.4 76.8,381.4 76.9,381.3 77.0,381.3 77.1,381.3 77.2,381.3 77.3,381.3 77.4,381.3 77.5,381.3 77.6,381.3 77.8,381.3 77.9,381.3 78.0,381.3 78.1,381.3 78.2,381.3 78.3,381.3 78.4,381.3 78.5,381.3 78.6,381.3 78.7,381.3 78.8,381.3 78.9,381.3 79.0,381.2 79.1,381.2 79.2,381.2 79.3,381.2 79.4,381.2 79.5,381.2 79.6,381.2 79.7,381.2 79.8,381.2 79.9,381.2 80.0,381.2 80.1,381.2 80.2,381.2 80.3,381.2 80.4,381.2 80.5,381.2 80.6,381.2 80.7,381.2 80.8,381.2 80.9,381.2 81.0,381.2 81.1,381.1 81.2,381.1 81.3,381.1 81.4,381.1 81.5,381.1 81.6,381.1 81.7,381.1 81.8,381.1 81.9,381.1 82.0,381.1 82.1,381.1 82.2,381.1 82.3,381.1 82.4,381.1 82.5,381.1 82.6,381.1 82.7,381.1 82.8,381.1 82.9,381.1 83.0,381.1 83.1,381.1 83.2,381.1 83.3,381.1 83.4,381.1 83.5,381.1 83.6,381.0 83.7,381.0 83.8,381.0 83.9,381.0 84.0,381.0 84.1,381.0 84.2,381.0 84.3,381.0 84.4,381.0 84.5,381.0 84.6,381.0 84.7,381.0 84.8,381.0 84.9,381.0 85.0,381.0 85.1,381.0 85.3,381.0 85.4,381.0 85.5,381.0 85.6,381.0 85.7,381.0 85.8,381.0 85.9,381.0 86.0,381.0 86.1,381.0 86.2,381.0 86.3,381.0 86.4,380.9 86.5,380.9 86.6,380.9 86.7,380.9 86.8,380.9 86.9,380.9 87.0,380.9 87.1,380.9 87.2,380.9 87.3,380.9 87.4,380.9 87.5,380.9 87.6,380.9 87.7,380.9 87.8,380.9 87.9,380.9 88.0,380.9 88.1,380.9 88.2,380.9 88.3,380.9 88.4,380.9 88.5,380.9 88.6,380.9 88.7,380.9 88.8,380.9 88.9,380.9 89.0,380.9 89.1,380.9 89.2,380.9 89.3,380.9 89.4,380.9 89.5,380.9 89.6,380.9 89.7,380.8 89.8,380.8 89.9,380.8 90.0,380.8 90.1,380.8 90.2,380.8 90.3,380.8 90.4,380.8 90.5,380.8 90.6,380.8 90.7,380.8 90.8,380.8 90.9,380.8 91.0,380.8 91.1,380.8 91.2,380.8 91.3,380.8 91.4,380.8 91.5,380.8 91.6,380.8 91.7,380.8 91.8,380.8 91.9,380.8 92.0,380.8 92.1,380.8 92.2,380.8 92.3,380.8 92.4,380.8 92.5,380.8 92.6,380.8 92.8,380.8 92.9,380.8 93.0,380.8 93.1,380.8 93.2,380.8 93.3,380.8 93.4,380.8 93.5,380.8 93.6,380.8 93.7,380.7 93.8,380.7 93.9,380.7 94.0,380.7 94.1,380.7 94.2,380.7 94.3,380.7 94.4,380.7 94.5,380.7 94.6,380.7 94.7,380.7 94.8,380.7 94.9,380.7 95.0,380.7 95.1,380.7 95.2,380.7 95.3,380.7 95.4,380.7 95.5,380.7 95.6,380.7 95.7,380.7 95.8,380.7 95.9,380.7 96.0,380.7 96.1,380.7 96.2,380.7 96.3,380.7 96.4,380.7 96.5,380.7 96.6,380.7 96.7,380.7 96.8,380.7 96.9,380.7 97.0,380.7 97.1,380.7 97.2,380.7 97.3,380.7 97.4,380.7 97.5,380.7 97.6,380.7 97.7,380.7 97.8,380.7 97.9,380.7 98.0,380.7 98.1,380.7 98.2,380.7 98.3,380.7 98.4,380.7 98.5,380.6 98.6,380.6 98.7,380.6 98.8,380.6 98.9,380.6 99.0,380.6 99.1,380.6 99.2,380.6 99.3,380.6 99.4,380.6 99.5,380.6 99.6,380.6 99.7,380.6 99.8,380.6 99.9,380.6 100.0,380.6 100.1,380.6 100.3,380.6 100.4,380.6 100.5,380.6 100.6,380.6 100.7,380.6 100.8,380.6 100.9,380.6 101.0,380.6 101.1,380.6 101.2,380.6 101.3,380.6 101.4,380.6 101.5,380.6 101.6,380.6 101.7,380.6 101.8,380.6 101.9,380.6 102.0,380.6 102.1,380.6 102.2,380.6 102.3,380.6 102.4,380.6 102.5,380.6 102.6,380.6 102.7,380.6 102.8,380.6 102.9,380.6 103.0,380.6 103.1,380.6 103.2,380.6 103.3,380.6 103.4,380.6 103.5,380.6 103.6,380.6 103.7,380.6 103.8,380.6 103.9,380.6 104.0,380.6 104.1,380.6 104.2,380.6 104.3,380.6 104.4,380.6 104.5,380.6 104.6,380.6 104.7,380.6 104.8,380.6 104.9,380.6 105.0,380.6 105.1,380.6 105.2,380.5 105.3,380.5 105.4,380.5 105.5,380.5 105.6,380.5 105.7,380.5 105.8,380.5 105.9,380.5 106.0,380.5 106.1,380.5 106.2,380.5 106.3,380.5 106.4,380.5 106.5,380.5 106.6,380.5 106.7,380.5 106.8,380.5 106.9,380.5 107.0,380.5 107.1,380.5 107.2,380.5 107.3,380.5 107.4,380.5 107.5,380.5 107.6,380.5 107.8,380.5 107.9,380.5 108.0,380.5 108.1,380.5 108.2,380.5 108.3,380.5 108.4,380.5 108.5,380.5 108.6,380.5 108.7,380.5 108.8,380.5 108.9,380.5 109.0,380.5 109.1,380.5 109.2,380.5 109.3,380.5 109.4,380.5 109.5,380.5 109.6,380.5 109.7,380.5 109.8,380.5 109.9,380.5 110.0,380.5 110.1,380.5 110.2,380.5 110.3,380.5 110.4,380.5 110.5,380.5 110.6,380.5 110.7,380.5 110.8,380.5 110.9,380.5 111.0,380.5 111.1,380.5 111.2,380.5 111.3,380.5 111.4,380.5 111.5,380.5 111.6,380.5 111.7,380.5 111.8,380.5 111.9,380.5 112.0,380.5 112.1,380.5 112.2,380.5 112.3,380.5 112.4,380.5 112.5,380.5 112.6,380.5 112.7,380.5 112.8,380.5 112.9,380.5 113.0,380.5 113.1,380.5 113.2,380.5 113.3,380.5 113.4,380.5 113.5,380.5 113.6,380.5 113.7,380.5 113.8,380.5 113.9,380.5 114.0,380.5 114.1,380.5 114.2,380.5 114.3,380.5 114.4,380.5 114.5,380.5 114.6,380.5 114.7,380.5 114.8,380.5 114.9,380.5 115.0,380.5 115.1,380.5 115.3,380.4 115.4,380.4 115.5,380.4 115.6,380.4 115.7,380.4 115.8,380.4 115.9,380.4 116.0,380.4 116.1,380.4 116.2,380.4 116.3,380.4 116.4,380.4 116.5,380.4 116.6,380.4 116.7,380.4 116.8,380.4 116.9,380.4 117.0,380.4 117.1,380.4 117.2,380.4 117.3,380.4 117.4,380.4 117.5,380.4 117.6,380.4 117.7,380.4 117.8,380.4 117.9,380.4 118.0,380.4 118.1,380.4 118.2,380.4 118.3,380.4 118.4,380.4 118.5,380.4 118.6,380.4 118.7,380.4 118.8,380.4 118.9,380.4 119.0,380.4 119.1,380.4 119.2,380.4 119.3,380.4 119.4,380.4 119.5,380.4 119.6,380.4 119.7,380.4 119.8,380.4 119.9,380.4 120.0,380.4 120.1,380.4 120.2,380.4 120.3,380.4 120.4,380.4 120.5,380.4 120.6,380.4 120.7,380.4 120.8,380.4 120.9,380.4 121.0,380.4 121.1,380.4 121.2,380.4 121.3,380.4 121.4,380.4 121.5,380.4 121.6,380.4 121.7,380.4 121.8,380.4 121.9,380.4 122.0,380.4 122.1,380.4 122.2,380.4 122.3,380.4 122.4,380.4 122.5,380.4 122.6,380.4 122.8,380.4 122.9,380.4 123.0,380.4 123.1,380.4 123.2,380.4 123.3,380.4 123.4,380.4 123.5,380.4 123.6,380.4 123.7,380.4 123.8,380.4 125.8,380.4 127.8,380.4 129.8,380.4 131.9,380.4 133.9,380.4 135.9,380.4 138.0,380.3 138.1,380.3 138.2,380.3 138.3,380.3 138.4,380.3 138.5,380.3 138.6,380.3 138.7,380.3 138.8,380.3 138.9,380.3 139.0,380.3 139.1,380.3 139.2,380.3 139.3,380.3 139.4,382.9 139.5,385.4 139.6,387.9 139.7,390.5 139.8,393.0 139.9,392.8 140.0,392.7 140.1,392.5 140.2,392.4 140.3,392.3 140.4,392.1 140.5,392.0 140.6,391.9 140.7,391.8 140.8,391.7 140.9,391.5 141.0,391.4 141.1,391.3 141.2,391.2 141.3,391.1 141.4,391.0 141.5,390.9 141.6,390.8 141.7,390.7 141.8,390.7 141.9,390.6 142.0,390.5 142.1,390.4 142.2,390.3 142.3,390.2 142.4,390.2 142.5,390.1 142.6,390.0 142.7,390.0 142.8,389.9 142.9,389.8 143.0,389.7 143.1,389.7 143.2,389.6 143.3,389.5 143.4,389.5 143.5,389.4 143.6,389.4 143.7,389.3 143.8,389.2 143.9,389.2 144.0,389.1 144.1,389.1 144.2,389.0 144.3,389.0 144.4,388.9 144.5,388.9 144.6,388.8 144.7,388.7 144.8,388.7 144.9,388.6 145.0,388.6 145.1,388.5 145.3,388.5 145.4,388.5 145.5,388.4 145.6,388.4 145.7,388.3 145.8,388.3 145.9,388.2 146.0,388.2 146.1,388.1 146.2,388.1 146.3,388.0 146.4,388.0 146.5,388.0 146.6,387.9 146.7,387.9 146.8,387.8 146.9,387.8 147.0,387.7 147.1,387.7 147.2,387.7 147.3,387.6 147.4,387.6 147.5,387.5 147.6,387.5 147.7,387.5 147.8,387.4 147.9,387.4 148.0,387.4 148.1,387.3 148.2,387.3 148.3,387.2 148.4,387.2 148.5,387.2 148.6,387.1 148.7,387.1 148.8,387.1 148.9,387.0 149.0,387.0 149.1,386.9 149.2,386.9 149.3,386.9 149.4,386.8 149.5,386.8 149.6,386.8 149.7,386.7 149.8,386.7 149.9,386.7 150.0,386.6 150.1,386.6 150.2,386.6 150.3,386.5 150.4,386.5 150.5,386.5 150.6,386.4 150.7,386.4 150.8,386.4 150.9,386.3 151.0,386.3 151.1,386.3 151.2,386.3 151.3,386.2 151.4,386.2 151.5,386.2 151.6,386.1 151.7,386.1 151.8,386.1 151.9,386.0 152.0,386.0 152.1,386.0 152.2,386.0 152.3,385.9 152.4,385.9 152.5,385.9 152.6,385.8 152.8,385.8 152.9,385.8 153.0,385.8 153.1,385.7 153.2,385.7 153.3,385.7 153.4,385.6 153.5,385.6 153.6,385.6 153.7,385.6 153.8,385.5 153.9,385.5 154.0,385.5 154.1,385.5 154.2,385.4 154.3,385.4 154.4,385.4 154.5,385.3 154.6,385.3 154.7,385.3 154.8,385.3 154.9,385.2 155.0,385.2 155.1,385.2 155.2,385.2 155.3,385.1 155.4,385.1 155.5,385.1 155.6,385.1 155.7,385.0 155.8,385.0 155.9,385.0 156.0,385.0 156.1,384.9 156.2,384.9 156.3,384.9 156.4,384.9 156.5,384.9 156.6,384.8 156.7,384.8 156.8,384.8 156.9,384.8 157.0,384.7 157.1,384.7 157.2,384.7 157.3,384.7 157.4,384.6 157.5,384.6 157.6,384.6 157.7,384.6 157.8,384.6 157.9,384.5 158.0,384.5 158.1,384.5 158.2,384.5 158.3,384.4 158.4,384.4 158.5,384.4 158.6,384.4 158.7,384.4 158.8,384.3 158.9,384.3 159.0,384.3 159.1,384.3 159.2,384.3 159.3,384.2 159.4,384.2 159.5,384.2 159.6,384.2 159.7,384.2 159.8,384.1 159.9,384.1 160.0,384.1 160.1,384.1 160.2,384.1 160.4,384.0 160.5,384.0 160.6,384.0 160.7,384.0 160.8,384.0 160.9,383.9 161.0,383.9 161.1,383.9 161.2,383.9 161.3,383.9 161.4,383.9 161.5,383.8 161.6,383.8 161.7,383.8 161.8,383.8 161.9,383.8 162.0,383.7 162.1,383.7 162.2,383.7 162.3,383.7 162.4,383.7 162.5,383.7 162.6,383.6 162.7,383.6 162.8,383.6 162.9,383.6 163.0,383.6 163.1,383.6 163.2,383.5 163.3,383.5 163.4,383.5 163.5,383.5 163.6,383.5 163.7,383.5 163.8,383.4 163.9,383.4 164.0,383.4 164.1,383.4 164.2,383.4 164.3,383.4 164.4,383.3 164.5,383.3 164.6,383.3 164.7,383.3 164.8,383.3 164.9,383.3 165.0,383.3 165.1,383.2 165.2,383.2 165.3,383.2 165.4,383.2 165.5,383.2 165.6,383.2 165.7,383.1 165.8,383.1 165.9,383.1 166.0,383.1 166.1,383.1 166.2,383.1 166.3,383.1 166.4,383.0 166.5,383.0 166.6,383.0 166.7,383.0 166.8,383.0 166.9,383.0 167.0,383.0 167.1,382.9 167.2,382.9 167.3,382.9 167.4,382.9 167.5,382.9 167.6,382.9 167.7,382.9 167.9,382.9 168.0,382.8 168.1,382.8 168.2,382.8 168.3,382.8 168.4,382.8 168.5,382.8 168.6,382.8 168.7,382.8 168.8,382.7 168.9,382.7 169.0,382.7 169.1,382.7 169.2,382.7 169.3,382.7 169.4,382.7 169.5,382.7 169.6,382.6 169.7,382.6 169.8,382.6 169.9,382.6 170.0,382.6 170.1,382.6 170.2,382.6 170.3,382.6 170.4,382.5 170.5,382.5 170.6,382.5 170.7,382.5 170.8,382.5 170.9,382.5 171.0,382.5 171.1,382.5 171.2,382.5 171.3,382.4 171.4,382.4 171.5,382.4 171.6,382.4 171.7,382.4 171.8,382.4 171.9,382.4 172.0,382.4 172.1,382.4 172.2,382.3 172.3,382.3 172.4,382.3 172.5,382.3 172.6,382.3 172.7,382.3 172.8,382.3 172.9,382.3 173.0,382.3 173.1,382.3 173.2,382.2 173.3,382.2 173.4,382.2 173.5,382.2 173.6,382.2 173.7,382.2 173.8,382.2 173.9,382.2 174.0,382.2 174.1,382.2 174.2,382.1 174.3,382.1 174.4,382.1 174.5,382.1 174.6,382.1 174.7,382.1 174.8,382.1 174.9,382.1 175.0,382.1 175.1,382.1 175.2,382.1 175.4,382.0 175.5,382.0 175.6,382.0 175.7,382.0 175.8,382.0 175.9,382.0 176.0,382.0 176.1,382.0 176.2,382.0 176.3,382.0 176.4,382.0 176.5,381.9 176.6,381.9 176.7,381.9 176.8,381.9 176.9,381.9 177.0,381.9 177.1,381.9 177.2,381.9 177.3,381.9 177.4,381.9 177.5,381.9 177.6,381.9 177.7,381.8 177.8,381.8 177.9,381.8 178.0,381.8 178.1,381.8 178.2,381.8 178.3,381.8 178.4,381.8 178.5,381.8 178.6,381.8 178.7,381.8 178.8,381.8 178.9,381.8 179.0,381.7 179.1,381.7 179.2,381.7 179.3,381.7 179.4,381.7 179.5,381.7 179.6,381.7 179.7,381.7 179.8,381.7 179.9,381.7 180.0,381.7 180.1,381.7 180.2,381.7 180.3,381.7 180.4,381.6 180.5,381.6 180.6,381.6 180.7,381.6 180.8,381.6 180.9,381.6 181.0,381.6 181.1,381.6 181.2,381.6 181.3,381.6 181.4,381.6 181.5,381.6 181.6,381.6 181.7,381.6 181.8,381.6 181.9,381.5 182.0,381.5 182.1,381.5 182.2,381.5 182.3,381.5 182.4,381.5 182.5,381.5 182.6,381.5 182.7,381.5 182.9,381.5 183.0,381.5 183.1,381.5 183.2,381.5 183.3,381.5 183.4,381.5 183.5,381.5 183.6,381.4 183.7,381.4 183.8,381.4 183.9,381.4 184.0,381.4 184.1,381.4 184.2,381.4 184.3,381.4 184.4,381.4 184.5,381.4 184.6,381.4 184.7,381.4 184.8,381.4 184.9,381.4 185.0,381.4 185.1,381.4 185.2,381.4 185.3,381.4 185.4,381.3 185.5,381.3 185.6,381.3 185.7,381.3 185.8,381.3 185.9,381.3 186.0,381.3 186.1,381.3 186.2,381.3 186.3,381.3 186.4,381.3 186.5,381.3 186.6,381.3 186.7,381.3 186.8,381.3 186.9,381.3 187.0,381.3 187.1,381.3 187.2,381.3 187.3,381.2 187.4,381.2 187.5,381.2 187.6,381.2 187.7,381.2 187.8,381.2 187.9,381.2 188.0,381.2 188.1,381.2 188.2,381.2 188.3,381.2 188.4,381.2 188.5,381.2 188.6,381.2 188.7,381.2 188.8,381.2 188.9,381.2 189.0,381.2 189.1,381.2 189.2,381.2 189.3,381.2 189.4,381.2 189.5,381.1 189.6,381.1 189.7,381.1 189.8,381.1 189.9,381.1 190.0,381.1 190.1,381.1 190.2,381.1 190.4,381.1 190.5,381.1 190.6,381.1 190.7,381.1 190.8,381.1 190.9,381.1 191.0,381.1 191.1,381.1 191.2,381.1 191.3,381.1 191.4,381.1 191.5,381.1 191.6,381.1 191.7,381.1 191.8,381.1 191.9,381.1 192.0,381.0 192.1,381.0 192.2,381.0 192.3,381.0 192.4,381.0 192.5,381.0 192.6,381.0 192.7,381.0 192.8,381.0 192.9,381.0 193.0,381.0 193.1,381.0 193.2,381.0 193.3,381.0 193.4,381.0 193.5,381.0 193.6,381.0 193.7,381.0 193.8,381.0 193.9,381.0 194.0,381.0 194.1,381.0 194.2,381.0 194.3,381.0 194.4,381.0 194.5,381.0 194.6,381.0 194.7,381.0 194.8,380.9 194.9,380.9 195.0,380.9 195.1,380.9 195.2,380.9 195.3,380.9 195.4,380.9 195.5,380.9 195.6,380.9 195.7,380.9 195.8,380.9 195.9,380.9 196.0,380.9 196.1,380.9 196.2,380.9 196.3,380.9 196.4,380.9 196.5,380.9 196.6,380.9 196.7,380.9 196.8,380.9 196.9,380.9 197.0,380.9 197.1,380.9 197.2,380.9 197.3,380.9 197.4,380.9 197.5,380.9 197.6,380.9 197.7,380.9 197.9,380.9 198.0,380.9 198.1,380.8 198.2,380.8 198.3,380.8 198.4,380.8 198.5,380.8 198.6,380.8 198.7,380.8 198.8,380.8 198.9,380.8 199.0,380.8 199.1,380.8 199.2,380.8 199.3,380.8 199.4,380.8 199.5,380.8 199.6,380.8 199.7,380.8 199.8,380.8 199.9,380.8 200.0,380.8 200.1,380.8 200.2,380.8 200.3,380.8 200.4,380.8 200.5,380.8 200.6,380.8 200.7,380.8 200.8,380.8 200.9,380.8 201.0,380.8 201.1,380.8 201.2,380.8 201.3,380.8 201.4,380.8 201.5,380.8 201.6,380.8 201.7,380.8 201.8,380.8 201.9,380.8 202.0,380.7 202.1,380.7 202.2,380.7 202.3,380.7 202.4,380.7 202.5,380.7 202.6,380.7 202.7,380.7 202.8,380.7 202.9,380.7 203.0,380.7 203.1,380.7 203.2,380.7 203.3,380.7 203.4,380.7 203.5,380.7 203.6,380.7 203.7,380.7 203.8,380.7 203.9,380.7 204.0,380.7 204.1,380.7 204.2,380.7 204.3,380.7 204.4,380.7 204.5,380.7 204.6,380.7 204.7,380.7 204.8,380.7 206.9,380.7 208.9,380.6 210.9,380.6 213.0,380.6 215.0,380.5 217.0,380.5 219.0,380.5 219.1,380.5 219.2,380.5 219.3,380.5 219.4,380.5 219.5,380.5 219.6,380.5 219.7,380.5 219.8,380.5 219.9,380.5 220.0,380.5 220.1,380.5 220.2,380.5 220.4,380.5 220.5,377.9 220.6,375.4 220.7,372.9 220.8,370.4 220.9,367.8 221.0,368.0 221.1,368.1 221.2,368.3 221.3,368.4 221.4,368.5 221.5,368.7 221.6,368.8 221.7,368.9 221.8,369.0 221.9,369.2 222.0,369.3 222.1,369.4 222.2,369.5 222.3,369.6 222.4,369.7 222.5,369.8 222.6,369.9 222.7,370.0 222.8,370.0 222.9,370.1 223.0,370.2 223.1,370.3 223.2,370.4 223.3,370.5 223.4,370.5 223.5,370.6 223.6,370.7 223.7,370.8 223.8,370.8 223.9,370.9 224.0,371.0 224.1,371.0 224.2,371.1 224.3,371.2 224.4,371.2 224.5,371.3 224.6,371.4 224.7,371.4 224.8,371.5 224.9,371.5 225.0,371.6 225.1,371.6 225.2,371.7 225.3,371.8 225.4,371.8 225.5,371.9 225.6,371.9 225.7,372.0 225.8,372.0 225.9,372.1 226.0,372.1 226.1,372.2 226.2,372.2 226.3,372.3 226.4,372.3 226.5,372.4 226.6,372.4 226.7,372.4 226.8,372.5 226.9,372.5 227.0,372.6 227.1,372.6 227.2,372.7 227.3,372.7 227.4,372.8 227.5,372.8 227.6,372.8 227.7,372.9 227.9,372.9 228.0,373.0 228.1,373.0 228.2,373.0 228.3,373.1 228.4,373.1 228.5,373.2 228.6,373.2 228.7,373.2 228.8,373.3 228.9,373.3 229.0,373.4 229.1,373.4 229.2,373.4 229.3,373.5 229.4,373.5 229.5,373.5 229.6,373.6 229.7,373.6 229.8,373.6 229.9,373.7 230.0,373.7 230.1,373.8 230.2,373.8 230.3,373.8 230.4,373.9 230.5,373.9 230.6,373.9 230.7,374.0 230.8,374.0 230.9,374.0 231.0,374.1 231.1,374.1 231.2,374.1 231.3,374.2 231.4,374.2 231.5,374.2 231.6,374.2 231.7,374.3 231.8,374.3 231.9,374.3 232.0,374.4 232.1,374.4 232.2,374.4 232.3,374.5 232.4,374.5 232.5,374.5 232.6,374.6 232.7,374.6 232.8,374.6 232.9,374.6 233.0,374.7 233.1,374.7 233.2,374.7 233.3,374.8 233.4,374.8 233.5,374.8 233.6,374.8 233.7,374.9 233.8,374.9 233.9,374.9 234.0,375.0 234.1,375.0 234.2,375.0 234.3,375.0 234.4,375.1 234.5,375.1 234.6,375.1 234.7,375.1 234.8,375.2 234.9,375.2 235.0,375.2 235.1,375.3 235.2,375.3 235.4,375.3 235.5,375.3 235.6,375.4 235.7,375.4 235.8,375.4 235.9,375.4 236.0,375.5 236.1,375.5 236.2,375.5 236.3,375.5 236.4,375.6 236.5,375.6 236.6,375.6 236.7,375.6 236.8,375.7 236.9,375.7 237.0,375.7 237.1,375.7 237.2,375.7 237.3,375.8 237.4,375.8 237.5,375.8 237.6,375.8 237.7,375.9 237.8,375.9 237.9,375.9 238.0,375.9 238.1,376.0 238.2,376.0 238.3,376.0 238.4,376.0 238.5,376.0 238.6,376.1 238.7,376.1 238.8,376.1 238.9,376.1 239.0,376.2 239.1,376.2 239.2,376.2 239.3,376.2 239.4,376.2 239.5,376.3 239.6,376.3 239.7,376.3 239.8,376.3 239.9,376.3 240.0,376.4 240.1,376.4 240.2,376.4 240.3,376.4 240.4,376.4 240.5,376.5 240.6,376.5 240.7,376.5 240.8,376.5 240.9,376.5 241.0,376.6 241.1,376.6 241.2,376.6 241.3,376.6 241.4,376.6 241.5,376.7 241.6,376.7 241.7,376.7 241.8,376.7 241.9,376.7 242.0,376.7 242.1,376.8 242.2,376.8 242.3,376.8 242.4,376.8 242.5,376.8 242.6,376.9 242.7,376.9 242.9,376.9 243.0,376.9 243.1,376.9 243.2,376.9 243.3,377.0 243.4,377.0 243.5,377.0 243.6,377.0 243.7,377.0 243.8,377.0 243.9,377.1 244.0,377.1 244.1,377.1 244.2,377.1 244.3,377.1 244.4,377.1 244.5,377.2 244.6,377.2 244.7,377.2 244.8,377.2 244.9,377.2 245.0,377.2 245.1,377.3 245.2,377.3 245.3,377.3 245.4,377.3 245.5,377.3 245.6,377.3 245.7,377.3 245.8,377.4 245.9,377.4 246.0,377.4 246.1,377.4 246.2,377.4 246.3,377.4 246.4,377.5 246.5,377.5 246.6,377.5 246.7,377.5 246.8,377.5 246.9,377.5 247.0,377.5 247.1,377.6 247.2,377.6 247.3,377.6 247.4,377.6 247.5,377.6 247.6,377.6 247.7,377.6 247.8,377.7 247.9,377.7 248.0,377.7 248.1,377.7 248.2,377.7 248.3,377.7 248.4,377.7 248.5,377.7 248.6,377.8 248.7,377.8 248.8,377.8 248.9,377.8 249.0,377.8 249.1,377.8 249.2,377.8 249.3,377.8 249.4,377.9 249.5,377.9 249.6,377.9 249.7,377.9 249.8,377.9 249.9,377.9 250.0,377.9 250.1,377.9 250.2,378.0 250.4,378.0 250.5,378.0 250.6,378.0 250.7,378.0 250.8,378.0 250.9,378.0 251.0,378.0 251.1,378.1 251.2,378.1 251.3,378.1 251.4,378.1 251.5,378.1 251.6,378.1 251.7,378.1 251.8,378.1 251.9,378.1 252.0,378.2 252.1,378.2 252.2,378.2 252.3,378.2 252.4,378.2 252.5,378.2 252.6,378.2 252.7,378.2 252.8,378.2 252.9,378.3 253.0,378.3 253.1,378.3 253.2,378.3 253.3,378.3 253.4,378.3 253.5,378.3 253.6,378.3 253.7,378.3 253.8,378.3 253.9,378.4 254.0,378.4 254.1,378.4 254.2,378.4 254.3,378.4 254.4,378.4 254.5,378.4 254.6,378.4 254.7,378.4 254.8,378.4 254.9,378.5 255.0,378.5 255.1,378.5 255.2,378.5 255.3,378.5 255.4,378.5 255.5,378.5 255.6,378.5 255.7,378.5 255.8,378.5 255.9,378.5 256.0,378.6 256.1,378.6 256.2,378.6 256.3,378.6 256.4,378.6 256.5,378.6 256.6,378.6 256.7,378.6 256.8,378.6 256.9,378.6 257.0,378.6 257.1,378.7 257.2,378.7 257.3,378.7 257.4,378.7 257.5,378.7 257.6,378.7 257.7,378.7 257.9,378.7 258.0,378.7 258.1,378.7 258.2,378.7 258.3,378.7 258.4,378.8 258.5,378.8 258.6,378.8 258.7,378.8 258.8,378.8 258.9,378.8 259.0,378.8 259.1,378.8 259.2,378.8 259.3,378.8 259.4,378.8 259.5,378.8 259.6,378.8 259.7,378.9 259.8,378.9 259.9,378.9 260.0,378.9 260.1,378.9 260.2,378.9 260.3,378.9 260.4,378.9 260.5,378.9 260.6,378.9 260.7,378.9 260.8,378.9 260.9,378.9 261.0,378.9 261.1,379.0 261.2,379.0 261.3,379.0 261.4,379.0 261.5,379.0 261.6,379.0 261.7,379.0 261.8,379.0 261.9,379.0 262.0,379.0 262.1,379.0 262.2,379.0 262.3,379.0 262.4,379.0 262.5,379.0 262.6,379.1 262.7,379.1 262.8,379.1 262.9,379.1 263.0,379.1 263.1,379.1 263.2,379.1 263.3,379.1 263.4,379.1 263.5,379.1 263.6,379.1 263.7,379.1 263.8,379.1 263.9,379.1 264.0,379.1 264.1,379.1 264.2,379.2 264.3,379.2 264.4,379.2 264.5,379.2 264.6,379.2 264.7,379.2 264.8,379.2 264.9,379.2 265.0,379.2 265.1,379.2 265.2,379.2 265.3,379.2 265.5,379.2 265.6,379.2 265.7,379.2 265.8,379.2 265.9,379.2 266.0,379.2 266.1,379.3 266.2,379.3 266.3,379.3 266.4,379.3 266.5,379.3 266.6,379.3 266.7,379.3 266.8,379.3 266.9,379.3 267.0,379.3 267.1,379.3 267.2,379.3 267.3,379.3 267.4,379.3 267.5,379.3 267.6,379.3 267.7,379.3 267.8,379.3 267.9,379.3 268.0,379.4 268.1,379.4 268.2,379.4 268.3,379.4 268.4,379.4 268.5,379.4 268.6,379.4 268.7,379.4 268.8,379.4 268.9,379.4 269.0,379.4 269.1,379.4 269.2,379.4 269.3,379.4 269.4,379.4 269.5,379.4 269.6,379.4 269.7,379.4 269.8,379.4 269.9,379.4 270.0,379.4 270.1,379.4 270.2,379.5 270.3,379.5 270.4,379.5 270.5,379.5 270.6,379.5 270.7,379.5 270.8,379.5 270.9,379.5 271.0,379.5 271.1,379.5 271.2,379.5 271.3,379.5 271.4,379.5 271.5,379.5 271.6,379.5 271.7,379.5 271.8,379.5 271.9,379.5 272.0,379.5 272.1,379.5 272.2,379.5 272.3,379.5 272.4,379.5 272.5,379.5 272.6,379.6 272.7,379.6 272.8,379.6 273.0,379.6 273.1,379.6 273.2,379.6 273.3,379.6 273.4,379.6 273.5,379.6 273.6,379.6 273.7,379.6 273.8,379.6 273.9,379.6 274.0,379.6 274.1,379.6 274.2,379.6 274.3,379.6 274.4,379.6 274.5,379.6 274.6,379.6 274.7,379.6 274.8,379.6 274.9,379.6 275.0,379.6 275.1,379.6 275.2,379.6 275.3,379.6 275.4,379.6 275.5,379.7 275.6,379.7 275.7,379.7 275.8,379.7 275.9,379.7 276.0,379.7 276.1,379.7 276.2,379.7 276.3,379.7 276.4,379.7 276.5,379.7 276.6,379.7 276.7,379.7 276.8,379.7 276.9,379.7 277.0,379.7 277.1,379.7 277.2,379.7 277.3,379.7 277.4,379.7 277.5,379.7 277.6,379.7 277.7,379.7 277.8,379.7 277.9,379.7 278.0,379.7 278.1,379.7 278.2,379.7 278.3,379.7 278.4,379.7 278.5,379.7 278.6,379.7 278.7,379.8 278.8,379.8 278.9,379.8 279.0,379.8 279.1,379.8 279.2,379.8 279.3,379.8 279.4,379.8 279.5,379.8 279.6,379.8 279.7,379.8 279.8,379.8 279.9,379.8 280.0,379.8 280.1,379.8 280.2,379.8 280.3,379.8 280.5,379.8 280.6,379.8 280.7,379.8 280.8,379.8 280.9,379.8 281.0,379.8 281.1,379.8 281.2,379.8 281.3,379.8 281.4,379.8 281.5,379.8 281.6,379.8 281.7,379.8 281.8,379.8 281.9,379.8 282.0,379.8 282.1,379.8 282.2,379.8 282.3,379.8 282.4,379.8 282.5,379.8 282.6,379.8 282.7,379.9 282.8,379.9 282.9,379.9 283.0,379.9 283.1,379.9 283.2,379.9 283.3,379.9 283.4,379.9 283.5,379.9 283.6,379.9 283.7,379.9 283.8,379.9 283.9,379.9 284.0,379.9 284.1,379.9 284.2,379.9 284.3,379.9 284.4,379.9 284.5,379.9 284.6,379.9 284.7,379.9 284.8,379.9 284.9,379.9 285.0,379.9 285.1,379.9 285.2,379.9 285.3,379.9 285.4,379.9 285.5,379.9 285.6,379.9 285.7,379.9 285.8,379.9 285.9,379.9 288.0,380.0 290.0,380.0 292.0,380.0 294.0,380.0 296.1,380.1 298.1,380.1 300.1,380.1 300.2,380.1 300.3,380.1 300.4,380.1 300.5,380.1 300.6,380.1 300.7,380.1 300.8,380.1 300.9,380.1 301.0,380.1 301.1,380.1 301.2,380.1 301.3,380.1 301.4,380.1 301.5,380.8 301.6,381.4 301.7,382.0 301.8,382.7 301.9,383.3 302.0,383.3 302.1,383.2 302.2,383.2 302.3,383.1 302.4,383.1 302.5,383.1 302.6,383.1 302.7,383.0 302.8,383.0 303.0,383.0 303.1,382.9 303.2,382.9 303.3,382.9 303.4,382.9 303.5,382.8 303.6,382.8 303.7,382.8 303.8,382.8 303.9,382.7 304.0,382.7 304.1,382.7 304.2,382.7 304.3,382.7 304.4,382.6 304.5,382.6 304.6,382.6 304.7,382.6 304.8,382.6 304.9,382.6 305.0,382.5 305.1,382.5 305.2,382.5 305.3,382.5 305.4,382.5 305.5,382.5 305.6,382.4 305.7,382.4 305.8,382.4 305.9,382.4 306.0,382.4 306.1,382.4 306.2,382.4 306.3,382.3 306.4,382.3 306.5,382.3 306.6,382.3 306.7,382.3 306.8,382.3 306.9,382.3 307.0,382.3 307.1,382.2 307.2,382.2 307.3,382.2 307.4,382.2 307.5,382.2 307.6,382.2 307.7,382.2 307.8,382.2 307.9,382.2 308.0,382.1 308.1,382.1 308.2,382.1 308.3,382.1 308.4,382.1 308.5,382.1 308.6,382.1 308.7,382.1 308.8,382.1 308.9,382.1 309.0,382.0 309.1,382.0 309.2,382.0 309.3,382.0 309.4,382.0 309.5,382.0 309.6,382.0 309.7,382.0 309.8,382.0 309.9,382.0 310.0,382.0 310.1,381.9 310.2,381.9 310.3,381.9 310.5,381.9 310.6,381.9 310.7,381.9 310.8,381.9 310.9,381.9 311.0,381.9 311.1,381.9 311.2,381.9 311.3,381.9 311.4,381.8 311.5,381.8 311.6,381.8 311.7,381.8 311.8,381.8 311.9,381.8 312.0,381.8 312.1,381.8 312.2,381.8 312.3,381.8 312.4,381.8 312.5,381.8 312.6,381.7 312.7,381.7 312.8,381.7 312.9,381.7 313.0,381.7 313.1,381.7 313.2,381.7 313.3,381.7 313.4,381.7 313.5,381.7 313.6,381.7 313.7,381.7 313.8,381.7 313.9,381.7 314.0,381.6 314.1,381.6 314.2,381.6 314.3,381.6 314.4,381.6 314.5,381.6 314.6,381.6 314.7,381.6 314.8,381.6 314.9,381.6 315.0,381.6 315.1,381.6 315.2,381.6 315.3,381.6 315.4,381.6 315.5,381.5 315.6,381.5 315.7,381.5 315.8,381.5 315.9,381.5 316.0,381.5 316.1,381.5 316.2,381.5 316.3,381.5 316.4,381.5 316.5,381.5 316.6,381.5 316.7,381.5 316.8,381.5 316.9,381.5 317.0,381.5 317.1,381.4 317.2,381.4 317.3,381.4 317.4,381.4 317.5,381.4 317.6,381.4 317.7,381.4 317.8,381.4 318.0,381.4 318.1,381.4 318.2,381.4 318.3,381.4 318.4,381.4 318.5,381.4 318.6,381.4 318.7,381.4 318.8,381.4 318.9,381.4 319.0,381.3 319.1,381.3 319.2,381.3 319.3,381.3 319.4,381.3 319.5,381.3 319.6,381.3 319.7,381.3 319.8,381.3 319.9,381.3 320.0,381.3 320.1,381.3 320.2,381.3 320.3,381.3 320.4,381.3 320.5,381.3 320.6,381.3 320.7,381.3 320.8,381.3 320.9,381.2 321.0,381.2 321.1,381.2 321.2,381.2 321.3,381.2 321.4,381.2 321.5,381.2 321.6,381.2 321.7,381.2 321.8,381.2 321.9,381.2 322.0,381.2 322.1,381.2 322.2,381.2 322.3,381.2 322.4,381.2 322.5,381.2 322.6,381.2 322.7,381.2 322.8,381.2 322.9,381.2 323.0,381.1 323.1,381.1 323.2,381.1 323.3,381.1 323.4,381.1 323.5,381.1 323.6,381.1 323.7,381.1 323.8,381.1 323.9,381.1 324.0,381.1 324.1,381.1 324.2,381.1 324.3,381.1 324.4,381.1 324.5,381.1 324.6,381.1 324.7,381.1 324.8,381.1 324.9,381.1 325.0,381.1 325.1,381.1 325.2,381.1 325.3,381.1 325.5,381.1 325.6,381.0 325.7,381.0 325.8,381.0 325.9,381.0 326.0,381.0 326.1,381.0 326.2,381.0 326.3,381.0 326.4,381.0 326.5,381.0 326.6,381.0 326.7,381.0 326.8,381.0 326.9,381.0 327.0,381.0 327.1,381.0 327.2,381.0 327.3,381.0 327.4,381.0 327.5,381.0 327.6,381.0 327.7,381.0 327.8,381.0 327.9,381.0 328.0,381.0 328.1,381.0 328.2,381.0 328.3,381.0 328.4,380.9 328.5,380.9 328.6,380.9 328.7,380.9 328.8,380.9 328.9,380.9 329.0,380.9 329.1,380.9 329.2,380.9 329.3,380.9 329.4,380.9 329.5,380.9 329.6,380.9 329.7,380.9 329.8,380.9 329.9,380.9 330.0,380.9 330.1,380.9 330.2,380.9 330.3,380.9 330.4,380.9 330.5,380.9 330.6,380.9 330.7,380.9 330.8,380.9 330.9,380.9 331.0,380.9 331.1,380.9 331.2,380.9 331.3,380.9 331.4,380.9 331.5,380.9 331.6,380.8 331.7,380.8 331.8,380.8 331.9,380.8 332.0,380.8 332.1,380.8 332.2,380.8 332.3,380.8 332.4,380.8 332.5,380.8 332.6,380.8 332.7,380.8 332.8,380.8 333.0,380.8 333.1,380.8 333.2,380.8 333.3,380.8 333.4,380.8 333.5,380.8 333.6,380.8 333.7,380.8 333.8,380.8 333.9,380.8 334.0,380.8 334.1,380.8 334.2,380.8 334.3,380.8 334.4,380.8 334.5,380.8 334.6,380.8 334.7,380.8 334.8,380.8 334.9,380.8 335.0,380.8 335.1,380.8 335.2,380.8 335.3,380.8 335.4,380.8 335.5,380.8 335.6,380.7 335.7,380.7 335.8,380.7 335.9,380.7 336.0,380.7 336.1,380.7 336.2,380.7 336.3,380.7 336.4,380.7 336.5,380.7 336.6,380.7 336.7,380.7 336.8,380.7 336.9,380.7 337.0,380.7 337.1,380.7 337.2,380.7 337.3,380.7 337.4,380.7 337.5,380.7 337.6,380.7 337.7,380.7 337.8,380.7 337.9,380.7 338.0,380.7 338.1,380.7 338.2,380.7 338.3,380.7 338.4,380.7 338.5,380.7 338.6,380.7 338.7,380.7 338.8,380.7 338.9,380.7 339.0,380.7 339.1,380.7 339.2,380.7 339.3,380.7 339.4,380.7 339.5,380.7 339.6,380.7 339.7,380.7 339.8,380.7 339.9,380.7 340.0,380.7 340.1,380.7 340.2,380.7 340.3,380.7 340.5,380.7 340.6,380.6 340.7,380.6 340.8,380.6 340.9,380.6 341.0,380.6 341.1,380.6 341.2,380.6 341.3,380.6 341.4,380.6 341.5,380.6 341.6,380.6 341.7,380.6 341.8,380.6 341.9,380.6 342.0,380.6 342.1,380.6 342.2,380.6 342.3,380.6 342.4,380.6 342.5,380.6 342.6,380.6 342.7,380.6 342.8,380.6 342.9,380.6 343.0,380.6 343.1,380.6 343.2,380.6 343.3,380.6 343.4,380.6 343.5,380.6 343.6,380.6 343.7,380.6 343.8,380.6 343.9,380.6 344.0,380.6 344.1,380.6 344.2,380.6 344.3,380.6 344.4,380.6 344.5,380.6 344.6,380.6 344.7,380.6 344.8,380.6 344.9,380.6 345.0,380.6 345.1,380.6 345.2,380.6 345.3,380.6 345.4,380.6 345.5,380.6 345.6,380.6 345.7,380.6 345.8,380.6 345.9,380.6 346.0,380.6 346.1,380.6 346.2,380.6 346.3,380.6 346.4,380.6 346.5,380.6 346.6,380.6 346.7,380.6 346.8,380.6 346.9,380.6 347.0,380.6 347.1,380.5 347.2,380.5 347.3,380.5 347.4,380.5 347.5,380.5 347.6,380.5 347.7,380.5 347.8,380.5 348.0,380.5 348.1,380.5 348.2,380.5 348.3,380.5 348.4,380.5 348.5,380.5 348.6,380.5 348.7,380.5 348.8,380.5 348.9,380.5 349.0,380.5 349.1,380.5 349.2,380.5 349.3,380.5 349.4,380.5 349.5,380.5 349.6,380.5 349.7,380.5 349.8,380.5 349.9,380.5 350.0,380.5 350.1,380.5 350.2,380.5 350.3,380.5 350.4,380.5 350.5,380.5 350.6,380.5 350.7,380.5 350.8,380.5 350.9,380.5 351.0,380.5 351.1,380.5 351.2,380.5 351.3,380.5 351.4,380.5 351.5,380.5 351.6,380.5 351.7,380.5 351.8,380.5 351.9,380.5 352.0,380.5 352.1,380.5 352.2,380.5 352.3,380.5 352.4,380.5 352.5,380.5 352.6,380.5 352.7,380.5 352.8,380.5 352.9,380.5 353.0,380.5 353.1,380.5 353.2,380.5 353.3,380.5 353.4,380.5 353.5,380.5 353.6,380.5 353.7,380.5 353.8,380.5 353.9,380.5 354.0,380.5 354.1,380.5 354.2,380.5 354.3,380.5 354.4,380.5 354.5,380.5 354.6,380.5 354.7,380.5 354.8,380.5 354.9,380.5 355.0,380.5 355.1,380.5 355.2,380.5 355.3,380.5 355.5,380.5 355.6,380.5 355.7,380.5 355.8,380.5 355.9,380.5 356.0,380.5 356.1,380.5 356.2,380.5 356.3,380.5 356.4,380.5 356.5,380.5 356.6,380.5 356.7,380.5 356.8,380.5 356.9,380.5 357.0,380.5 357.1,380.5 357.2,380.4 357.3,380.4 357.4,380.4 357.5,380.4 357.6,380.4 357.7,380.4 357.8,380.4 357.9,380.4 358.0,380.4 358.1,380.4 358.2,380.4 358.3,380.4 358.4,380.4 358.5,380.4 358.6,380.4 358.7,380.4 358.8,380.4 358.9,380.4 359.0,380.4 359.1,380.4 359.2,380.4 359.3,380.4 359.4,380.4 359.5,380.4 359.6,380.4 359.7,380.4 359.8,380.4 359.9,380.4 360.0,380.4 360.1,380.4 360.2,380.4 360.3,380.4 360.4,380.4 360.5,380.4 360.6,380.4 360.7,380.4 360.8,380.4 360.9,380.4 361.0,380.4 361.1,380.4 361.2,380.4 361.3,380.4 361.4,380.4 361.5,380.4 361.6,380.4 361.7,380.4 361.8,380.4 361.9,380.4 362.0,380.4 362.1,380.4 362.2,380.4 362.3,380.4 362.4,380.4 362.5,380.4 362.6,380.4 362.7,380.4 362.8,380.4 362.9,380.4 363.1,380.4 363.2,380.4 363.3,380.4 363.4,380.4 363.5,380.4 363.6,380.4 363.7,380.4 363.8,380.4 363.9,380.4 364.0,380.4 364.1,380.4 364.2,380.4 364.3,380.4 364.4,380.4 364.5,380.4 364.6,380.4 364.7,380.4 364.8,380.4 364.9,380.4 365.0,380.4 365.1,380.4 365.2,380.4 365.3,380.4 365.4,380.4 365.5,380.4 365.6,380.4 365.7,380.4 365.8,380.4 365.9,380.4 366.0,380.4 366.1,380.4 366.2,380.4 366.3,380.4 366.4,380.4 366.5,380.4 366.6,380.4 366.7,380.4 366.8,380.4 366.9,380.4 367.0,380.4 369.0,380.4 371.1,380.4 373.1,380.4 375.1,380.4 377.1,380.4 379.2,380.3 381.2,380.3 381.3,380.3 381.4,380.3 381.5,380.3 381.6,380.3 381.7,380.3 381.8,380.3 381.9,380.3 382.0,380.3 382.1,380.3 382.2,380.3 382.3,380.3 382.4,380.3 382.5,380.3 382.6,380.0 382.7,379.7 382.8,379.4 382.9,379.1 383.0,378.8 383.1,378.8 383.2,378.8 383.3,378.8 383.4,378.8 383.5,378.8 383.6,378.9 383.7,378.9 383.8,378.9 383.9,378.9 384.0,378.9 384.1,378.9 384.2,379.0 384.3,379.0 384.4,379.0 384.5,379.0 384.6,379.0 384.7,379.0 384.8,379.0 384.9,379.0 385.0,379.0 385.1,379.1 385.2,379.1 385.3,379.1 385.4,379.1 385.6,379.1 385.7,379.1 385.8,379.1 385.9,379.1 386.0,379.1 386.1,379.1 386.2,379.1 386.3,379.2 386.4,379.2 386.5,379.2 386.6,379.2 386.7,379.2 386.8,379.2 386.9,379.2 387.0,379.2 387.1,379.2 387.2,379.2 387.3,379.2 387.4,379.2 387.5,379.2 387.6,379.3 387.7,379.3 387.8,379.3 387.9,379.3 388.0,379.3 388.1,379.3 388.2,379.3 388.3,379.3 388.4,379.3 388.5,379.3 388.6,379.3 388.7,379.3 388.8,379.3 388.9,379.3 389.0,379.3 389.1,379.3 389.2,379.3 389.3,379.4 389.4,379.4 389.5,379.4 389.6,379.4 389.7,379.4 389.8,379.4 389.9,379.4 390.0,379.4 390.1,379.4 390.2,379.4 390.3,379.4 390.4,379.4 390.5,379.4 390.6,379.4 390.7,379.4 390.8,379.4 390.9,379.4 391.0,379.4 391.1,379.4 391.2,379.4 391.3,379.5 391.4,379.5 391.5,379.5 391.6,379.5 391.7,379.5 391.8,379.5 391.9,379.5 392.0,379.5 392.1,379.5 392.2,379.5 392.3,379.5 392.4,379.5 392.5,379.5 392.6,379.5 392.7,379.5 392.8,379.5 392.9,379.5 393.1,379.5 393.2,379.5 393.3,379.5 393.4,379.5 393.5,379.5 393.6,379.5 393.7,379.6 393.8,379.6 393.9,379.6 394.0,379.6 394.1,379.6 394.2,379.6 394.3,379.6 394.4,379.6 394.5,379.6 394.6,379.6 394.7,379.6 394.8,379.6 394.9,379.6 395.0,379.6 395.1,379.6 395.2,379.6 395.3,379.6 395.4,379.6 395.5,379.6 395.6,379.6 395.7,379.6 395.8,379.6 395.9,379.6 396.0,379.6 396.1,379.6 396.2,379.6 396.3,379.6 396.4,379.6 396.5,379.7 396.6,379.7 396.7,379.7 396.8,379.7 396.9,379.7 397.0,379.7 397.1,379.7 397.2,379.7 397.3,379.7 397.4,379.7 397.5,379.7 397.6,379.7 397.7,379.7 397.8,379.7 397.9,379.7 398.0,379.7 398.1,379.7 398.2,379.7 398.3,379.7 398.4,379.7 398.5,379.7 398.6,379.7 398.7,379.7 398.8,379.7 398.9,379.7 399.0,379.7 399.1,379.7 399.2,379.7 399.3,379.7 399.4,379.7 399.5,379.7 399.6,379.7 399.7,379.8 399.8,379.8 399.9,379.8 400.0,379.8 400.1,379.8 400.2,379.8 400.3,379.8 400.4,379.8 400.6,379.8 400.7,379.8 400.8,379.8 400.9,379.8 401.0,379.8 401.1,379.8 401.2,379.8 401.3,379.8 401.4,379.8 401.5,379.8 401.6,379.8 401.7,379.8 401.8,379.8 401.9,379.8 402.0,379.8 402.1,379.8 402.2,379.8 402.3,379.8 402.4,379.8 402.5,379.8 402.6,379.8 402.7,379.8 402.8,379.8 402.9,379.8 403.0,379.8 403.1,379.8 403.2,379.8 403.3,379.8 403.4,379.8 403.5,379.8 403.6,379.8 403.7,379.9 403.8,379.9 403.9,379.9 404.0,379.9 404.1,379.9 404.2,379.9 404.3,379.9 404.4,379.9 404.5,379.9 404.6,379.9 404.7,379.9 404.8,379.9 404.9,379.9 405.0,379.9 405.1,379.9 405.2,379.9 405.3,379.9 405.4,379.9 405.5,379.9 405.6,379.9 405.7,379.9 405.8,379.9 405.9,379.9 406.0,379.9 406.1,379.9 406.2,379.9 406.3,379.9 406.4,379.9 406.5,379.9 406.6,379.9 406.7,379.9 406.8,379.9 406.9,379.9 407.0,379.9 407.1,379.9 407.2,379.9 407.3,379.9 407.4,379.9 407.5,379.9 407.6,379.9 407.7,379.9 407.8,379.9 407.9,379.9 408.1,379.9 408.2,379.9 408.3,379.9 408.4,379.9 408.5,379.9 408.6,379.9 408.7,380.0 408.8,380.0 408.9,380.0 409.0,380.0 409.1,380.0 409.2,380.0 409.3,380.0 409.4,380.0 409.5,380.0 409.6,380.0 409.7,380.0 409.8,380.0 409.9,380.0 410.0,380.0 410.1,380.0 410.2,380.0 410.3,380.0 410.4,380.0 410.5,380.0 410.6,380.0 410.7,380.0 410.8,380.0 410.9,380.0 411.0,380.0 411.1,380.0 411.2,380.0 411.3,380.0 411.4,380.0 411.5,380.0 411.6,380.0 411.7,380.0 411.8,380.0 411.9,380.0 412.0,380.0 412.1,380.0 412.2,380.0 412.3,380.0 412.4,380.0 412.5,380.0 412.6,380.0 412.7,380.0 412.8,380.0 412.9,380.0 413.0,380.0 413.1,380.0 413.2,380.0 413.3,380.0 413.4,380.0 413.5,380.0 413.6,380.0 413.7,380.0 413.8,380.0 413.9,380.0 414.0,380.0 414.1,380.0 414.2,380.0 414.3,380.0 414.4,380.0 414.5,380.0 414.6,380.0 414.7,380.0 414.8,380.0 414.9,380.0 415.0,380.0 415.1,380.0 415.2,380.1 415.3,380.1 415.4,380.1 415.6,380.1 415.7,380.1 415.8,380.1 415.9,380.1 416.0,380.1 416.1,380.1 416.2,380.1 416.3,380.1 416.4,380.1 416.5,380.1 416.6,380.1 416.7,380.1 416.8,380.1 416.9,380.1 417.0,380.1 417.1,380.1 417.2,380.1 417.3,380.1 417.4,380.1 417.5,380.1 417.6,380.1 417.7,380.1 417.8,380.1 417.9,380.1 418.0,380.1 418.1,380.1 418.2,380.1 418.3,380.1 418.4,380.1 418.5,380.1 418.6,380.1 418.7,380.1 418.8,380.1 418.9,380.1 419.0,380.1 419.1,380.1 419.2,380.1 419.3,380.1 419.4,380.1 419.5,380.1 419.6,380.1 419.7,380.1 419.8,380.1 419.9,380.1 420.0,380.1 420.1,380.1 420.2,380.1 420.3,380.1 420.4,380.1 420.5,380.1 420.6,380.1 420.7,380.1 420.8,380.1 420.9,380.1 421.0,380.1 421.1,380.1 421.2,380.1 421.3,380.1 421.4,380.1 421.5,380.1 421.6,380.1 421.7,380.1 421.8,380.1 421.9,380.1 422.0,380.1 422.1,380.1 422.2,380.1 422.3,380.1 422.4,380.1 422.5,380.1 422.6,380.1 422.7,380.1 422.8,380.1 422.9,380.1 423.1,380.1 423.2,380.1 423.3,380.1 423.4,380.1 423.5,380.1 423.6,380.1 423.7,380.1 423.8,380.1 423.9,380.1 424.0,380.1 424.1,380.1 424.2,380.1 424.3,380.1 424.4,380.1 424.5,380.1 424.6,380.1 424.7,380.1 424.8,380.1 424.9,380.1 425.0,380.1 425.1,380.1 425.2,380.1 425.3,380.2 425.4,380.2 425.5,380.2 425.6,380.2 425.7,380.2 425.8,380.2 425.9,380.2 426.0,380.2 426.1,380.2 426.2,380.2 426.3,380.2 426.4,380.2 426.5,380.2 426.6,380.2 426.7,380.2 426.8,380.2 426.9,380.2 427.0,380.2 427.1,380.2 427.2,380.2 427.3,380.2 427.4,380.2 427.5,380.2 427.6,380.2 427.7,380.2 427.8,380.2 427.9,380.2 428.0,380.2 428.1,380.2 428.2,380.2 428.3,380.2 428.4,380.2 428.5,380.2 428.6,380.2 428.7,380.2 428.8,380.2 428.9,380.2 429.0,380.2 429.1,380.2 429.2,380.2 429.3,380.2 429.4,380.2 429.5,380.2 429.6,380.2 429.7,380.2 429.8,380.2 429.9,380.2 430.0,380.2 430.1,380.2 430.2,380.2 430.3,380.2 430.4,380.2 430.6,380.2 430.7,380.2 430.8,380.2 430.9,380.2 431.0,380.2 431.1,380.2 431.2,380.2 431.3,380.2 431.4,380.2 431.5,380.2 431.6,380.2 431.7,380.2 431.8,380.2 431.9,380.2 432.0,380.2 432.1,380.2 432.2,380.2 432.3,380.2 432.4,380.2 432.5,380.2 432.6,380.2 432.7,380.2 432.8,380.2 432.9,380.2 433.0,380.2 433.1,380.2 433.2,380.2 433.3,380.2 433.4,380.2 433.5,380.2 433.6,380.2 433.7,380.2 433.8,380.2 433.9,380.2 434.0,380.2 434.1,380.2 434.2,380.2 434.3,380.2 434.4,380.2 434.5,380.2 434.6,380.2 434.7,380.2 434.8,380.2 434.9,380.2 435.0,380.2 435.1,380.2 435.2,380.2 435.3,380.2 435.4,380.2 435.5,380.2 435.6,380.2 435.7,380.2 435.8,380.2 435.9,380.2 436.0,380.2 436.1,380.2 436.2,380.2 436.3,380.2 436.4,380.2 436.5,380.2 436.6,380.2 436.7,380.2 436.8,380.2 436.9,380.2 437.0,380.2 437.1,380.2 437.2,380.2 437.3,380.2 437.4,380.2 437.5,380.2 437.6,380.2 437.7,380.2 437.8,380.2 437.9,380.2 438.1,380.2 438.2,380.2 438.3,380.2 438.4,380.2 438.5,380.2 438.6,380.2 438.7,380.2 438.8,380.2 438.9,380.2 439.0,380.2 439.1,380.2 439.2,380.2 439.3,380.2 439.4,380.2 439.5,380.2 439.6,380.2 439.7,380.2 439.8,380.2 439.9,380.2 440.0,380.2 440.1,380.2 440.2,380.2 440.3,380.2 440.4,380.2 440.5,380.2 440.6,380.2 440.7,380.2 440.8,380.2 440.9,380.2 441.0,380.2 441.1,380.2 441.2,380.2 441.3,380.2 441.4,380.2 441.5,380.2 441.6,380.2 441.7,380.2 441.8,380.2 441.9,380.2 442.0,380.2 442.1,380.2 442.2,380.2 442.3,380.2 442.4,380.2 442.5,380.2 442.6,380.2 442.7,380.2 442.8,380.2 442.9,380.2 443.0,380.2 443.1,380.2 443.2,380.2 443.3,380.2 443.4,380.2 443.5,380.2 443.6,380.2 443.7,380.2 443.8,380.2 443.9,380.2 444.0,380.2 444.1,380.2 444.2,380.2 444.3,380.2 444.4,380.2 444.5,380.2 444.6,380.2 444.7,380.2 444.8,380.2 444.9,380.2 445.0,380.2 445.1,380.2 445.2,380.2 445.3,380.2 445.4,380.2 445.6,380.2 445.7,380.2 445.8,380.2 445.9,380.2 446.0,380.2 446.1,380.2 446.2,380.2 446.3,380.2 446.4,380.2 446.5,380.2 446.6,380.2 446.7,380.2 446.8,380.2 446.9,380.3 447.0,380.3 447.1,380.3 447.2,380.3 447.3,380.3 447.4,380.3 447.5,380.3 447.6,380.3 447.7,380.3 447.8,380.3 447.9,380.3 448.0,380.3 448.1,380.3 450.1,380.3 452.1,380.3 454.2,380.3 456.2,380.3 458.2,380.3 460.2,380.3 462.3,380.3 464.3,380.3" stroke="#4aa6e6" stroke-width="4.0"/>
<polyline points="58.9,383.4 59.0,383.4 59.1,383.3 59.2,383.3 59.3,383.2 59.4,383.2 59.5,383.2 59.6,383.2 59.7,383.1 59.8,383.1 59.9,383.1 60.0,383.0 60.1,383.0 60.2,383.0 60.3,383.0 60.4,382.9 60.5,382.9 60.6,382.9 60.7,382.9 60.8,382.9 60.9,382.8 61.0,382.8 61.1,382.8 61.2,382.8 61.3,382.8 61.4,382.7 61.5,382.7 61.6,382.7 61.7,382.7 61.8,382.7 61.9,382.7 62.0,382.6 62.1,382.6 62.2,382.6 62.3,382.6 62.4,382.6 62.5,382.6 62.6,382.5 62.8,382.5 62.9,382.5 63.0,382.5 63.1,382.5 63.2,382.5 63.3,382.5 63.4,382.4 63.5,382.4 63.6,382.4 63.7,382.4 63.8,382.4 63.9,382.4 64.0,382.4 64.1,382.4 64.2,382.3 64.3,382.3 64.4,382.3 64.5,382.3 64.6,382.3 64.7,382.3 64.8,382.3 64.9,382.3 65.0,382.2 65.1,382.2 65.2,382.2 65.3,382.2 65.4,382.2 65.5,382.2 65.6,382.2 65.7,382.2 65.8,382.2 65.9,382.2 66.0,382.1 66.1,382.1 66.2,382.1 66.3,382.1 66.4,382.1 66.5,382.1 66.6,382.1 66.7,382.1 66.8,382.1 66.9,382.1 67.0,382.0 67.1,382.0 67.2,382.0 67.3,382.0 67.4,382.0 67.5,382.0 67.6,382.0 67.7,382.0 67.8,382.0 67.9,382.0 68.0,382.0 68.1,381.9 68.2,381.9 68.3,381.9 68.4,381.9 68.5,381.9 68.6,381.9 68.7,381.9 68.8,381.9 68.9,381.9 69.0,381.9 69.1,381.9 69.2,381.9 69.3,381.8 69.4,381.8 69.5,381.8 69.6,381.8 69.7,381.8 69.8,381.8 69.9,381.8 70.0,381.8 70.1,381.8 70.3,381.8 70.4,381.8 70.5,381.8 70.6,381.8 70.7,381.7 70.8,381.7 70.9,381.7 71.0,381.7 71.1,381.7 71.2,381.7 71.3,381.7 71.4,381.7 71.5,381.7 71.6,381.7 71.7,381.7 71.8,381.7 71.9,381.7 72.0,381.7 72.1,381.6 72.2,381.6 72.3,381.6 72.4,381.6 72.5,381.6 72.6,381.6 72.7,381.6 72.8,381.6 72.9,381.6 73.0,381.6 73.1,381.6 73.2,381.6 73.3,381.6 73.4,381.6 73.5,381.5 73.6,381.5 73.7,381.5 73.8,381.5 73.9,381.5 74.0,381.5 74.1,381.5 74.2,381.5 74.3,381.5 74.4,381.5 74.5,381.5 74.6,381.5 74.7,381.5 74.8,381.5 74.9,381.5 75.0,381.5 75.1,381.5 75.2,381.4 75.3,381.4 75.4,381.4 75.5,381.4 75.6,381.4 75.7,381.4 75.8,381.4 75.9,381.4 76.0,381.4 76.1,381.4 76.2,381.4 76.3,381.4 76.4,381.4 76.5,381.4 76.6,381.4 76.7,381.4 76.8,381.4 76.9,381.3 77.0,381.3 77.1,381.3 77.2,381.3 77.3,381.3 77.4,381.3 77.5,381.3 77.6,381.3 77.8,381.3 77.9,381.3 78.0,381.3 78.1,381.3 78.2,381.3 78.3,381.3 78.4,381.3 78.5,381.3 78.6,381.3 78.7,381.3 78.8,381.3 78.9,381.3 79.0,381.2 79.1,381.2 79.2,381.2 79.3,381.2 79.4,381.2 79.5,381.2 79.6,381.2 79.7,381.2 79.8,381.2 79.9,381.2 80.0,381.2 80.1,381.2 80.2,381.2 80.3,381.2 80.4,381.2 80.5,381.2 80.6,381.2 80.7,381.2 80.8,381.2 80.9,381.2 81.0,381.2 81.1,381.1 81.2,381.1 81.3,381.1 81.4,381.1 81.5,381.1 81.6,381.1 81.7,381.1 81.8,381.1 81.9,381.1 82.0,381.1 82.1,381.1 82.2,381.1 82.3,381.1 82.4,381.1 82.5,381.1 82.6,381.1 82.7,381.1 82.8,381.1 82.9,381.1 83.0,381.1 83.1,381.1 83.2,381.1 83.3,381.1 83.4,381.1 83.5,381.1 83.6,381.0 83.7,381.0 83.8,381.0 83.9,381.0 84.0,381.0 84.1,381.0 84.2,381.0 84.3,381.0 84.4,381.0 84.5,381.0 84.6,381.0 84.7,381.0 84.8,381.0 84.9,381.0 85.0,381.0 85.1,381.0 85.3,381.0 85.4,381.0 85.5,381.0 85.6,381.0 85.7,381.0 85.8,381.0 85.9,381.0 86.0,381.0 86.1,381.0 86.2,381.0 86.3,381.0 86.4,380.9 86.5,380.9 86.6,380.9 86.7,380.9 86.8,380.9 86.9,380.9 87.0,380.9 87.1,380.9 87.2,380.9 87.3,380.9 87.4,380.9 87.5,380.9 87.6,380.9 87.7,380.9 87.8,380.9 87.9,380.9 88.0,380.9 88.1,380.9 88.2,380.9 88.3,380.9 88.4,380.9 88.5,380.9 88.6,380.9 88.7,380.9 88.8,380.9 88.9,380.9 89.0,380.9 89.1,380.9 89.2,380.9 89.3,380.9 89.4,380.9 89.5,380.9 89.6,380.9 89.7,380.8 89.8,380.8 89.9,380.8 90.0,380.8 90.1,380.8 90.2,380.8 90.3,380.8 90.4,380.8 90.5,380.8 90.6,380.8 90.7,380.8 90.8,380.8 90.9,380.8 91.0,380.8 91.1,380.8 91.2,380.8 91.3,380.8 91.4,380.8 91.5,380.8 91.6,380.8 91.7,380.8 91.8,380.8 91.9,380.8 92.0,380.8 92.1,380.8 92.2,380.8 92.3,380.8 92.4,380.8 92.5,380.8 92.6,380.8 92.8,380.8 92.9,380.8 93.0,380.8 93.1,380.8 93.2,380.8 93.3,380.8 93.4,380.8 93.5,380.8 93.6,380.8 93.7,380.7 93.8,380.7 93.9,380.7 94.0,380.7 94.1,380.7 94.2,380.7 94.3,380.7 94.4,380.7 94.5,380.7 94.6,380.7 94.7,380.7 94.8,380.7 94.9,380.7 95.0,380.7 95.1,380.7 95.2,380.7 95.3,380.7 95.4,380.7 95.5,380.7 95.6,380.7 95.7,380.7 95.8,380.7 95.9,380.7 96.0,380.7 96.1,380.7 96.2,380.7 96.3,380.7 96.4,380.7 96.5,380.7 96.6,380.7 96.7,380.7 96.8,380.7 96.9,380.7 97.0,380.7 97.1,380.7 97.2,380.7 97.3,380.7 97.4,380.7 97.5,380.7 97.6,380.7 97.7,380.7 97.8,380.7 97.9,380.7 98.0,380.7 98.1,380.7 98.2,380.7 98.3,380.7 98.4,380.7 98.5,380.6 98.6,380.6 98.7,380.6 98.8,380.6 98.9,380.6 99.0,380.6 99.1,380.6 99.2,380.6 99.3,380.6 99.4,380.6 99.5,380.6 99.6,380.6 99.7,380.6 99.8,380.6 99.9,380.6 100.0,380.6 100.1,380.6 100.3,380.6 100.4,380.6 100.5,380.6 100.6,380.6 100.7,380.6 100.8,380.6 100.9,380.6 101.0,380.6 101.1,380.6 101.2,380.6 101.3,380.6 101.4,380.6 101.5,380.6 101.6,380.6 101.7,380.6 101.8,380.6 101.9,380.6 102.0,380.6 102.1,380.6 102.2,380.6 102.3,380.6 102.4,380.6 102.5,380.6 102.6,380.6 102.7,380.6 102.8,380.6 102.9,380.6 103.0,380.6 103.1,380.6 103.2,380.6 103.3,380.6 103.4,380.6 103.5,380.6 103.6,380.6 103.7,380.6 103.8,380.6 103.9,380.6 104.0,380.6 104.1,380.6 104.2,380.6 104.3,380.6 104.4,380.6 104.5,380.6 104.6,380.6 104.7,380.6 104.8,380.6 104.9,380.6 105.0,380.6 105.1,380.6 105.2,380.5 105.3,380.5 105.4,380.5 105.5,380.5 105.6,380.5 105.7,380.5 105.8,380.5 105.9,380.5 106.0,380.5 106.1,380.5 106.2,380.5 106.3,380.5 106.4,380.5 106.5,380.5 106.6,380.5 106.7,380.5 106.8,380.5 106.9,380.5 107.0,380.5 107.1,380.5 107.2,380.5 107.3,380.5 107.4,380.5 107.5,380.5 107.6,380.5 107.8,380.5 107.9,380.5 108.0,380.5 108.1,380.5 108.2,380.5 108.3,380.5 108.4,380.5 108.5,380.5 108.6,380.5 108.7,380.5 108.8,380.5 108.9,380.5 109.0,380.5 109.1,380.5 109.2,380.5 109.3,380.5 109.4,380.5 109.5,380.5 109.6,380.5 109.7,380.5 109.8,380.5 109.9,380.5 110.0,380.5 110.1,380.5 110.2,380.5 110.3,380.5 110.4,380.5 110.5,380.5 110.6,380.5 110.7,380.5 110.8,380.5 110.9,380.5 111.0,380.5 111.1,380.5 111.2,380.5 111.3,380.5 111.4,380.5 111.5,380.5 111.6,380.5 111.7,380.5 111.8,380.5 111.9,380.5 112.0,380.5 112.1,380.5 112.2,380.5 112.3,380.5 112.4,380.5 112.5,380.5 112.6,380.5 112.7,380.5 112.8,380.5 112.9,380.5 113.0,380.5 113.1,380.5 113.2,380.5 113.3,380.5 113.4,380.5 113.5,380.5 113.6,380.5 113.7,380.5 113.8,380.5 113.9,380.5 114.0,380.5 114.1,380.5 114.2,380.5 114.3,380.5 114.4,380.5 114.5,380.5 114.6,380.5 114.7,380.5 114.8,380.5 114.9,380.5 115.0,380.5 115.1,380.5 115.3,380.4 115.4,380.4 115.5,380.4 115.6,380.4 115.7,380.4 115.8,380.4 115.9,380.4 116.0,380.4 116.1,380.4 116.2,380.4 116.3,380.4 116.4,380.4 116.5,380.4 116.6,380.4 116.7,380.4 116.8,380.4 116.9,380.4 117.0,380.4 117.1,380.4 117.2,380.4 117.3,380.4 117.4,380.4 117.5,380.4 117.6,380.4 117.7,380.4 117.8,380.4 117.9,380.4 118.0,380.4 118.1,380.4 118.2,380.4 118.3,380.4 118.4,380.4 118.5,380.4 118.6,380.4 118.7,380.4 118.8,380.4 118.9,380.4 119.0,380.4 119.1,380.4 119.2,380.4 119.3,380.4 119.4,380.4 119.5,380.4 119.6,380.4 119.7,380.4 119.8,380.4 119.9,380.4 120.0,380.4 120.1,380.4 120.2,380.4 120.3,380.4 120.4,380.4 120.5,380.4 120.6,380.4 120.7,380.4 120.8,380.4 120.9,380.4 121.0,380.4 121.1,380.4 121.2,380.4 121.3,380.4 121.4,380.4 121.5,380.4 121.6,380.4 121.7,380.4 121.8,380.4 121.9,380.4 122.0,380.4 122.1,380.4 122.2,380.4 122.3,380.4 122.4,380.4 122.5,380.4 122.6,380.4 122.8,380.4 122.9,380.4 123.0,380.4 123.1,380.4 123.2,380.4 123.3,380.4 123.4,380.4 123.5,380.4 123.6,380.4 123.7,380.4 123.8,380.4 125.8,380.4 127.8,380.4 129.8,380.4 131.9,380.4 133.9,380.4 135.9,380.4 138.0,380.3 138.1,380.3 138.2,380.3 138.3,380.3 138.4,380.3 138.5,380.3 138.6,380.3 138.7,380.3 138.8,380.3 138.9,380.3 139.0,380.3 139.1,380.3 139.2,380.3 139.3,380.3 139.4,382.9 139.5,385.4 139.6,387.9 139.7,390.5 139.8,393.0 139.9,392.8 140.0,392.7 140.1,392.5 140.2,392.4 140.3,392.3 140.4,392.1 140.5,392.0 140.6,391.9 140.7,391.8 140.8,391.7 140.9,391.5 141.0,391.4 141.1,391.3 141.2,391.2 141.3,391.1 141.4,391.0 141.5,390.9 141.6,390.8 141.7,390.7 141.8,390.7 141.9,390.6 142.0,390.5 142.1,390.4 142.2,390.3 142.3,390.2 142.4,390.2 142.5,390.1 142.6,390.0 142.7,390.0 142.8,389.9 142.9,389.8 143.0,389.7 143.1,389.7 143.2,389.6 143.3,389.5 143.4,389.5 143.5,389.4 143.6,389.4 143.7,389.3 143.8,389.2 143.9,389.2 144.0,389.1 144.1,389.1 144.2,389.0 144.3,389.0 144.4,388.9 144.5,388.9 144.6,388.8 144.7,388.7 144.8,388.7 144.9,388.6 145.0,388.6 145.1,388.5 145.3,388.5 145.4,388.5 145.5,388.4 145.6,388.4 145.7,388.3 145.8,388.3 145.9,388.2 146.0,388.2 146.1,388.1 146.2,388.1 146.3,388.0 146.4,388.0 146.5,388.0 146.6,387.9 146.7,387.9 146.8,387.8 146.9,387.8 147.0,387.7 147.1,387.7 147.2,387.7 147.3,387.6 147.4,387.6 147.5,387.5 147.6,387.5 147.7,387.5 147.8,387.4 147.9,387.4 148.0,387.4 148.1,387.3 148.2,387.3 148.3,387.2 148.4,387.2 148.5,387.2 148.6,387.1 148.7,387.1 148.8,387.1 148.9,387.0 149.0,387.0 149.1,386.9 149.2,386.9 149.3,386.9 149.4,386.8 149.5,386.8 149.6,386.8 149.7,386.7 149.8,386.7 149.9,386.7 150.0,386.6 150.1,386.6 150.2,386.6 150.3,386.5 150.4,386.5 150.5,386.5 150.6,386.4 150.7,386.4 150.8,386.4 150.9,386.3 151.0,386.3 151.1,386.3 151.2,386.3 151.3,386.2 151.4,386.2 151.5,386.2 151.6,386.1 151.7,386.1 151.8,386.1 151.9,386.0 152.0,386.0 152.1,386.0 152.2,386.0 152.3,385.9 152.4,385.9 152.5,385.9 152.6,385.8 152.8,385.8 152.9,385.8 153.0,385.8 153.1,385.7 153.2,385.7 153.3,385.7 153.4,385.6 153.5,385.6 153.6,385.6 153.7,385.6 153.8,385.5 153.9,385.5 154.0,385.5 154.1,385.5 154.2,385.4 154.3,385.4 154.4,385.4 154.5,385.3 154.6,385.3 154.7,385.3 154.8,385.3 154.9,385.2 155.0,385.2 155.1,385.2 155.2,385.2 155.3,385.1 155.4,385.1 155.5,385.1 155.6,385.1 155.7,385.0 155.8,385.0 155.9,385.0 156.0,385.0 156.1,384.9 156.2,384.9 156.3,384.9 156.4,384.9 156.5,384.9 156.6,384.8 156.7,384.8 156.8,384.8 156.9,384.8 157.0,384.7 157.1,384.7 157.2,384.7 157.3,384.7 157.4,384.6 157.5,384.6 157.6,384.6 157.7,384.6 157.8,384.6 157.9,384.5 158.0,384.5 158.1,384.5 158.2,384.5 158.3,384.4 158.4,384.4 158.5,384.4 158.6,384.4 158.7,384.4 158.8,384.3 158.9,384.3 159.0,384.3 159.1,384.3 159.2,384.3 159.3,384.2 159.4,384.2 159.5,384.2 159.6,384.2 159.7,384.2 159.8,384.1 159.9,384.1 160.0,384.1 160.1,384.1 160.2,384.1 160.4,384.0 160.5,384.0 160.6,384.0 160.7,384.0 160.8,384.0 160.9,383.9 161.0,383.9 161.1,383.9 161.2,383.9 161.3,383.9 161.4,383.9 161.5,383.8 161.6,383.8 161.7,383.8 161.8,383.8 161.9,383.8 162.0,383.7 162.1,383.7 162.2,383.7 162.3,383.7 162.4,383.7 162.5,383.7 162.6,383.6 162.7,383.6 162.8,383.6 162.9,383.6 163.0,383.6 163.1,383.6 163.2,383.5 163.3,383.5 163.4,383.5 163.5,383.5 163.6,383.5 163.7,383.5 163.8,383.4 163.9,383.4 164.0,383.4 164.1,383.4 164.2,383.4 164.3,383.4 164.4,383.3 164.5,383.3 164.6,383.3 164.7,383.3 164.8,383.3 164.9,383.3 165.0,383.3 165.1,383.2 165.2,383.2 165.3,383.2 165.4,383.2 165.5,383.2 165.6,383.2 165.7,383.1 165.8,383.1 165.9,383.1 166.0,383.1 166.1,383.1 166.2,383.1 166.3,383.1 166.4,383.0 166.5,383.0 166.6,383.0 166.7,383.0 166.8,383.0 166.9,383.0 167.0,383.0 167.1,382.9 167.2,382.9 167.3,382.9 167.4,382.9 167.5,382.9 167.6,382.9 167.7,382.9 167.9,382.9 168.0,382.8 168.1,382.8 168.2,382.8 168.3,382.8 168.4,382.8 168.5,382.8 168.6,382.8 168.7,382.8 168.8,382.7 168.9,382.7 169.0,382.7 169.1,382.7 169.2,382.7 169.3,382.7 169.4,382.7 169.5,382.7 169.6,382.6 169.7,382.6 169.8,382.6 169.9,382.6 170.0,382.6 170.1,382.6 170.2,382.6 170.3,382.6 170.4,382.5 170.5,382.5 170.6,382.5 170.7,382.5 170.8,382.5 170.9,382.5 171.0,382.5 171.1,382.5 171.2,382.5 171.3,382.4 171.4,382.4 171.5,382.4 171.6,382.4 171.7,382.4 171.8,382.4 171.9,382.4 172.0,382.4 172.1,382.4 172.2,382.3 172.3,382.3 172.4,382.3 172.5,382.3 172.6,382.3 172.7,382.3 172.8,382.3 172.9,382.3 173.0,382.3 173.1,382.3 173.2,382.2 173.3,382.2 173.4,382.2 173.5,382.2 173.6,382.2 173.7,382.2 173.8,382.2 173.9,382.2 174.0,382.2 174.1,382.2 174.2,382.1 174.3,382.1 174.4,382.1 174.5,382.1 174.6,382.1 174.7,382.1 174.8,382.1 174.9,382.1 175.0,382.1 175.1,382.1 175.2,382.1 175.4,382.0 175.5,382.0 175.6,382.0 175.7,382.0 175.8,382.0 175.9,382.0 176.0,382.0 176.1,382.0 176.2,382.0 176.3,382.0 176.4,382.0 176.5,381.9 176.6,381.9 176.7,381.9 176.8,381.9 176.9,381.9 177.0,381.9 177.1,381.9 177.2,381.9 177.3,381.9 177.4,381.9 177.5,381.9 177.6,381.9 177.7,381.8 177.8,381.8 177.9,381.8 178.0,381.8 178.1,381.8 178.2,381.8 178.3,381.8 178.4,381.8 178.5,381.8 178.6,381.8 178.7,381.8 178.8,381.8 178.9,381.8 179.0,381.7 179.1,381.7 179.2,381.7 179.3,381.7 179.4,381.7 179.5,381.7 179.6,381.7 179.7,381.7 179.8,381.7 179.9,381.7 180.0,381.7 180.1,381.7 180.2,381.7 180.3,381.7 180.4,381.6 180.5,381.6 180.6,381.6 180.7,381.6 180.8,381.6 180.9,381.6 181.0,381.6 181.1,381.6 181.2,381.6 181.3,381.6 181.4,381.6 181.5,381.6 181.6,381.6 181.7,381.6 181.8,381.6 181.9,381.5 182.0,381.5 182.1,381.5 182.2,381.5 182.3,381.5 182.4,381.5 182.5,381.5 182.6,381.5 182.7,381.5 182.9,381.5 183.0,381.5 183.1,381.5 183.2,381.5 183.3,381.5 183.4,381.5 183.5,381.5 183.6,381.4 183.7,381.4 183.8,381.4 183.9,381.4 184.0,381.4 184.1,381.4 184.2,381.4 184.3,381.4 184.4,381.4 184.5,381.4 184.6,381.4 184.7,381.4 184.8,381.4 184.9,381.4 185.0,381.4 185.1,381.4 185.2,381.4 185.3,381.4 185.4,381.3 185.5,381.3 185.6,381.3 185.7,381.3 185.8,381.3 185.9,381.3 186.0,381.3 186.1,381.3 186.2,381.3 186.3,381.3 186.4,381.3 186.5,381.3 186.6,381.3 186.7,381.3 186.8,381.3 186.9,381.3 187.0,381.3 187.1,381.3 187.2,381.3 187.3,381.2 187.4,381.2 187.5,381.2 187.6,381.2 187.7,381.2 187.8,381.2 187.9,381.2 188.0,381.2 188.1,381.2 188.2,381.2 188.3,381.2 188.4,381.2 188.5,381.2 188.6,381.2 188.7,381.2 188.8,381.2 188.9,381.2 189.0,381.2 189.1,381.2 189.2,381.2 189.3,381.2 189.4,381.2 189.5,381.1 189.6,381.1 189.7,381.1 189.8,381.1 189.9,381.1 190.0,381.1 190.1,381.1 190.2,381.1 190.4,381.1 190.5,381.1 190.6,381.1 190.7,381.1 190.8,381.1 190.9,381.1 191.0,381.1 191.1,381.1 191.2,381.1 191.3,381.1 191.4,381.1 191.5,381.1 191.6,381.1 191.7,381.1 191.8,381.1 191.9,381.1 192.0,381.0 192.1,381.0 192.2,381.0 192.3,381.0 192.4,381.0 192.5,381.0 192.6,381.0 192.7,381.0 192.8,381.0 192.9,381.0 193.0,381.0 193.1,381.0 193.2,381.0 193.3,381.0 193.4,381.0 193.5,381.0 193.6,381.0 193.7,381.0 193.8,381.0 193.9,381.0 194.0,381.0 194.1,381.0 194.2,381.0 194.3,381.0 194.4,381.0 194.5,381.0 194.6,381.0 194.7,381.0 194.8,380.9 194.9,380.9 195.0,380.9 195.1,380.9 195.2,380.9 195.3,380.9 195.4,380.9 195.5,380.9 195.6,380.9 195.7,380.9 195.8,380.9 195.9,380.9 196.0,380.9 196.1,380.9 196.2,380.9 196.3,380.9 196.4,380.9 196.5,380.9 196.6,380.9 196.7,380.9 196.8,380.9 196.9,380.9 197.0,380.9 197.1,380.9 197.2,380.9 197.3,380.9 197.4,380.9 197.5,380.9 197.6,380.9 197.7,380.9 197.9,380.9 198.0,380.9 198.1,380.8 198.2,380.8 198.3,380.8 198.4,380.8 198.5,380.8 198.6,380.8 198.7,380.8 198.8,380.8 198.9,380.8 199.0,380.8 199.1,380.8 199.2,380.8 199.3,380.8 199.4,380.8 199.5,380.8 199.6,380.8 199.7,380.8 199.8,380.8 199.9,380.8 200.0,380.8 200.1,380.8 200.2,380.8 200.3,380.8 200.4,380.8 200.5,380.8 200.6,380.8 200.7,380.8 200.8,380.8 200.9,380.8 201.0,380.8 201.1,380.8 201.2,380.8 201.3,380.8 201.4,380.8 201.5,380.8 201.6,380.8 201.7,380.8 201.8,380.8 201.9,380.8 202.0,380.7 202.1,380.7 202.2,380.7 202.3,380.7 202.4,380.7 202.5,380.7 202.6,380.7 202.7,380.7 202.8,380.7 202.9,380.7 203.0,380.7 203.1,380.7 203.2,380.7 203.3,380.7 203.4,380.7 203.5,380.7 203.6,380.7 203.7,380.7 203.8,380.7 203.9,380.7 204.0,380.7 204.1,380.7 204.2,380.7 204.3,380.7 204.4,380.7 204.5,380.7 204.6,380.7 204.7,380.7 204.8,380.7 206.9,380.7 208.9,380.6 210.9,380.6 213.0,380.6 215.0,380.5 217.0,380.5 219.0,380.5 219.1,380.5 219.2,380.5 219.3,380.5 219.4,380.5 219.5,380.5 219.6,380.5 219.7,380.5 219.8,380.5 219.9,380.5 220.0,380.5 220.1,380.5 220.2,380.5 220.4,380.5 220.5,377.9 220.6,375.4 220.7,372.9 220.8,370.4 220.9,367.8 221.0,368.0 221.1,368.1 221.2,368.3 221.3,368.4 221.4,368.5 221.5,368.7 221.6,368.8 221.7,368.9 221.8,369.0 221.9,369.2 222.0,369.3 222.1,369.4 222.2,369.5 222.3,369.6 222.4,369.7 222.5,369.8 222.6,369.9 222.7,370.0 222.8,370.0 222.9,370.1 223.0,370.2 223.1,370.3 223.2,370.4 223.3,370.5 223.4,370.5 223.5,370.6 223.6,370.7 223.7,370.8 223.8,370.8 223.9,370.9 224.0,371.0 224.1,371.0 224.2,371.1 224.3,371.2 224.4,371.2 224.5,371.3 224.6,371.4 224.7,371.4 224.8,371.5 224.9,371.5 225.0,371.6 225.1,371.6 225.2,371.7 225.3,371.8 225.4,371.8 225.5,371.9 225.6,371.9 225.7,372.0 225.8,372.0 225.9,372.1 226.0,372.1 226.1,372.2 226.2,372.2 226.3,372.3 226.4,372.3 226.5,372.4 226.6,372.4 226.7,372.4 226.8,372.5 226.9,372.5 227.0,372.6 227.1,372.6 227.2,372.7 227.3,372.7 227.4,372.8 227.5,372.8 227.6,372.8 227.7,372.9 227.9,372.9 228.0,373.0 228.1,373.0 228.2,373.0 228.3,373.1 228.4,373.1 228.5,373.2 228.6,373.2 228.7,373.2 228.8,373.3 228.9,373.3 229.0,373.4 229.1,373.4 229.2,373.4 229.3,373.5 229.4,373.5 229.5,373.5 229.6,373.6 229.7,373.6 229.8,373.6 229.9,373.7 230.0,373.7 230.1,373.8 230.2,373.8 230.3,373.8 230.4,373.9 230.5,373.9 230.6,373.9 230.7,374.0 230.8,374.0 230.9,374.0 231.0,374.1 231.1,374.1 231.2,374.1 231.3,374.2 231.4,374.2 231.5,374.2 231.6,374.2 231.7,374.3 231.8,374.3 231.9,374.3 232.0,374.4 232.1,374.4 232.2,374.4 232.3,374.5 232.4,374.5 232.5,374.5 232.6,374.6 232.7,374.6 232.8,374.6 232.9,374.6 233.0,374.7 233.1,374.7 233.2,374.7 233.3,374.8 233.4,374.8 233.5,374.8 233.6,374.8 233.7,374.9 233.8,374.9 233.9,374.9 234.0,375.0 234.1,375.0 234.2,375.0 234.3,375.0 234.4,375.1 234.5,375.1 234.6,375.1 234.7,375.1 234.8,375.2 234.9,375.2 235.0,375.2 235.1,375.3 235.2,375.3 235.4,375.3 235.5,375.3 235.6,375.4 235.7,375.4 235.8,375.4 235.9,375.4 236.0,375.5 236.1,375.5 236.2,375.5 236.3,375.5 236.4,375.6 236.5,375.6 236.6,375.6 236.7,375.6 236.8,375.7 236.9,375.7 237.0,375.7 237.1,375.7 237.2,375.7 237.3,375.8 237.4,375.8 237.5,375.8 237.6,375.8 237.7,375.9 237.8,375.9 237.9,375.9 238.0,375.9 238.1,376.0 238.2,376.0 238.3,376.0 238.4,376.0 238.5,376.0 238.6,376.1 238.7,376.1 238.8,376.1 238.9,376.1 239.0,376.2 239.1,376.2 239.2,376.2 239.3,376.2 239.4,376.2 239.5,376.3 239.6,376.3 239.7,376.3 239.8,376.3 239.9,376.3 240.0,376.4 240.1,376.4 240.2,376.4 240.3,376.4 240.4,376.4 240.5,376.5 240.6,376.5 240.7,376.5 240.8,376.5 240.9,376.5 241.0,376.6 241.1,376.6 241.2,376.6 241.3,376.6 241.4,376.6 241.5,376.7 241.6,376.7 241.7,376.7 241.8,376.7 241.9,376.7 242.0,376.7 242.1,376.8 242.2,376.8 242.3,376.8 242.4,376.8 242.5,376.8 242.6,376.9 242.7,376.9 242.9,376.9 243.0,376.9 243.1,376.9 243.2,376.9 243.3,377.0 243.4,377.0 243.5,377.0 243.6,377.0 243.7,377.0 243.8,377.0 243.9,377.1 244.0,377.1 244.1,377.1 244.2,377.1 244.3,377.1 244.4,377.1 244.5,377.2 244.6,377.2 244.7,377.2 244.8,377.2 244.9,377.2 245.0,377.2 245.1,377.3 245.2,377.3 245.3,377.3 245.4,377.3 245.5,377.3 245.6,377.3 245.7,377.3 245.8,377.4 245.9,377.4 246.0,377.4 246.1,377.4 246.2,377.4 246.3,377.4 246.4,377.5 246.5,377.5 246.6,377.5 246.7,377.5 246.8,377.5 246.9,377.5 247.0,377.5 247.1,377.6 247.2,377.6 247.3,377.6 247.4,377.6 247.5,377.6 247.6,377.6 247.7,377.6 247.8,377.7 247.9,377.7 248.0,377.7 248.1,377.7 248.2,377.7 248.3,377.7 248.4,377.7 248.5,377.7 248.6,377.8 248.7,377.8 248.8,377.8 248.9,377.8 249.0,377.8 249.1,377.8 249.2,377.8 249.3,377.8 249.4,377.9 249.5,377.9 249.6,377.9 249.7,377.9 249.8,377.9 249.9,377.9 250.0,377.9 250.1,377.9 250.2,378.0 250.4,378.0 250.5,378.0 250.6,378.0 250.7,378.0 250.8,378.0 250.9,378.0 251.0,378.0 251.1,378.1 251.2,378.1 251.3,378.1 251.4,378.1 251.5,378.1 251.6,378.1 251.7,378.1 251.8,378.1 251.9,378.1 252.0,378.2 252.1,378.2 252.2,378.2 252.3,378.2 252.4,378.2 252.5,378.2 252.6,378.2 252.7,378.2 252.8,378.2 252.9,378.3 253.0,378.3 253.1,378.3 253.2,378.3 253.3,378.3 253.4,378.3 253.5,378.3 253.6,378.3 253.7,378.3 253.8,378.3 253.9,378.4 254.0,378.4 254.1,378.4 254.2,378.4 254.3,378.4 254.4,378.4 254.5,378.4 254.6,378.4 254.7,378.4 254.8,378.4 254.9,378.5 255.0,378.5 255.1,378.5 255.2,378.5 255.3,378.5 255.4,378.5 255.5,378.5 255.6,378.5 255.7,378.5 255.8,378.5 255.9,378.5 256.0,378.6 256.1,378.6 256.2,378.6 256.3,378.6 256.4,378.6 256.5,378.6 256.6,378.6 256.7,378.6 256.8,378.6 256.9,378.6 257.0,378.6 257.1,378.7 257.2,378.7 257.3,378.7 257.4,378.7 257.5,378.7 257.6,378.7 257.7,378.7 257.9,378.7 258.0,378.7 258.1,378.7 258.2,378.7 258.3,378.7 258.4,378.8 258.5,378.8 258.6,378.8 258.7,378.8 258.8,378.8 258.9,378.8 259.0,378.8 259.1,378.8 259.2,378.8 259.3,378.8 259.4,378.8 259.5,378.8 259.6,378.8 259.7,378.9 259.8,378.9 259.9,378.9 260.0,378.9 260.1,378.9 260.2,378.9 260.3,378.9 260.4,378.9 260.5,378.9 260.6,378.9 260.7,378.9 260.8,378.9 260.9,378.9 261.0,378.9 261.1,379.0 261.2,379.0 261.3,379.0 261.4,379.0 261.5,379.0 261.6,379.0 261.7,379.0 261.8,379.0 261.9,379.0 262.0,379.0 262.1,379.0 262.2,379.0 262.3,379.0 262.4,379.0 262.5,379.0 262.6,379.1 262.7,379.1 262.8,379.1 262.9,379.1 263.0,379.1 263.1,379.1 263.2,379.1 263.3,379.1 263.4,379.1 263.5,379.1 263.6,379.1 263.7,379.1 263.8,379.1 263.9,379.1 264.0,379.1 264.1,379.1 264.2,379.2 264.3,379.2 264.4,379.2 264.5,379.2 264.6,379.2 264.7,379.2 264.8,379.2 264.9,379.2 265.0,379.2 265.1,379.2 265.2,379.2 265.3,379.2 265.5,379.2 265.6,379.2 265.7,379.2 265.8,379.2 265.9,379.2 266.0,379.2 266.1,379.3 266.2,379.3 266.3,379.3 266.4,379.3 266.5,379.3 266.6,379.3 266.7,379.3 266.8,379.3 266.9,379.3 267.0,379.3 267.1,379.3 267.2,379.3 267.3,379.3 267.4,379.3 267.5,379.3 267.6,379.3 267.7,379.3 267.8,379.3 267.9,379.3 268.0,379.4 268.1,379.4 268.2,379.4 268.3,379.4 268.4,379.4 268.5,379.4 268.6,379.4 268.7,379.4 268.8,379.4 268.9,379.4 269.0,379.4 269.1,379.4 269.2,379.4 269.3,379.4 269.4,379.4 269.5,379.4 269.6,379.4 269.7,379.4 269.8,379.4 269.9,379.4 270.0,379.4 270.1,379.4 270.2,379.5 270.3,379.5 270.4,379.5 270.5,379.5 270.6,379.5 270.7,379.5 270.8,379.5 270.9,379.5 271.0,379.5 271.1,379.5 271.2,379.5 271.3,379.5 271.4,379.5 271.5,379.5 271.6,379.5 271.7,379.5 271.8,379.5 271.9,379.5 272.0,379.5 272.1,379.5 272.2,379.5 272.3,379.5 272.4,379.5 272.5,379.5 272.6,379.6 272.7,379.6 272.8,379.6 273.0,379.6 273.1,379.6 273.2,379.6 273.3,379.6 273.4,379.6 273.5,379.6 273.6,379.6 273.7,379.6 273.8,379.6 273.9,379.6 274.0,379.6 274.1,379.6 274.2,379.6 274.3,379.6 274.4,379.6 274.5,379.6 274.6,379.6 274.7,379.6 274.8,379.6 274.9,379.6 275.0,379.6 275.1,379.6 275.2,379.6 275.3,379.6 275.4,379.6 275.5,379.7 275.6,379.7 275.7,379.7 275.8,379.7 275.9,379.7 276.0,379.7 276.1,379.7 276.2,379.7 276.3,379.7 276.4,379.7 276.5,379.7 276.6,379.7 276.7,379.7 276.8,379.7 276.9,379.7 277.0,379.7 277.1,379.7 277.2,379.7 277.3,379.7 277.4,379.7 277.5,379.7 277.6,379.7 277.7,379.7 277.8,379.7 277.9,379.7 278.0,379.7 278.1,379.7 278.2,379.7 278.3,379.7 278.4,379.7 278.5,379.7 278.6,379.7 278.7,379.8 278.8,379.8 278.9,379.8 279.0,379.8 279.1,379.8 279.2,379.8 279.3,379.8 279.4,379.8 279.5,379.8 279.6,379.8 279.7,379.8 279.8,379.8 279.9,379.8 280.0,379.8 280.1,379.8 280.2,379.8 280.3,379.8 280.5,379.8 280.6,379.8 280.7,379.8 280.8,379.8 280.9,379.8 281.0,379.8 281.1,379.8 281.2,379.8 281.3,379.8 281.4,379.8 281.5,379.8 281.6,379.8 281.7,379.8 281.8,379.8 281.9,379.8 282.0,379.8 282.1,379.8 282.2,379.8 282.3,379.8 282.4,379.8 282.5,379.8 282.6,379.8 282.7,379.9 282.8,379.9 282.9,379.9 283.0,379.9 283.1,379.9 283.2,379.9 283.3,379.9 283.4,379.9 283.5,379.9 283.6,379.9 283.7,379.9 283.8,379.9 283.9,379.9 284.0,379.9 284.1,379.9 284.2,379.9 284.3,379.9 284.4,379.9 284.5,379.9 284.6,379.9 284.7,379.9 284.8,379.9 284.9,379.9 285.0,379.9 285.1,379.9 285.2,379.9 285.3,379.9 285.4,379.9 285.5,379.9 285.6,379.9 285.7,379.9 285.8,379.9 285.9,379.9 288.0,380.0 290.0,380.0 292.0,380.0 294.0,380.0 296.1,380.1 298.1,380.1 300.1,380.1 300.2,380.1 300.3,380.1 300.4,380.1 300.5,380.1 300.6,380.1 300.7,380.1 300.8,380.1 300.9,380.1 301.0,380.1 301.1,380.1 301.2,380.1 301.3,380.1 301.4,380.1 301.5,380.8 301.6,381.4 301.7,382.0 301.8,382.7 301.9,383.3 302.0,383.3 302.1,383.2 302.2,383.2 302.3,383.1 302.4,383.1 302.5,383.1 302.6,383.1 302.7,383.0 302.8,383.0 303.0,383.0 303.1,382.9 303.2,382.9 303.3,382.9 303.4,382.9 303.5,382.8 303.6,382.8 303.7,382.8 303.8,382.8 303.9,382.7 304.0,382.7 304.1,382.7 304.2,382.7 304.3,382.7 304.4,382.6 304.5,382.6 304.6,382.6 304.7,382.6 304.8,382.6 304.9,382.6 305.0,382.5 305.1,382.5 305.2,382.5 305.3,382.5 305.4,382.5 305.5,382.5 305.6,382.4 305.7,382.4 305.8,382.4 305.9,382.4 306.0,382.4 306.1,382.4 306.2,382.4 306.3,382.3 306.4,382.3 306.5,382.3 306.6,382.3 306.7,382.3 306.8,382.3 306.9,382.3 307.0,382.3 307.1,382.2 307.2,382.2 307.3,382.2 307.4,382.2 307.5,382.2 307.6,382.2 307.7,382.2 307.8,382.2 307.9,382.2 308.0,382.1 308.1,382.1 308.2,382.1 308.3,382.1 308.4,382.1 308.5,382.1 308.6,382.1 308.7,382.1 308.8,382.1 308.9,382.1 309.0,382.0 309.1,382.0 309.2,382.0 309.3,382.0 309.4,382.0 309.5,382.0 309.6,382.0 309.7,382.0 309.8,382.0 309.9,382.0 310.0,382.0 310.1,381.9 310.2,381.9 310.3,381.9 310.5,381.9 310.6,381.9 310.7,381.9 310.8,381.9 310.9,381.9 311.0,381.9 311.1,381.9 311.2,381.9 311.3,381.9 311.4,381.8 311.5,381.8 311.6,381.8 311.7,381.8 311.8,381.8 311.9,381.8 312.0,381.8 312.1,381.8 312.2,381.8 312.3,381.8 312.4,381.8 312.5,381.8 312.6,381.7 312.7,381.7 312.8,381.7 312.9,381.7 313.0,381.7 313.1,381.7 313.2,381.7 313.3,381.7 313.4,381.7 313.5,381.7 313.6,381.7 313.7,381.7 313.8,381.7 313.9,381.7 314.0,381.6 314.1,381.6 314.2,381.6 314.3,381.6 314.4,381.6 314.5,381.6 314.6,381.6 314.7,381.6 314.8,381.6 314.9,381.6 315.0,381.6 315.1,381.6 315.2,381.6 315.3,381.6 315.4,381.6 315.5,381.5 315.6,381.5 315.7,381.5 315.8,381.5 315.9,381.5 316.0,381.5 316.1,381.5 316.2,381.5 316.3,381.5 316.4,381.5 316.5,381.5 316.6,381.5 316.7,381.5 316.8,381.5 316.9,381.5 317.0,381.5 317.1,381.4 317.2,381.4 317.3,381.4 317.4,381.4 317.5,381.4 317.6,381.4 317.7,381.4 317.8,381.4 318.0,381.4 318.1,381.4 318.2,381.4 318.3,381.4 318.4,381.4 318.5,381.4 318.6,381.4 318.7,381.4 318.8,381.4 318.9,381.4 319.0,381.3 319.1,381.3 319.2,381.3 319.3,381.3 319.4,381.3 319.5,381.3 319.6,381.3 319.7,381.3 319.8,381.3 319.9,381.3 320.0,381.3 320.1,381.3 320.2,381.3 320.3,381.3 320.4,381.3 320.5,381.3 320.6,381.3 320.7,381.3 320.8,381.3 320.9,381.2 321.0,381.2 321.1,381.2 321.2,381.2 321.3,381.2 321.4,381.2 321.5,381.2 321.6,381.2 321.7,381.2 321.8,381.2 321.9,381.2 322.0,381.2 322.1,381.2 322.2,381.2 322.3,381.2 322.4,381.2 322.5,381.2 322.6,381.2 322.7,381.2 322.8,381.2 322.9,381.2 323.0,381.1 323.1,381.1 323.2,381.1 323.3,381.1 323.4,381.1 323.5,381.1 323.6,381.1 323.7,381.1 323.8,381.1 323.9,381.1 324.0,381.1 324.1,381.1 324.2,381.1 324.3,381.1 324.4,381.1 324.5,381.1 324.6,381.1 324.7,381.1 324.8,381.1 324.9,381.1 325.0,381.1 325.1,381.1 325.2,381.1 325.3,381.1 325.5,381.1 325.6,381.0 325.7,381.0 325.8,381.0 325.9,381.0 326.0,381.0 326.1,381.0 326.2,381.0 326.3,381.0 326.4,381.0 326.5,381.0 326.6,381.0 326.7,381.0 326.8,381.0 326.9,381.0 327.0,381.0 327.1,381.0 327.2,381.0 327.3,381.0 327.4,381.0 327.5,381.0 327.6,381.0 327.7,381.0 327.8,381.0 327.9,381.0 328.0,381.0 328.1,381.0 328.2,381.0 328.3,381.0 328.4,380.9 328.5,380.9 328.6,380.9 328.7,380.9 328.8,380.9 328.9,380.9 329.0,380.9 329.1,380.9 329.2,380.9 329.3,380.9 329.4,380.9 329.5,380.9 329.6,380.9 329.7,380.9 329.8,380.9 329.9,380.9 330.0,380.9 330.1,380.9 330.2,380.9 330.3,380.9 330.4,380.9 330.5,380.9 330.6,380.9 330.7,380.9 330.8,380.9 330.9,380.9 331.0,380.9 331.1,380.9 331.2,380.9 331.3,380.9 331.4,380.9 331.5,380.9 331.6,380.8 331.7,380.8 331.8,380.8 331.9,380.8 332.0,380.8 332.1,380.8 332.2,380.8 332.3,380.8 332.4,380.8 332.5,380.8 332.6,380.8 332.7,380.8 332.8,380.8 333.0,380.8 333.1,380.8 333.2,380.8 333.3,380.8 333.4,380.8 333.5,380.8 333.6,380.8 333.7,380.8 333.8,380.8 333.9,380.8 334.0,380.8 334.1,380.8 334.2,380.8 334.3,380.8 334.4,380.8 334.5,380.8 334.6,380.8 334.7,380.8 334.8,380.8 334.9,380.8 335.0,380.8 335.1,380.8 335.2,380.8 335.3,380.8 335.4,380.8 335.5,380.8 335.6,380.7 335.7,380.7 335.8,380.7 335.9,380.7 336.0,380.7 336.1,380.7 336.2,380.7 336.3,380.7 336.4,380.7 336.5,380.7 336.6,380.7 336.7,380.7 336.8,380.7 336.9,380.7 337.0,380.7 337.1,380.7 337.2,380.7 337.3,380.7 337.4,380.7 337.5,380.7 337.6,380.7 337.7,380.7 337.8,380.7 337.9,380.7 338.0,380.7 338.1,380.7 338.2,380.7 338.3,380.7 338.4,380.7 338.5,380.7 338.6,380.7 338.7,380.7 338.8,380.7 338.9,380.7 339.0,380.7 339.1,380.7 339.2,380.7 339.3,380.7 339.4,380.7 339.5,380.7 339.6,380.7 339.7,380.7 339.8,380.7 339.9,380.7 340.0,380.7 340.1,380.7 340.2,380.7 340.3,380.7 340.5,380.7 340.6,380.6 340.7,380.6 340.8,380.6 340.9,380.6 341.0,380.6 341.1,380.6 341.2,380.6 341.3,380.6 341.4,380.6 341.5,380.6 341.6,380.6 341.7,380.6 341.8,380.6 341.9,380.6 342.0,380.6 342.1,380.6 342.2,380.6 342.3,380.6 342.4,380.6 342.5,380.6 342.6,380.6 342.7,380.6 342.8,380.6 342.9,380.6 343.0,380.6 343.1,380.6 343.2,380.6 343.3,380.6 343.4,380.6 343.5,380.6 343.6,380.6 343.7,380.6 343.8,380.6 343.9,380.6 344.0,380.6 344.1,380.6 344.2,380.6 344.3,380.6 344.4,380.6 344.5,380.6 344.6,380.6 344.7,380.6 344.8,380.6 344.9,380.6 345.0,380.6 345.1,380.6 345.2,380.6 345.3,380.6 345.4,380.6 345.5,380.6 345.6,380.6 345.7,380.6 345.8,380.6 345.9,380.6 346.0,380.6 346.1,380.6 346.2,380.6 346.3,380.6 346.4,380.6 346.5,380.6 346.6,380.6 346.7,380.6 346.8,380.6 346.9,380.6 347.0,380.6 347.1,380.5 347.2,380.5 347.3,380.5 347.4,380.5 347.5,380.5 347.6,380.5 347.7,380.5 347.8,380.5 348.0,380.5 348.1,380.5 348.2,380.5 348.3,380.5 348.4,380.5 348.5,380.5 348.6,380.5 348.7,380.5 348.8,380.5 348.9,380.5 349.0,380.5 349.1,380.5 349.2,380.5 349.3,380.5 349.4,380.5 349.5,380.5 349.6,380.5 349.7,380.5 349.8,380.5 349.9,380.5 350.0,380.5 350.1,380.5 350.2,380.5 350.3,380.5 350.4,380.5 350.5,380.5 350.6,380.5 350.7,380.5 350.8,380.5 350.9,380.5 351.0,380.5 351.1,380.5 351.2,380.5 351.3,380.5 351.4,380.5 351.5,380.5 351.6,380.5 351.7,380.5 351.8,380.5 351.9,380.5 352.0,380.5 352.1,380.5 352.2,380.5 352.3,380.5 352.4,380.5 352.5,380.5 352.6,380.5 352.7,380.5 352.8,380.5 352.9,380.5 353.0,380.5 353.1,380.5 353.2,380.5 353.3,380.5 353.4,380.5 353.5,380.5 353.6,380.5 353.7,380.5 353.8,380.5 353.9,380.5 354.0,380.5 354.1,380.5 354.2,380.5 354.3,380.5 354.4,380.5 354.5,380.5 354.6,380.5 354.7,380.5 354.8,380.5 354.9,380.5 355.0,380.5 355.1,380.5 355.2,380.5 355.3,380.5 355.5,380.5 355.6,380.5 355.7,380.5 355.8,380.5 355.9,380.5 356.0,380.5 356.1,380.5 356.2,380.5 356.3,380.5 356.4,380.5 356.5,380.5 356.6,380.5 356.7,380.5 356.8,380.5 356.9,380.5 357.0,380.5 357.1,380.5 357.2,380.4 357.3,380.4 357.4,380.4 357.5,380.4 357.6,380.4 357.7,380.4 357.8,380.4 357.9,380.4 358.0,380.4 358.1,380.4 358.2,380.4 358.3,380.4 358.4,380.4 358.5,380.4 358.6,380.4 358.7,380.4 358.8,380.4 358.9,380.4 359.0,380.4 359.1,380.4 359.2,380.4 359.3,380.4 359.4,380.4 359.5,380.4 359.6,380.4 359.7,380.4 359.8,380.4 359.9,380.4 360.0,380.4 360.1,380.4 360.2,380.4 360.3,380.4 360.4,380.4 360.5,380.4 360.6,380.4 360.7,380.4 360.8,380.4 360.9,380.4 361.0,380.4 361.1,380.4 361.2,380.4 361.3,380.4 361.4,380.4 361.5,380.4 361.6,380.4 361.7,380.4 361.8,380.4 361.9,380.4 362.0,380.4 362.1,380.4 362.2,380.4 362.3,380.4 362.4,380.4 362.5,380.4 362.6,380.4 362.7,380.4 362.8,380.4 362.9,380.4 363.1,380.4 363.2,380.4 363.3,380.4 363.4,380.4 363.5,380.4 363.6,380.4 363.7,380.4 363.8,380.4 363.9,380.4 364.0,380.4 364.1,380.4 364.2,380.4 364.3,380.4 364.4,380.4 364.5,380.4 364.6,380.4 364.7,380.4 364.8,380.4 364.9,380.4 365.0,380.4 365.1,380.4 365.2,380.4 365.3,380.4 365.4,380.4 365.5,380.4 365.6,380.4 365.7,380.4 365.8,380.4 365.9,380.4 366.0,380.4 366.1,380.4 366.2,380.4 366.3,380.4 366.4,380.4 366.5,380.4 366.6,380.4 366.7,380.4 366.8,380.4 366.9,380.4 367.0,380.4 369.0,380.4 371.1,380.4 373.1,380.4 375.1,380.4 377.1,380.4 379.2,380.3 381.2,380.3 381.3,380.3 381.4,380.3 381.5,380.3 381.6,380.3 381.7,380.3 381.8,380.3 381.9,380.3 382.0,380.3 382.1,380.3 382.2,380.3 382.3,380.3 382.4,380.3 382.5,380.3 382.6,380.0 382.7,379.7 382.8,379.4 382.9,379.1 383.0,378.8 383.1,378.8 383.2,378.8 383.3,378.8 383.4,378.8 383.5,378.8 383.6,378.9 383.7,378.9 383.8,378.9 383.9,378.9 384.0,378.9 384.1,378.9 384.2,379.0 384.3,379.0 384.4,379.0 384.5,379.0 384.6,379.0 384.7,379.0 384.8,379.0 384.9,379.0 385.0,379.0 385.1,379.1 385.2,379.1 385.3,379.1 385.4,379.1 385.6,379.1 385.7,379.1 385.8,379.1 385.9,379.1 386.0,379.1 386.1,379.1 386.2,379.1 386.3,379.2 386.4,379.2 386.5,379.2 386.6,379.2 386.7,379.2 386.8,379.2 386.9,379.2 387.0,379.2 387.1,379.2 387.2,379.2 387.3,379.2 387.4,379.2 387.5,379.2 387.6,379.3 387.7,379.3 387.8,379.3 387.9,379.3 388.0,379.3 388.1,379.3 388.2,379.3 388.3,379.3 388.4,379.3 388.5,379.3 388.6,379.3 388.7,379.3 388.8,379.3 388.9,379.3 389.0,379.3 389.1,379.3 389.2,379.3 389.3,379.4 389.4,379.4 389.5,379.4 389.6,379.4 389.7,379.4 389.8,379.4 389.9,379.4 390.0,379.4 390.1,379.4 390.2,379.4 390.3,379.4 390.4,379.4 390.5,379.4 390.6,379.4 390.7,379.4 390.8,379.4 390.9,379.4 391.0,379.4 391.1,379.4 391.2,379.4 391.3,379.5 391.4,379.5 391.5,379.5 391.6,379.5 391.7,379.5 391.8,379.5 391.9,379.5 392.0,379.5 392.1,379.5 392.2,379.5 392.3,379.5 392.4,379.5 392.5,379.5 392.6,379.5 392.7,379.5 392.8,379.5 392.9,379.5 393.1,379.5 393.2,379.5 393.3,379.5 393.4,379.5 393.5,379.5 393.6,379.5 393.7,379.6 393.8,379.6 393.9,379.6 394.0,379.6 394.1,379.6 394.2,379.6 394.3,379.6 394.4,379.6 394.5,379.6 394.6,379.6 394.7,379.6 394.8,379.6 394.9,379.6 395.0,379.6 395.1,379.6 395.2,379.6 395.3,379.6 395.4,379.6 395.5,379.6 395.6,379.6 395.7,379.6 395.8,379.6 395.9,379.6 396.0,379.6 396.1,379.6 396.2,379.6 396.3,379.6 396.4,379.6 396.5,379.7 396.6,379.7 396.7,379.7 396.8,379.7 396.9,379.7 397.0,379.7 397.1,379.7 397.2,379.7 397.3,379.7 397.4,379.7 397.5,379.7 397.6,379.7 397.7,379.7 397.8,379.7 397.9,379.7 398.0,379.7 398.1,379.7 398.2,379.7 398.3,379.7 398.4,379.7 398.5,379.7 398.6,379.7 398.7,379.7 398.8,379.7 398.9,379.7 399.0,379.7 399.1,379.7 399.2,379.7 399.3,379.7 399.4,379.7 399.5,379.7 399.6,379.7 399.7,379.8 399.8,379.8 399.9,379.8 400.0,379.8 400.1,379.8 400.2,379.8 400.3,379.8 400.4,379.8 400.6,379.8 400.7,379.8 400.8,379.8 400.9,379.8 401.0,379.8 401.1,379.8 401.2,379.8 401.3,379.8 401.4,379.8 401.5,379.8 401.6,379.8 401.7,379.8 401.8,379.8 401.9,379.8 402.0,379.8 402.1,379.8 402.2,379.8 402.3,379.8 402.4,379.8 402.5,379.8 402.6,379.8 402.7,379.8 402.8,379.8 402.9,379.8 403.0,379.8 403.1,379.8 403.2,379.8 403.3,379.8 403.4,379.8 403.5,379.8 403.6,379.8 403.7,379.9 403.8,379.9 403.9,379.9 404.0,379.9 404.1,379.9 404.2,379.9 404.3,379.9 404.4,379.9 404.5,379.9 404.6,379.9 404.7,379.9 404.8,379.9 404.9,379.9 405.0,379.9 405.1,379.9 405.2,379.9 405.3,379.9 405.4,379.9 405.5,379.9 405.6,379.9 405.7,379.9 405.8,379.9 405.9,379.9 406.0,379.9 406.1,379.9 406.2,379.9 406.3,379.9 406.4,379.9 406.5,379.9 406.6,379.9 406.7,379.9 406.8,379.9 406.9,379.9 407.0,379.9 407.1,379.9 407.2,379.9 407.3,379.9 407.4,379.9 407.5,379.9 407.6,379.9 407.7,379.9 407.8,379.9 407.9,379.9 408.1,379.9 408.2,379.9 408.3,379.9 408.4,379.9 408.5,379.9 408.6,379.9 408.7,380.0 408.8,380.0 408.9,380.0 409.0,380.0 409.1,380.0 409.2,380.0 409.3,380.0 409.4,380.0 409.5,380.0 409.6,380.0 409.7,380.0 409.8,380.0 409.9,380.0 410.0,380.0 410.1,380.0 410.2,380.0 410.3,380.0 410.4,380.0 410.5,380.0 410.6,380.0 410.7,380.0 410.8,380.0 410.9,380.0 411.0,380.0 411.1,380.0 411.2,380.0 411.3,380.0 411.4,380.0 411.5,380.0 411.6,380.0 411.7,380.0 411.8,380.0 411.9,380.0 412.0,380.0 412.1,380.0 412.2,380.0 412.3,380.0 412.4,380.0 412.5,380.0 412.6,380.0 412.7,380.0 412.8,380.0 412.9,380.0 413.0,380.0 413.1,380.0 413.2,380.0 413.3,380.0 413.4,380.0 413.5,380.0 413.6,380.0 413.7,380.0 413.8,380.0 413.9,380.0 414.0,380.0 414.1,380.0 414.2,380.0 414.3,380.0 414.4,380.0 414.5,380.0 414.6,380.0 414.7,380.0 414.8,380.0 414.9,380.0 415.0,380.0 415.1,380.0 415.2,380.1 415.3,380.1 415.4,380.1 415.6,380.1 415.7,380.1 415.8,380.1 415.9,380.1 416.0,380.1 416.1,380.1 416.2,380.1 416.3,380.1 416.4,380.1 416.5,380.1 416.6,380.1 416.7,380.1 416.8,380.1 416.9,380.1 417.0,380.1 417.1,380.1 417.2,380.1 417.3,380.1 417.4,380.1 417.5,380.1 417.6,380.1 417.7,380.1 417.8,380.1 417.9,380.1 418.0,380.1 418.1,380.1 418.2,380.1 418.3,380.1 418.4,380.1 418.5,380.1 418.6,380.1 418.7,380.1 418.8,380.1 418.9,380.1 419.0,380.1 419.1,380.1 419.2,380.1 419.3,380.1 419.4,380.1 419.5,380.1 419.6,380.1 419.7,380.1 419.8,380.1 419.9,380.1 420.0,380.1 420.1,380.1 420.2,380.1 420.3,380.1 420.4,380.1 420.5,380.1 420.6,380.1 420.7,380.1 420.8,380.1 420.9,380.1 421.0,380.1 421.1,380.1 421.2,380.1 421.3,380.1 421.4,380.1 421.5,380.1 421.6,380.1 421.7,380.1 421.8,380.1 421.9,380.1 422.0,380.1 422.1,380.1 422.2,380.1 422.3,380.1 422.4,380.1 422.5,380.1 422.6,380.1 422.7,380.1 422.8,380.1 422.9,380.1 423.1,380.1 423.2,380.1 423.3,380.1 423.4,380.1 423.5,380.1 423.6,380.1 423.7,380.1 423.8,380.1 423.9,380.1 424.0,380.1 424.1,380.1 424.2,380.1 424.3,380.1 424.4,380.1 424.5,380.1 424.6,380.1 424.7,380.1 424.8,380.1 424.9,380.1 425.0,380.1 425.1,380.1 425.2,380.1 425.3,380.2 425.4,380.2 425.5,380.2 425.6,380.2 425.7,380.2 425.8,380.2 425.9,380.2 426.0,380.2 426.1,380.2 426.2,380.2 426.3,380.2 426.4,380.2 426.5,380.2 426.6,380.2 426.7,380.2 426.8,380.2 426.9,380.2 427.0,380.2 427.1,380.2 427.2,380.2 427.3,380.2 427.4,380.2 427.5,380.2 427.6,380.2 427.7,380.2 427.8,380.2 427.9,380.2 428.0,380.2 428.1,380.2 428.2,380.2 428.3,380.2 428.4,380.2 428.5,380.2 428.6,380.2 428.7,380.2 428.8,380.2 428.9,380.2 429.0,380.2 429.1,380.2 429.2,380.2 429.3,380.2 429.4,380.2 429.5,380.2 429.6,380.2 429.7,380.2 429.8,380.2 429.9,380.2 430.0,380.2 430.1,380.2 430.2,380.2 430.3,380.2 430.4,380.2 430.6,380.2 430.7,380.2 430.8,380.2 430.9,380.2 431.0,380.2 431.1,380.2 431.2,380.2 431.3,380.2 431.4,380.2 431.5,380.2 431.6,380.2 431.7,380.2 431.8,380.2 431.9,380.2 432.0,380.2 432.1,380.2 432.2,380.2 432.3,380.2 432.4,380.2 432.5,380.2 432.6,380.2 432.7,380.2 432.8,380.2 432.9,380.2 433.0,380.2 433.1,380.2 433.2,380.2 433.3,380.2 433.4,380.2 433.5,380.2 433.6,380.2 433.7,380.2 433.8,380.2 433.9,380.2 434.0,380.2 434.1,380.2 434.2,380.2 434.3,380.2 434.4,380.2 434.5,380.2 434.6,380.2 434.7,380.2 434.8,380.2 434.9,380.2 435.0,380.2 435.1,380.2 435.2,380.2 435.3,380.2 435.4,380.2 435.5,380.2 435.6,380.2 435.7,380.2 435.8,380.2 435.9,380.2 436.0,380.2 436.1,380.2 436.2,380.2 436.3,380.2 436.4,380.2 436.5,380.2 436.6,380.2 436.7,380.2 436.8,380.2 436.9,380.2 437.0,380.2 437.1,380.2 437.2,380.2 437.3,380.2 437.4,380.2 437.5,380.2 437.6,380.2 437.7,380.2 437.8,380.2 437.9,380.2 438.1,380.2 438.2,380.2 438.3,380.2 438.4,380.2 438.5,380.2 438.6,380.2 438.7,380.2 438.8,380.2 438.9,380.2 439.0,380.2 439.1,380.2 439.2,380.2 439.3,380.2 439.4,380.2 439.5,380.2 439.6,380.2 439.7,380.2 439.8,380.2 439.9,380.2 440.0,380.2 440.1,380.2 440.2,380.2 440.3,380.2 440.4,380.2 440.5,380.2 440.6,380.2 440.7,380.2 440.8,380.2 440.9,380.2 441.0,380.2 441.1,380.2 441.2,380.2 441.3,380.2 441.4,380.2 441.5,380.2 441.6,380.2 441.7,380.2 441.8,380.2 441.9,380.2 442.0,380.2 442.1,380.2 442.2,380.2 442.3,380.2 442.4,380.2 442.5,380.2 442.6,380.2 442.7,380.2 442.8,380.2 442.9,380.2 443.0,380.2 443.1,380.2 443.2,380.2 443.3,380.2 443.4,380.2 443.5,380.2 443.6,380.2 443.7,380.2 443.8,380.2 443.9,380.2 444.0,380.2 444.1,380.2 444.2,380.2 444.3,380.2 444.4,380.2 444.5,380.2 444.6,380.2 444.7,380.2 444.8,380.2 444.9,380.2 445.0,380.2 445.1,380.2 445.2,380.2 445.3,380.2 445.4,380.2 445.6,380.2 445.7,380.2 445.8,380.2 445.9,380.2 446.0,380.2 446.1,380.2 446.2,380.2 446.3,380.2 446.4,380.2 446.5,380.2 446.6,380.2 446.7,380.2 446.8,380.2 446.9,380.3 447.0,380.3 447.1,380.3 447.2,380.3 447.3,380.3 447.4,380.3 447.5,380.3 447.6,380.3 447.7,380.3 447.8,380.3 447.9,380.3 448.0,380.3 448.1,380.3 450.1,380.3 452.1,380.3 454.2,380.3 456.2,380.3 458.2,380.3 460.2,380.3 462.3,380.3 464.3,380.3" stroke="#000f6c" stroke-width="2.5" transform="translate(0 0.15)"/>
</g>
<text x="53" y="507.2" font-family="'Liberation Serif', 'Times New Roman', serif" font-weight="bold" stroke="#000" stroke-width="0.12" font-size="13.3" text-anchor="end" transform="translate(53 0) scale(1.1 1) translate(-53 0)">-1.5</text>
<text x="53" y="466.4" font-family="'Liberation Serif', 'Times New Roman', serif" font-weight="bold" stroke="#000" stroke-width="0.12" font-size="13.3" text-anchor="end" transform="translate(53 0) scale(1.1 1) translate(-53 0)">-1</text>
<text x="53" y="425.6" font-family="'Liberation Serif', 'Times New Roman', serif" font-weight="bold" stroke="#000" stroke-width="0.12" font-size="13.3" text-anchor="end" transform="translate(53 0) scale(1.1 1) translate(-53 0)">-0.5</text>
<text x="53" y="384.8" font-family="'Liberation Serif', 'Times New Roman', serif" font-weight="bold" stroke="#000" stroke-width="0.12" font-size="13.3" text-anchor="end" transform="translate(53 0) scale(1.1 1) translate(-53 0)">0</text>
<text x="53" y="344.0" font-family="'Liberation Serif', 'Times New Roman', serif" font-weight="bold" stroke="#000" stroke-width="0.12" font-size="13.3" text-anchor="end" transform="translate(53 0) scale(1.1 1) translate(-53 0)">0.5</text>
<text x="53" y="303.2" font-family="'Liberation Serif', 'Times New Roman', serif" font-weight="bold" stroke="#000" stroke-width="0.12" font-size="13.3" text-anchor="end" transform="translate(53 0) scale(1.1 1) translate(-53 0)">1</text>
<text x="53" y="262.4" font-family="'Liberation Serif', 'Times New Roman', serif" font-weight="bold" stroke="#000" stroke-width="0.12" font-size="13.3" text-anchor="end" transform="translate(53 0) scale(1.1 1) translate(-53 0)">1.5</text>
<text x="59.1" y="520.3" font-family="'Liberation Serif', 'Times New Roman', serif" font-weight="bold" stroke="#000" stroke-width="0.12" font-size="13.3" text-anchor="middle" transform="translate(59.1 0) scale(1.12 1) translate(-59.1 0)">0</text>
<text x="160.2" y="520.3" font-family="'Liberation Serif', 'Times New Roman', serif" font-weight="bold" stroke="#000" stroke-width="0.12" font-size="13.3" text-anchor="middle" transform="translate(160.2 0) scale(1.12 1) translate(-160.2 0)">50</text>
<text x="261.4" y="520.3" font-family="'Liberation Serif', 'Times New Roman', serif" font-weight="bold" stroke="#000" stroke-width="0.12" font-size="13.3" text-anchor="middle" transform="translate(261.4 0) scale(1.12 1) translate(-261.4 0)">100</text>
<text x="362.5" y="520.3" font-family="'Liberation Serif', 'Times New Roman', serif" font-weight="bold" stroke="#000" stroke-width="0.12" font-size="13.3" text-anchor="middle" transform="translate(362.5 0) scale(1.12 1) translate(-362.5 0)">150</text>
<text x="463.6" y="520.3" font-family="'Liberation Serif', 'Times New Roman', serif" font-weight="bold" stroke="#000" stroke-width="0.12" font-size="13.3" text-anchor="middle" transform="translate(463.6 0) scale(1.12 1) translate(-463.6 0)">200</text>
<text x="209.9" y="538.3" font-family="'Liberation Serif', 'Times New Roman', serif" font-weight="bold" stroke="#000" stroke-width="0.3" font-size="14.8" textLength="103.9" lengthAdjust="spacingAndGlyphs">Time (seconds)</text>
<text transform="translate(19.5 474.4) rotate(-90)" x="0" y="0" font-family="'Liberation Serif', 'Times New Roman', serif" font-weight="bold" font-size="16.2" textLength="172.6" lengthAdjust="spacingAndGlyphs">Change in Frequency (pu)</text>
<text x="71.3" y="329.4" font-family="'Liberation Serif', 'Times New Roman', serif" font-weight="bold" stroke="#000" stroke-width="0.3" font-size="12.3" textLength="24.6" lengthAdjust="spacingAndGlyphs">10%</text>
<text x="163.1" y="326.9" font-family="'Liberation Serif', 'Times New Roman', serif" font-weight="bold" stroke="#000" stroke-width="0.3" font-size="12.3" textLength="24.6" lengthAdjust="spacingAndGlyphs">50%</text>
<text x="245.5" y="328.9" font-family="'Liberation Serif', 'Times New Roman', serif" font-weight="bold" stroke="#000" stroke-width="0.3" font-size="12.3" textLength="24.6" lengthAdjust="spacingAndGlyphs">10%</text>
<text x="296.2" y="324.7" font-family="'Liberation Serif', 'Times New Roman', serif" font-weight="bold" stroke="#000" stroke-width="0.3" font-size="12.3" textLength="24.6" lengthAdjust="spacingAndGlyphs">20%</text>
<text x="351.1" y="323.2" font-family="'Liberation Serif', 'Times New Roman', serif" font-weight="bold" stroke="#000" stroke-width="0.3" font-size="12.3" textLength="24.6" lengthAdjust="spacingAndGlyphs">15%</text>
<line x1="80.1" y1="335.2" x2="73.1" y2="358.0" stroke="#000" stroke-width="2.25"/><polygon points="71.3,363.9 69.9,354.1 73.1,358.0 78.0,356.5" fill="#000"/>
<line x1="173.0" y1="332.4" x2="165.5" y2="355.6" stroke="#000" stroke-width="2.25"/><polygon points="163.6,361.5 162.4,351.6 165.5,355.6 170.4,354.2" fill="#000"/>
<line x1="254.9" y1="334.6" x2="247.3" y2="358.0" stroke="#000" stroke-width="2.25"/><polygon points="245.4,363.9 244.2,354.0 247.3,358.0 252.2,356.6" fill="#000"/>
<line x1="307.3" y1="330.5" x2="314.0" y2="355.0" stroke="#000" stroke-width="2.25"/><polygon points="315.6,361.0 309.2,353.4 314.0,355.0 317.3,351.2" fill="#000"/>
<line x1="362.5" y1="329.0" x2="379.9" y2="357.2" stroke="#000" stroke-width="2.25"/><polygon points="383.2,362.5 374.9,357.1 379.9,357.2 382.0,352.6" fill="#000"/>
<rect x="395.4" y="263.6" width="59.7" height="56.7" fill="#fff" stroke="#4d4d4d" stroke-width="1.2"/>
<line x1="399.6" y1="271.7" x2="419.8" y2="271.7" stroke="#1f6fd0" stroke-width="4" stroke-linecap="round"/>
<line x1="399.6" y1="272.2" x2="419.8" y2="272.2" stroke="#00126e" stroke-width="2.8" stroke-linecap="round"/>
<text x="424" y="276.2" font-family="'Liberation Serif', 'Times New Roman', serif" font-weight="bold" stroke="#000" stroke-width="0.3" font-size="12">MPC</text>
<line x1="398.1" y1="285.6" x2="421.3" y2="285.6" stroke="#c9603a" stroke-width="1.1"/>
<text x="424" y="289.8" font-family="'Liberation Serif', 'Times New Roman', serif" font-weight="bold" stroke="#000" stroke-width="0.3" font-size="12">FA</text>
<line x1="398.1" y1="298.7" x2="421.3" y2="298.7" stroke="#e0bc5a" stroke-width="1.2"/>
<text x="424" y="302.9" font-family="'Liberation Serif', 'Times New Roman', serif" font-weight="bold" stroke="#000" stroke-width="0.3" font-size="12">GA</text>
<line x1="398.1" y1="312.7" x2="421.3" y2="312.7" stroke="#84588e" stroke-width="1.1"/>
<text x="424" y="316.9" font-family="'Liberation Serif', 'Times New Roman', serif" font-weight="bold" stroke="#000" stroke-width="0.3" font-size="12">PI</text>
</svg>
</body></html>
